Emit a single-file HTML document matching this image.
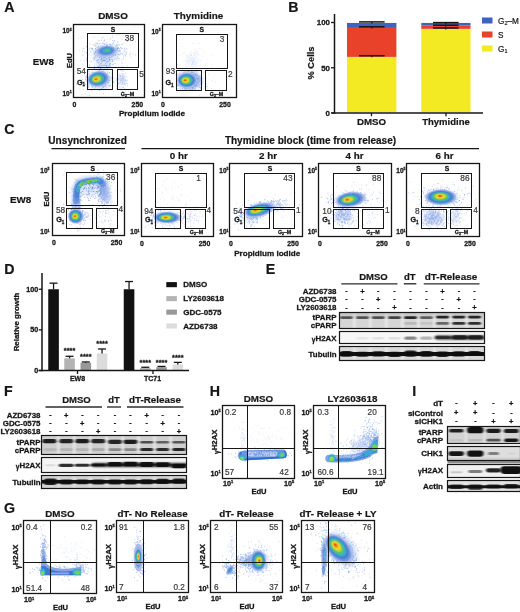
<!DOCTYPE html>
<html><head><meta charset="utf-8"><title>Figure</title>
<style>html,body{margin:0;padding:0;background:#fff}svg{display:block;font-family:"Liberation Sans", sans-serif}</style>
</head><body>
<svg width="520" height="612" viewBox="0 0 520 612">
<defs>
<filter id="b1" x="-30%" y="-30%" width="160%" height="160%"><feGaussianBlur stdDeviation="0.7"/></filter>
<filter id="b0" x="-10%" y="-10%" width="120%" height="120%"><feGaussianBlur stdDeviation="0.35"/></filter>
<filter id="b3" x="-50%" y="-50%" width="200%" height="200%"><feGaussianBlur stdDeviation="2"/></filter>
<filter id="b2" x="-30%" y="-30%" width="160%" height="160%"><feGaussianBlur stdDeviation="1.2"/></filter>
<filter id="bb" x="-30%" y="-60%" width="160%" height="220%"><feGaussianBlur stdDeviation="1.1 0.7"/></filter>
<filter id="bb2" x="-30%" y="-60%" width="160%" height="220%"><feGaussianBlur stdDeviation="1.8 0.9"/></filter>
</defs>
<rect width="520" height="612" fill="#fff"/>

<text x="4.3" y="12.3" font-size="14.2" font-weight="bold" text-anchor="start" fill="#161616" stroke="#161616" stroke-width="0.2">A</text>
<text x="288.3" y="12.2" font-size="14.2" font-weight="bold" text-anchor="start" fill="#161616" stroke="#161616" stroke-width="0.2">B</text>
<text x="4.3" y="134.3" font-size="14.2" font-weight="bold" text-anchor="start" fill="#161616" stroke="#161616" stroke-width="0.2">C</text>
<text x="4.3" y="274.2" font-size="14.2" font-weight="bold" text-anchor="start" fill="#161616" stroke="#161616" stroke-width="0.2">D</text>
<text x="265.7" y="274.3" font-size="14.2" font-weight="bold" text-anchor="start" fill="#161616" stroke="#161616" stroke-width="0.2">E</text>
<text x="4" y="396" font-size="14.2" font-weight="bold" text-anchor="start" fill="#161616" stroke="#161616" stroke-width="0.2">F</text>
<text x="209.8" y="396" font-size="14.2" font-weight="bold" text-anchor="start" fill="#161616" stroke="#161616" stroke-width="0.2">H</text>
<text x="412.2" y="396" font-size="14.2" font-weight="bold" text-anchor="start" fill="#161616" stroke="#161616" stroke-width="0.2">I</text>
<text x="4" y="512.8" font-size="14.2" font-weight="bold" text-anchor="start" fill="#161616" stroke="#161616" stroke-width="0.2">G</text>
<text x="32.8" y="64.8" font-size="9.8" font-weight="bold" text-anchor="start" fill="#161616" stroke="#161616" stroke-width="0.2">EW8</text>
<text x="113" y="18.7" font-size="9.9" font-weight="bold" text-anchor="middle" fill="#161616" stroke="#161616" stroke-width="0.2">DMSO</text>
<text x="198.5" y="18.7" font-size="9.9" font-weight="bold" text-anchor="middle" fill="#161616" stroke="#161616" stroke-width="0.2">Thymidine</text>
<text x="72" y="60.5" font-size="7.5" font-weight="bold" text-anchor="middle" fill="#161616" stroke="#161616" stroke-width="0.28" transform="rotate(-90 72 60.5)">EdU</text>
<text x="152" y="115.6" font-size="8.1" font-weight="bold" text-anchor="middle" fill="#161616" stroke="#161616" stroke-width="0.28">Propidium iodide</text>
<ellipse cx="106" cy="53" rx="13" ry="7" fill="#9fb6ea" opacity="0.55" filter="url(#b3)" transform="rotate(-5 106 53)"/>
<ellipse cx="103" cy="63" rx="8" ry="7" fill="#9fb6ea" opacity="0.35" filter="url(#b3)" transform="rotate(0 103 63)"/>
<clipPath id="k1"><rect x="86" y="68" width="28" height="23"/></clipPath>
<g clip-path="url(#k1)"><ellipse cx="99" cy="80" rx="11" ry="8" fill="#9fb6ea" opacity="0.7" filter="url(#b3)" transform="rotate(0 99 80)"/></g>
<ellipse cx="122" cy="80" rx="3" ry="6" fill="#9fb6ea" opacity="0.3" filter="url(#b3)" transform="rotate(0 122 80)"/>
<path d="M102.8 55.7h0.8M102.6 48.6h0.8M91.4 50.5h0.8M124.7 53.0h0.8M123.4 51.7h0.8M113.0 52.0h0.8M80.3 60.6h0.8M115.0 54.5h0.8M78.0 38.5h0.8M91.8 48.3h0.8M111.4 50.2h0.8M114.4 44.8h0.8M111.8 53.9h0.8M97.1 66.6h0.8M116.3 60.4h0.8M96.0 45.6h0.8M100.9 50.6h0.8M116.9 52.2h0.8M98.6 43.5h0.8M99.0 62.1h0.8M93.7 54.2h0.8M112.3 37.7h0.8M108.3 62.1h0.8M104.2 44.2h0.8M114.5 49.8h0.8M83.6 60.1h0.8M118.0 58.1h0.8M129.9 52.1h0.8M107.5 39.8h0.8M115.9 44.9h0.8M98.3 40.9h0.8M90.5 47.8h0.8M125.7 31.9h0.8M83.2 55.1h0.8M130.2 53.9h0.8M111.7 44.2h0.8M89.2 60.9h0.8M124.3 50.8h0.8M110.8 54.4h0.8M132.6 54.0h0.8M115.3 54.9h0.8M82.2 64.1h0.8M122.3 54.2h0.8M118.7 34.4h0.8M104.3 59.9h0.8M86.6 66.6h0.8M115.3 48.9h0.8M112.2 56.1h0.8M109.3 60.6h0.8M95.5 48.4h0.8M123.3 49.8h0.8M93.0 60.3h0.8M129.7 45.1h0.8M84.2 51.8h0.8M103.9 48.7h0.8M128.3 40.3h0.8M125.8 38.4h0.8M94.3 57.5h0.8M125.3 56.7h0.8M112.2 51.7h0.8M109.4 55.7h0.8M103.9 53.6h0.8M115.7 50.2h0.8M119.2 54.7h0.8M139.1 50.9h0.8M99.3 48.4h0.8M107.0 58.9h0.8M101.4 54.8h0.8M134.1 26.6h0.8M88.6 54.7h0.8M113.1 52.5h0.8M100.1 57.2h0.8M110.7 46.2h0.8M97.5 50.9h0.8M102.8 50.8h0.8M121.9 39.6h0.8M106.1 59.2h0.8M121.4 62.5h0.8M78.9 50.4h0.8M101.5 56.8h0.8" stroke="#a9bdee" stroke-width="0.8" opacity="0.75" fill="none" filter="url(#b0)"/>
<path d="M116.7 35.0h0.8M117.3 41.9h0.8M113.0 42.0h0.8M108.9 57.5h0.8M105.0 52.2h0.8M115.0 51.1h0.8M106.3 59.7h0.8M117.5 48.4h0.8M135.0 42.0h0.8M116.1 48.7h0.8M108.2 54.8h0.8M109.2 54.4h0.8M89.6 44.0h0.8M112.5 45.0h0.8M94.9 43.7h0.8M120.3 54.0h0.8M121.6 44.4h0.8M106.0 44.6h0.8M115.4 59.2h0.8M97.8 60.6h0.8M116.9 49.1h0.8M86.3 60.7h0.8M105.2 47.7h0.8M110.9 52.9h0.8M121.9 43.9h0.8M119.3 58.3h0.8M121.8 48.6h0.8M99.1 57.4h0.8M107.8 51.6h0.8M121.4 48.2h0.8M82.0 51.0h0.8M87.3 57.3h0.8M109.6 47.3h0.8M106.8 55.7h0.8M108.0 58.4h0.8M106.4 56.9h0.8M123.1 58.6h0.8M99.8 56.6h0.8M86.1 46.7h0.8M86.2 58.8h0.8M93.5 52.1h0.8M104.5 51.0h0.8M100.4 52.9h0.8M125.5 49.6h0.8M112.6 56.1h0.8M103.8 44.1h0.8M101.1 57.5h0.8M88.8 49.2h0.8M117.6 54.5h0.8M107.0 55.5h0.8M107.7 44.2h0.8M89.6 48.9h0.8M116.0 47.0h0.8M96.6 47.5h0.8M90.2 51.8h0.8M94.2 54.1h0.8M81.7 55.0h0.8M98.8 40.7h0.8M114.0 48.8h0.8M82.5 48.2h0.8M109.4 48.2h0.8M115.1 54.5h0.8M113.7 52.2h0.8M120.9 53.5h0.8M110.3 38.9h0.8M116.6 57.5h0.8M103.1 48.6h0.8M126.2 39.4h0.8M112.7 64.1h0.8M97.0 55.7h0.8M126.4 48.6h0.8M112.9 55.5h0.8M96.9 51.3h0.8M110.0 55.4h0.8M106.0 49.9h0.8M95.6 49.9h0.8M116.0 50.7h0.8M97.1 47.1h0.8M135.3 54.9h0.8M112.0 35.9h0.8M113.3 53.1h0.8M124.5 51.8h0.8M106.0 54.0h0.8M86.4 58.6h0.8M109.6 46.8h0.8M121.4 59.9h0.8M91.3 48.6h0.8M109.7 51.8h0.8M101.8 45.9h0.8M129.5 54.8h0.8M93.2 44.6h0.8M125.0 55.0h0.8M126.2 53.9h0.8M97.4 53.3h0.8M83.3 48.8h0.8M106.1 54.0h0.8M98.7 51.0h0.8M111.5 52.7h0.8M113.4 51.6h0.8M103.5 55.7h0.8M106.6 46.3h0.8M99.9 51.6h0.8M105.4 52.0h0.8M106.6 52.0h0.8M104.5 44.1h0.8M111.5 56.5h0.8M111.0 49.5h0.8M110.8 45.2h0.8M86.5 53.1h0.8M97.0 56.0h0.8M93.7 37.3h0.8M96.3 60.8h0.8M101.8 43.7h0.8M98.7 54.6h0.8M111.8 51.5h0.8M122.6 53.6h0.8M106.6 54.4h0.8M124.5 54.9h0.8M116.8 44.0h0.8M105.3 55.2h0.8M103.9 57.3h0.8M113.3 55.5h0.8M105.5 65.5h0.8M119.5 48.6h0.8M108.7 65.5h0.8M103.3 56.2h0.8M116.9 50.1h0.8M94.2 53.1h0.8M110.9 57.0h0.8M114.8 50.4h0.8M115.8 53.2h0.8M108.7 51.1h0.8M104.3 55.1h0.8M95.0 48.5h0.8M105.8 42.8h0.8M100.9 40.1h0.8M99.6 54.8h0.8M112.5 50.2h0.8M103.3 43.3h0.8M126.1 52.2h0.8M117.6 45.0h0.8M103.6 41.0h0.8M115.2 55.5h0.8M86.4 52.5h0.8M112.3 40.5h0.8M86.7 46.7h0.8M99.2 43.7h0.8M107.0 52.4h0.8M113.6 54.3h0.8M123.0 56.1h0.8M92.4 49.4h0.8M94.8 45.9h0.8M105.6 51.1h0.8" stroke="#7d9de3" stroke-width="0.8" opacity="0.8" fill="none" filter="url(#b0)"/>
<path d="M109.7 44.3h0.8M97.1 51.7h0.8M104.9 49.9h0.8M105.8 48.0h0.8M112.0 52.0h0.8M105.6 48.3h0.8M104.2 40.1h0.8M99.0 51.8h0.8M95.1 52.8h0.8M107.1 45.3h0.8M104.5 49.9h0.8M110.2 53.2h0.8M105.9 47.6h0.8M105.4 50.8h0.8M112.2 51.7h0.8M100.5 46.0h0.8M103.4 48.3h0.8M98.0 51.3h0.8M102.8 51.8h0.8M110.3 49.0h0.8M124.1 48.2h0.8M114.9 50.8h0.8M114.2 40.7h0.8M100.9 52.5h0.8M111.9 60.0h0.8M109.4 55.9h0.8M112.7 54.3h0.8M110.3 50.0h0.8M110.0 46.3h0.8M115.1 46.1h0.8M109.1 59.4h0.8M104.8 51.2h0.8M115.4 50.3h0.8M100.4 52.6h0.8M111.2 53.5h0.8M101.2 58.6h0.8M119.2 50.0h0.8M108.4 49.1h0.8M117.0 47.2h0.8M111.5 48.6h0.8M101.5 54.4h0.8M116.7 50.1h0.8M101.6 54.7h0.8M106.2 52.3h0.8M118.5 54.6h0.8M103.3 60.6h0.8M106.8 54.2h0.8M101.6 51.3h0.8M93.8 59.4h0.8M116.5 45.2h0.8M94.5 45.5h0.8M115.3 48.4h0.8M105.9 49.8h0.8M105.2 46.7h0.8M106.2 45.2h0.8M106.1 52.3h0.8M110.0 49.8h0.8M99.7 52.2h0.8M103.4 57.6h0.8M112.3 50.0h0.8M102.7 48.5h0.8M99.2 50.2h0.8M108.9 52.9h0.8M111.6 59.1h0.8M101.1 51.5h0.8M127.1 41.6h0.8M102.6 52.0h0.8M107.8 52.5h0.8M104.8 52.6h0.8M107.2 54.1h0.8M91.8 48.7h0.8M106.1 46.8h0.8M98.8 54.2h0.8M101.8 54.0h0.8M112.3 51.7h0.8M110.3 50.2h0.8M95.8 51.8h0.8M109.8 48.6h0.8M106.0 54.1h0.8M100.0 54.2h0.8M120.5 47.5h0.8M107.6 50.3h0.8M118.3 51.2h0.8M113.1 47.6h0.8M106.4 51.0h0.8M93.5 58.0h0.8M112.7 43.3h0.8M112.1 50.0h0.8M110.0 52.2h0.8M95.0 51.1h0.8M117.7 47.7h0.8M98.2 46.2h0.8M97.3 53.2h0.8M119.6 51.6h0.8M109.2 59.8h0.8M102.3 48.6h0.8M110.7 52.9h0.8M98.4 47.0h0.8M108.8 51.8h0.8M96.5 51.1h0.8M102.5 53.2h0.8M105.6 50.7h0.8M104.2 55.5h0.8M117.0 48.6h0.8M112.7 47.4h0.8M107.3 54.0h0.8M117.9 48.4h0.8M106.0 51.8h0.8M95.1 52.1h0.8M101.5 52.9h0.8M97.2 43.8h0.8M106.9 52.0h0.8M102.6 55.0h0.8M104.2 48.7h0.8M109.6 44.4h0.8M101.3 51.4h0.8M112.9 49.8h0.8M108.6 48.1h0.8M109.4 57.5h0.8M102.1 61.0h0.8M101.6 51.5h0.8M108.2 55.0h0.8M96.3 43.3h0.8M111.4 53.8h0.8M112.2 61.2h0.8M108.2 51.9h0.8M113.7 51.9h0.8M118.7 44.9h0.8M102.4 37.4h0.8M112.6 49.0h0.8M114.3 59.1h0.8M106.4 50.0h0.8M102.4 48.0h0.8M101.9 54.0h0.8M106.8 51.2h0.8M105.5 54.8h0.8" stroke="#4f82d6" stroke-width="0.8" opacity="0.8" fill="none" filter="url(#b0)"/>
<path d="M108.6 61.7h0.8M110.6 61.6h0.8M89.9 76.8h0.8M108.3 53.9h0.8M115.3 66.3h0.8M85.2 78.3h0.8M106.8 71.5h0.8M105.3 61.6h0.8M85.4 72.2h0.8M103.3 60.3h0.8M107.0 63.7h0.8M110.7 59.5h0.8M102.6 42.7h0.8M98.2 69.4h0.8M118.2 59.5h0.8M101.6 78.0h0.8M99.3 70.0h0.8M122.1 63.4h0.8M117.0 56.3h0.8M105.4 62.3h0.8M104.3 73.7h0.8M130.2 56.7h0.8M96.4 67.7h0.8M91.0 67.7h0.8" stroke="#a9bdee" stroke-width="0.8" opacity="0.75" fill="none" filter="url(#b0)"/>
<path d="M107.3 61.3h0.8M107.0 53.3h0.8M108.7 53.3h0.8M97.8 59.5h0.8M100.0 68.4h0.8M103.6 60.5h0.8M107.1 72.9h0.8M103.0 65.3h0.8M112.3 64.7h0.8M93.4 78.6h0.8M119.6 50.6h0.8M102.7 65.6h0.8M110.2 67.2h0.8M101.0 56.4h0.8M103.8 69.5h0.8M94.8 56.6h0.8M102.8 50.9h0.8M101.0 60.3h0.8M106.4 58.6h0.8M96.4 60.5h0.8M102.6 58.8h0.8M103.1 67.7h0.8M111.9 73.7h0.8M97.1 60.4h0.8M84.4 74.9h0.8M97.6 62.8h0.8M106.9 54.5h0.8M106.5 62.8h0.8M89.3 64.8h0.8M112.0 51.3h0.8M109.1 64.3h0.8M106.6 65.8h0.8M112.8 61.6h0.8M109.6 60.4h0.8M108.5 57.9h0.8M102.2 73.8h0.8M106.3 62.0h0.8M94.4 58.1h0.8M104.5 68.9h0.8M106.2 66.3h0.8M102.7 71.5h0.8M100.1 59.6h0.8M109.7 63.4h0.8M100.9 59.4h0.8" stroke="#7d9de3" stroke-width="0.8" opacity="0.8" fill="none" filter="url(#b0)"/>
<path d="M101.6 65.8h0.8M104.9 57.6h0.8M105.3 63.8h0.8M97.6 66.5h0.8M101.5 61.5h0.8M107.3 68.9h0.8M99.3 65.0h0.8M98.3 73.4h0.8M100.3 68.4h0.8M99.5 66.7h0.8M115.0 51.6h0.8M100.7 65.3h0.8M102.5 60.0h0.8M114.6 63.4h0.8M94.1 66.8h0.8M93.7 68.2h0.8M99.9 63.7h0.8M109.8 63.5h0.8M95.5 55.4h0.8M109.4 66.3h0.8M98.6 66.9h0.8M105.7 65.9h0.8M90.8 61.6h0.8M107.9 66.3h0.8M107.8 51.9h0.8M103.9 65.2h0.8M116.8 58.7h0.8M101.2 63.2h0.8M107.8 61.0h0.8M109.2 59.5h0.8M104.4 60.6h0.8M103.9 59.9h0.8M94.4 67.9h0.8M104.6 60.5h0.8M104.1 67.5h0.8M97.7 62.5h0.8M105.9 65.4h0.8M101.2 53.5h0.8M109.7 64.5h0.8" stroke="#4f82d6" stroke-width="0.8" opacity="0.8" fill="none" filter="url(#b0)"/>
<path d="M122.0 78.5h0.8M122.7 77.7h0.8M119.3 75.9h0.8M120.4 76.6h0.8M119.0 83.5h0.8M118.6 83.6h0.8M119.4 81.9h0.8M125.6 81.1h0.8M120.1 80.3h0.8M122.4 70.5h0.8M120.4 80.9h0.8M120.8 80.4h0.8M123.9 84.2h0.8M124.4 83.2h0.8M121.3 79.9h0.8M121.3 78.3h0.8M121.5 70.5h0.8M121.1 79.9h0.8M119.5 79.9h0.8M123.3 79.1h0.8M127.4 65.7h0.8M121.5 70.0h0.8M124.5 94.6h0.8M115.5 80.7h0.8M123.3 78.3h0.8M123.4 67.7h0.8M124.2 82.0h0.8M122.1 76.8h0.8M123.7 77.3h0.8M122.6 77.2h0.8M116.2 79.8h0.8M122.5 84.1h0.8M119.7 79.8h0.8M123.6 80.8h0.8M125.2 91.0h0.8M119.6 69.4h0.8M124.2 88.4h0.8M124.4 84.5h0.8M120.4 76.1h0.8M124.3 75.0h0.8M117.3 74.5h0.8M128.5 90.6h0.8M120.2 76.0h0.8M122.6 75.9h0.8M125.4 79.6h0.8M119.2 87.2h0.8M120.5 81.2h0.8M122.0 78.3h0.8M122.8 76.2h0.8M117.2 67.9h0.8M118.7 75.8h0.8M121.9 80.3h0.8M123.4 80.7h0.8M119.9 76.1h0.8M116.5 79.1h0.8M123.3 82.9h0.8M121.7 79.0h0.8M124.4 80.1h0.8M123.9 83.2h0.8M122.6 87.2h0.8M120.5 78.0h0.8M119.9 75.6h0.8M126.0 89.7h0.8M122.1 83.1h0.8M125.1 84.4h0.8M125.1 73.1h0.8M120.3 82.5h0.8M125.7 80.6h0.8M119.8 78.1h0.8M120.3 75.3h0.8M125.9 76.6h0.8M122.1 91.9h0.8M125.1 81.8h0.8M120.4 82.3h0.8M126.2 83.4h0.8M125.3 80.5h0.8M123.3 78.9h0.8M123.1 87.2h0.8M118.3 79.7h0.8M122.6 76.9h0.8M121.2 84.3h0.8M127.2 83.5h0.8M122.8 71.5h0.8M127.0 80.4h0.8M121.9 73.8h0.8M121.9 74.0h0.8M122.2 82.6h0.8M122.1 81.5h0.8M119.8 87.9h0.8M120.3 70.0h0.8M121.5 75.8h0.8M119.4 78.0h0.8M122.8 73.5h0.8M121.6 87.8h0.8M123.8 79.2h0.8M122.3 79.3h0.8M121.9 84.0h0.8M121.8 66.8h0.8M121.9 75.1h0.8M123.7 76.6h0.8M122.4 92.0h0.8M119.3 73.8h0.8M118.3 66.8h0.8M117.1 82.0h0.8M120.3 69.7h0.8M118.1 83.4h0.8M120.0 78.0h0.8M122.9 87.5h0.8M127.0 85.7h0.8M122.4 81.0h0.8" stroke="#8fa9e6" stroke-width="0.8" opacity="0.6" fill="none" filter="url(#b0)"/>
<path d="M121.7 89.0h0.8M94.7 84.4h0.8M101.6 80.0h0.8M90.3 69.6h0.8M89.6 67.8h0.8M113.6 82.4h0.8M84.9 93.9h0.8M106.6 62.3h0.8M121.5 83.7h0.8M121.8 66.0h0.8M105.0 82.7h0.8M100.7 81.1h0.8M109.1 65.5h0.8M81.2 70.3h0.8M90.5 75.8h0.8M102.8 81.6h0.8M97.6 74.2h0.8M93.7 88.8h0.8M107.5 79.5h0.8M95.9 93.7h0.8M91.5 86.5h0.8M111.8 75.8h0.8M106.8 69.1h0.8M110.6 79.9h0.8M79.4 88.4h0.8M88.6 92.4h0.8M89.5 79.8h0.8M101.1 76.7h0.8M100.5 74.9h0.8M106.2 78.9h0.8M97.3 56.3h0.8M112.2 78.3h0.8M76.3 83.9h0.8M105.0 88.3h0.8M86.6 95.0h0.8M97.0 86.0h0.8M92.2 71.2h0.8M112.5 85.8h0.8M117.8 84.6h0.8M89.0 66.9h0.8M89.2 75.4h0.8M88.7 86.3h0.8M101.7 77.2h0.8M99.9 78.5h0.8M101.5 86.0h0.8M108.9 72.5h0.8M81.3 94.7h0.8M100.7 89.2h0.8M77.5 80.0h0.8M96.6 67.7h0.8M92.6 87.0h0.8M113.1 91.6h0.8M85.8 69.6h0.8M105.5 87.1h0.8M98.8 68.6h0.8M108.5 85.4h0.8M104.2 74.9h0.8M102.7 86.2h0.8M89.0 65.4h0.8" stroke="#a9bdee" stroke-width="0.8" opacity="0.75" fill="none" filter="url(#b0)"/>
<path d="M101.0 82.3h0.8M98.8 84.9h0.8M93.2 80.2h0.8M96.0 83.5h0.8M110.6 76.8h0.8M115.7 86.2h0.8M104.8 82.4h0.8M112.1 77.0h0.8M96.3 74.2h0.8M102.9 87.0h0.8M102.6 81.8h0.8M96.5 81.2h0.8M87.4 87.5h0.8M93.8 74.3h0.8M91.3 76.3h0.8M105.7 84.9h0.8M87.8 86.7h0.8M104.7 75.8h0.8M85.5 77.5h0.8M93.2 82.6h0.8M93.5 69.1h0.8M98.7 71.2h0.8M104.3 72.3h0.8M91.8 76.0h0.8M94.7 87.8h0.8M105.3 82.4h0.8M99.4 71.0h0.8M93.4 77.5h0.8M90.5 83.9h0.8M91.5 76.9h0.8M88.0 69.7h0.8M103.8 86.7h0.8M98.6 74.4h0.8M76.4 84.0h0.8M108.0 80.3h0.8M106.6 87.2h0.8M106.7 76.3h0.8M107.1 83.1h0.8M85.3 79.5h0.8M86.5 81.0h0.8M101.8 73.4h0.8M82.5 89.6h0.8M102.2 87.8h0.8M88.2 87.4h0.8M116.3 88.8h0.8M96.5 81.7h0.8M97.5 85.7h0.8M106.4 79.3h0.8M87.6 85.7h0.8M94.7 84.0h0.8M101.4 88.7h0.8M106.8 76.2h0.8M102.2 89.4h0.8M94.0 83.0h0.8M108.6 85.7h0.8M101.1 72.1h0.8M88.0 82.8h0.8M103.1 93.8h0.8M92.0 87.3h0.8M102.9 69.8h0.8M91.5 81.9h0.8M93.9 79.7h0.8M101.1 75.0h0.8M101.3 75.9h0.8M94.0 83.6h0.8M93.6 82.2h0.8M110.9 78.3h0.8M97.4 84.3h0.8M95.9 86.4h0.8M88.2 84.9h0.8M93.3 76.1h0.8M111.6 73.3h0.8M112.6 81.7h0.8M108.9 72.9h0.8M108.8 86.8h0.8M97.0 79.4h0.8M117.9 78.2h0.8M94.1 77.0h0.8M101.8 81.3h0.8M100.8 89.4h0.8M95.7 83.0h0.8M109.0 72.8h0.8M107.8 89.0h0.8M86.2 75.4h0.8M88.2 70.9h0.8M100.2 69.1h0.8M103.2 87.5h0.8M84.8 80.1h0.8M83.2 86.5h0.8M91.9 79.4h0.8M98.9 83.0h0.8M95.2 80.5h0.8M93.7 81.3h0.8M88.6 81.7h0.8M82.1 79.5h0.8M113.5 78.3h0.8M88.1 82.9h0.8M88.9 71.9h0.8M92.7 84.9h0.8M101.0 79.0h0.8M89.7 75.0h0.8M109.1 79.8h0.8M88.7 69.3h0.8M88.9 95.3h0.8M88.7 80.9h0.8M99.6 78.9h0.8M94.7 72.7h0.8M90.9 90.6h0.8" stroke="#7d9de3" stroke-width="0.8" opacity="0.8" fill="none" filter="url(#b0)"/>
<path d="M94.1 84.0h0.8M88.0 80.3h0.8M100.1 83.9h0.8M91.8 83.3h0.8M99.8 76.7h0.8M100.3 76.0h0.8M93.4 80.6h0.8M82.2 81.8h0.8M91.4 74.9h0.8M96.0 83.4h0.8M96.4 85.4h0.8M90.5 75.7h0.8M107.2 80.3h0.8M103.0 75.9h0.8M102.8 80.4h0.8M101.8 79.6h0.8M104.6 76.4h0.8M91.6 74.9h0.8M104.3 76.1h0.8M91.4 77.1h0.8M94.7 75.3h0.8M96.0 77.7h0.8M94.3 76.6h0.8M98.0 78.1h0.8M98.8 80.9h0.8M98.7 70.9h0.8M94.4 77.2h0.8M101.6 73.0h0.8M93.7 79.4h0.8M96.6 84.2h0.8M96.0 84.2h0.8M88.5 73.9h0.8M105.3 80.8h0.8M100.9 80.1h0.8M100.1 74.7h0.8M103.2 77.1h0.8M103.8 79.5h0.8M85.8 76.4h0.8M104.5 78.5h0.8M95.8 81.3h0.8M95.2 78.2h0.8M98.7 80.5h0.8M106.8 78.9h0.8M109.9 85.7h0.8M108.5 82.9h0.8M98.8 80.4h0.8M96.8 77.2h0.8M97.3 77.5h0.8M107.8 80.8h0.8M94.3 72.7h0.8M97.5 78.4h0.8M91.1 76.3h0.8M85.3 84.1h0.8M99.1 90.4h0.8M97.7 79.4h0.8M106.4 79.4h0.8M98.8 78.4h0.8M95.3 86.5h0.8M104.8 86.1h0.8M96.0 80.4h0.8M93.4 84.6h0.8M90.2 83.4h0.8M105.1 84.8h0.8M93.2 85.1h0.8M93.4 77.5h0.8M91.0 85.7h0.8M107.2 76.3h0.8M93.4 79.3h0.8M113.1 82.0h0.8M93.8 73.2h0.8M94.8 85.3h0.8M108.7 77.4h0.8M93.7 78.5h0.8M87.6 85.2h0.8M92.3 85.1h0.8M87.4 76.3h0.8M99.2 76.7h0.8M102.5 79.4h0.8M91.5 83.5h0.8M101.8 71.6h0.8M108.9 80.5h0.8M101.4 71.9h0.8M93.6 79.2h0.8M103.4 73.3h0.8M91.7 72.6h0.8M96.8 81.6h0.8M87.9 79.0h0.8M101.9 85.9h0.8M101.7 78.2h0.8M90.6 77.2h0.8M94.2 81.1h0.8M98.7 86.7h0.8M99.1 75.5h0.8M107.5 82.5h0.8M98.2 77.0h0.8M86.6 77.4h0.8" stroke="#4f82d6" stroke-width="0.8" opacity="0.8" fill="none" filter="url(#b0)"/>
<g filter="url(#b1)" opacity="0.95" transform="rotate(-5 107.5 50)"><ellipse cx="106.0" cy="51.0" rx="10.5" ry="5.6" fill="#aabdec"/><ellipse cx="106.29" cy="50.8" rx="8.45" ry="4.51" fill="#7396dc"/><ellipse cx="106.58" cy="50.61" rx="6.41" ry="3.42" fill="#4682d0"/><ellipse cx="106.88" cy="50.41" rx="4.36" ry="2.32" fill="#3aaecb"/><ellipse cx="107.17" cy="50.22" rx="2.31" ry="1.23" fill="#56c46c"/></g>
<g filter="url(#b1)" opacity="1.0" transform="rotate(-10 95.6 79.3)"><ellipse cx="98.6" cy="79.3" rx="11.0" ry="7.6" fill="#aabdec"/><ellipse cx="98.24" cy="79.3" rx="9.68" ry="6.69" fill="#7396dc"/><ellipse cx="97.88" cy="79.3" rx="8.36" ry="5.78" fill="#4682d0"/><ellipse cx="97.46" cy="79.3" rx="6.82" ry="4.71" fill="#3aaecb"/><ellipse cx="97.1" cy="79.3" rx="5.5" ry="3.8" fill="#56c46c"/><ellipse cx="96.74" cy="79.3" rx="4.18" ry="2.89" fill="#b6d83e"/><ellipse cx="96.44" cy="79.3" rx="3.08" ry="2.13" fill="#f0d426"/><ellipse cx="96.11" cy="79.3" rx="1.87" ry="1.29" fill="#f08e24"/><ellipse cx="95.82" cy="79.3" rx="0.82" ry="0.57" fill="#e4401c"/></g>
<rect x="73.5" y="24.5" width="71.0" height="73.0" fill="none" stroke="#161616" stroke-width="1.3"/>
<rect x="87.5" y="33.5" width="51.0" height="34.0" fill="none" stroke="#161616" stroke-width="1.0"/>
<rect x="87.5" y="69.5" width="25.0" height="20.0" fill="none" stroke="#161616" stroke-width="1.0"/>
<rect x="117.5" y="69.5" width="20.0" height="20.0" fill="none" stroke="#161616" stroke-width="1.0"/>
<text x="113" y="32" font-size="6.8" font-weight="bold" text-anchor="middle" fill="#161616" stroke="#161616" stroke-width="0.28">S</text>
<text x="134.0" y="41.4" font-size="8.3" font-weight="normal" text-anchor="end" fill="#3a3a3a" stroke="#3a3a3a" stroke-width="0.2">38</text>
<text x="85.9" y="74.1" font-size="8.3" font-weight="normal" text-anchor="end" fill="#3a3a3a" stroke="#3a3a3a" stroke-width="0.2">54</text>
<text x="139.20000000000002" y="77.1" font-size="8.3" font-weight="normal" text-anchor="start" fill="#3a3a3a" stroke="#3a3a3a" stroke-width="0.2">5</text>
<text x="81" y="84.5" font-size="7.2" font-weight="bold" text-anchor="middle" fill="#161616" stroke="#161616" stroke-width="0.28">G<tspan dy="1.6" font-size="4.5">1</tspan></text>
<text x="127.5" y="96" font-size="5.3" font-weight="bold" text-anchor="middle" fill="#161616" stroke="#161616" stroke-width="0.28">G<tspan dy="1" font-size="3.4">2</tspan><tspan dy="-1">–M</tspan></text>
<text x="62.5" y="33.3" font-size="6.5" font-weight="bold" text-anchor="start" fill="#161616" stroke="#161616" stroke-width="0.28">10<tspan dy="-2.47" font-size="3.58">5</tspan></text>
<text x="62.5" y="95.5" font-size="6.5" font-weight="bold" text-anchor="start" fill="#161616" stroke="#161616" stroke-width="0.28">10<tspan dy="-2.47" font-size="3.58">1</tspan></text>
<text x="74.3" y="106.5" font-size="6.9" font-weight="bold" text-anchor="middle" fill="#161616" stroke="#161616" stroke-width="0.28">0</text>
<text x="137.3" y="106.5" font-size="6.9" font-weight="bold" text-anchor="middle" fill="#161616" stroke="#161616" stroke-width="0.28">250</text>
<ellipse cx="192" cy="62" rx="7" ry="6" fill="#9fb6ea" opacity="0.12" filter="url(#b3)" transform="rotate(0 192 62)"/>
<clipPath id="k2"><rect x="176" y="70" width="26.5" height="21"/></clipPath>
<g clip-path="url(#k2)"><ellipse cx="189" cy="80.5" rx="12" ry="9" fill="#86a3e6" opacity="0.85" filter="url(#b3)" transform="rotate(0 189 80.5)"/></g>
<path d="M197.9 54.4h0.8M183.4 61.4h0.8M193.6 64.2h0.8M196.3 69.9h0.8M186.5 66.9h0.8M185.6 64.9h0.8M193.2 61.7h0.8M198.3 59.9h0.8M199.2 66.1h0.8M192.9 56.0h0.8M187.1 56.3h0.8M190.7 59.8h0.8M211.4 64.5h0.8M197.0 54.0h0.8M187.4 57.8h0.8M193.2 52.7h0.8M202.5 56.1h0.8M199.0 43.6h0.8M192.0 61.9h0.8M193.2 64.2h0.8M193.8 61.1h0.8M179.7 55.0h0.8M176.8 64.4h0.8M194.0 58.6h0.8M186.7 55.9h0.8M204.0 72.1h0.8M191.6 69.0h0.8M181.7 46.5h0.8M188.9 53.9h0.8M188.4 61.3h0.8M211.7 55.4h0.8M192.3 61.9h0.8M191.8 66.5h0.8M203.5 51.3h0.8M193.1 58.1h0.8M194.3 49.3h0.8M180.6 43.8h0.8M195.4 61.3h0.8M192.5 43.4h0.8M189.6 54.7h0.8M182.8 53.6h0.8M196.5 63.8h0.8M191.9 63.6h0.8M188.1 60.5h0.8M192.3 63.9h0.8M191.5 59.0h0.8M191.1 55.5h0.8M206.5 63.6h0.8M194.8 76.0h0.8M201.1 49.1h0.8M196.5 65.9h0.8M204.3 69.2h0.8M197.0 51.8h0.8M186.3 61.9h0.8M195.3 52.8h0.8M189.5 57.2h0.8M192.4 62.4h0.8M190.1 51.3h0.8M200.1 71.2h0.8M191.3 67.2h0.8M194.9 64.6h0.8M195.1 54.7h0.8M195.7 67.1h0.8M186.2 73.8h0.8M205.6 72.8h0.8M204.9 65.2h0.8M189.8 55.8h0.8M186.7 60.8h0.8M191.8 64.7h0.8M178.9 76.2h0.8M206.8 59.8h0.8M196.4 63.3h0.8M193.8 58.5h0.8M191.2 54.2h0.8M193.2 59.8h0.8M194.1 54.0h0.8M192.3 60.3h0.8M195.9 52.6h0.8M194.7 66.9h0.8M195.9 57.4h0.8M188.8 58.3h0.8M196.7 70.9h0.8M191.0 55.5h0.8M194.4 61.4h0.8M186.1 54.8h0.8M191.3 64.7h0.8M184.2 52.9h0.8M195.2 51.4h0.8M192.7 62.5h0.8M191.3 52.9h0.8M191.6 57.7h0.8M194.2 54.1h0.8M199.1 48.3h0.8M190.9 60.1h0.8M198.3 55.7h0.8M195.5 56.0h0.8M196.8 72.2h0.8M189.4 63.1h0.8M186.0 66.8h0.8M199.9 60.2h0.8" stroke="#a9bdee" stroke-width="0.8" opacity="0.45" fill="none" filter="url(#b0)"/>
<path d="M181.1 82.7h0.8M197.0 86.5h0.8M184.2 88.3h0.8M180.4 86.7h0.8M196.8 78.7h0.8M180.4 79.9h0.8M187.6 80.2h0.8M193.9 79.7h0.8M190.3 82.8h0.8M192.1 81.0h0.8M187.5 77.1h0.8M198.4 81.3h0.8M181.4 77.4h0.8M188.0 78.0h0.8M196.6 74.1h0.8M192.4 81.3h0.8M180.8 80.8h0.8M188.3 83.3h0.8M185.8 82.2h0.8M177.3 74.5h0.8M194.5 86.2h0.8M188.9 77.2h0.8M183.4 84.2h0.8M193.6 74.8h0.8M190.1 75.6h0.8M189.4 85.5h0.8M197.0 82.7h0.8M189.0 86.3h0.8M184.5 76.6h0.8M186.4 80.1h0.8M181.4 83.2h0.8M192.8 80.9h0.8M200.9 78.7h0.8M198.1 77.5h0.8M190.4 79.5h0.8M185.5 77.1h0.8M186.6 76.5h0.8M185.2 77.6h0.8M181.6 79.8h0.8M194.5 79.1h0.8M185.6 88.0h0.8M195.8 85.6h0.8M197.1 78.7h0.8M188.1 86.6h0.8M185.1 79.8h0.8M191.6 82.6h0.8M187.1 85.9h0.8M187.8 84.5h0.8M196.5 84.1h0.8M194.1 74.1h0.8M179.8 77.1h0.8M192.3 88.8h0.8M180.4 82.2h0.8M183.0 76.5h0.8M187.1 84.3h0.8M190.5 87.0h0.8M182.1 85.4h0.8M195.5 80.9h0.8M192.3 77.4h0.8M181.4 78.3h0.8M185.6 89.6h0.8M190.4 82.2h0.8M194.2 76.2h0.8M195.4 82.6h0.8M178.4 83.8h0.8M192.9 83.0h0.8M200.1 78.2h0.8M192.6 84.6h0.8M182.7 87.1h0.8M178.8 73.3h0.8M192.7 74.5h0.8M188.2 71.5h0.8M189.5 74.3h0.8M191.4 72.1h0.8M192.1 79.0h0.8M189.4 80.1h0.8M189.9 73.2h0.8M182.4 78.0h0.8M183.7 77.1h0.8M181.6 82.3h0.8M188.0 76.0h0.8M182.1 84.9h0.8M184.4 83.7h0.8M181.4 80.5h0.8M191.4 84.8h0.8M194.6 86.2h0.8M186.4 79.3h0.8M194.4 78.2h0.8M196.4 71.8h0.8M193.6 79.5h0.8M191.2 80.6h0.8M181.5 77.9h0.8M199.6 76.0h0.8M180.6 79.8h0.8M186.2 75.5h0.8M183.1 86.3h0.8M185.2 74.5h0.8M194.5 83.6h0.8M181.7 84.6h0.8M196.9 79.1h0.8M179.9 83.3h0.8M195.4 80.4h0.8M191.9 84.7h0.8M185.6 80.3h0.8M197.4 75.3h0.8M194.6 76.8h0.8M192.2 84.3h0.8M180.7 80.0h0.8M190.7 83.7h0.8M182.5 75.0h0.8M187.7 79.3h0.8M178.5 85.6h0.8M185.3 88.4h0.8M195.0 80.6h0.8M194.1 74.4h0.8M186.7 77.3h0.8M180.1 80.6h0.8M188.0 88.4h0.8M182.6 77.9h0.8M192.0 82.7h0.8M189.2 77.9h0.8M192.5 82.5h0.8M179.4 74.0h0.8M190.0 80.8h0.8M189.8 75.7h0.8M187.6 75.5h0.8M191.7 84.3h0.8M183.4 78.0h0.8M182.4 82.2h0.8M180.0 83.3h0.8M189.0 82.1h0.8" stroke="#5f8fdc" stroke-width="0.8" opacity="0.7" fill="none" filter="url(#b0)"/>
<path d="M192.2 73.4h0.8M188.5 89.6h0.8M186.3 74.2h0.8M188.3 86.1h0.8M183.0 85.1h0.8M198.1 79.2h0.8M182.3 78.8h0.8M184.3 82.4h0.8M182.5 86.0h0.8M191.6 87.4h0.8M188.3 82.9h0.8M182.2 73.3h0.8M196.2 84.5h0.8M191.3 76.4h0.8M190.5 75.4h0.8M179.1 80.3h0.8M181.7 81.9h0.8M185.4 73.7h0.8M201.3 73.3h0.8M181.7 85.6h0.8M181.4 76.5h0.8M192.4 77.1h0.8M178.3 77.3h0.8M184.0 83.0h0.8M200.3 87.9h0.8M178.6 88.7h0.8M186.7 83.7h0.8M184.7 86.6h0.8M185.5 89.6h0.8M194.7 85.9h0.8M182.1 73.2h0.8M185.1 74.0h0.8M194.6 73.5h0.8M182.6 76.3h0.8M191.4 81.2h0.8M192.3 85.7h0.8M184.0 88.9h0.8M198.3 82.4h0.8M183.0 76.1h0.8M186.0 73.7h0.8M187.7 80.8h0.8M187.2 83.1h0.8M196.8 82.5h0.8M188.0 76.6h0.8M183.8 71.9h0.8" stroke="#a9bdee" stroke-width="0.8" opacity="0.75" fill="none" filter="url(#b0)"/>
<path d="M187.3 83.1h0.8M196.1 78.4h0.8M199.3 76.6h0.8M181.8 75.8h0.8M199.9 83.6h0.8M179.2 83.6h0.8M191.8 79.1h0.8M188.2 78.7h0.8M187.3 88.0h0.8M199.4 78.9h0.8M182.1 79.3h0.8M195.1 82.6h0.8M183.4 82.6h0.8M186.4 83.5h0.8M184.8 71.9h0.8M188.5 85.0h0.8M179.2 79.9h0.8M195.0 78.3h0.8M194.6 86.5h0.8M180.5 90.0h0.8M193.9 88.3h0.8M180.6 76.6h0.8M193.1 83.8h0.8M184.5 83.6h0.8M194.1 82.3h0.8M192.1 89.3h0.8M184.2 81.4h0.8M183.9 86.5h0.8M184.8 83.3h0.8M189.1 80.9h0.8M201.5 80.0h0.8M199.2 85.3h0.8M198.4 79.5h0.8M195.3 84.9h0.8M183.2 82.1h0.8M187.0 80.3h0.8M198.2 76.3h0.8M184.4 76.8h0.8M188.1 83.8h0.8M201.8 82.3h0.8M191.6 76.2h0.8M192.6 88.4h0.8M195.0 89.7h0.8M194.5 71.9h0.8M185.6 83.9h0.8M191.3 75.8h0.8M181.0 86.1h0.8M177.6 88.8h0.8M188.2 82.2h0.8M177.6 77.1h0.8M193.4 72.0h0.8M178.4 80.7h0.8M191.8 84.7h0.8M185.1 79.3h0.8M186.2 77.2h0.8M190.0 81.4h0.8M183.1 81.9h0.8M187.9 80.1h0.8M190.0 74.4h0.8M185.5 89.1h0.8M179.5 79.9h0.8M183.4 86.0h0.8M180.4 70.8h0.8M192.0 78.5h0.8M185.5 86.7h0.8M181.1 78.3h0.8M189.2 82.9h0.8M184.0 86.5h0.8M199.0 78.5h0.8M189.1 78.5h0.8M183.0 73.1h0.8M184.9 88.0h0.8M196.9 78.5h0.8M183.9 76.5h0.8M193.2 81.2h0.8M184.2 74.6h0.8M198.3 85.0h0.8M180.6 86.2h0.8M179.4 84.2h0.8M180.5 78.1h0.8M191.9 83.0h0.8M195.9 75.7h0.8M200.3 88.2h0.8M187.9 83.2h0.8M181.9 79.6h0.8M177.7 81.0h0.8M189.6 88.2h0.8M195.4 85.2h0.8M185.2 79.2h0.8M185.3 81.8h0.8M188.2 77.5h0.8M201.0 79.9h0.8M200.3 87.3h0.8M184.1 82.8h0.8M198.1 78.6h0.8M188.7 77.3h0.8M188.5 78.5h0.8M188.6 86.3h0.8M198.9 81.3h0.8M189.6 85.4h0.8M185.7 74.4h0.8M196.7 75.1h0.8M195.3 74.9h0.8M194.6 89.1h0.8M180.5 89.1h0.8M193.6 84.5h0.8M187.6 78.7h0.8M185.0 78.8h0.8M185.2 76.4h0.8M191.1 86.6h0.8M193.6 73.8h0.8M189.3 81.3h0.8M199.2 87.4h0.8M192.1 87.5h0.8" stroke="#7d9de3" stroke-width="0.8" opacity="0.8" fill="none" filter="url(#b0)"/>
<path d="M185.8 86.9h0.8M185.6 82.1h0.8M193.2 76.7h0.8M184.1 73.2h0.8M188.9 80.3h0.8M186.2 82.6h0.8M188.5 79.4h0.8M192.5 87.8h0.8M185.5 76.6h0.8M184.6 80.9h0.8M191.3 76.9h0.8M193.6 76.3h0.8M192.6 82.3h0.8M190.6 89.4h0.8M186.5 79.8h0.8M190.7 84.1h0.8M180.5 81.6h0.8M183.8 83.1h0.8M195.7 80.7h0.8M187.4 81.3h0.8M191.2 81.2h0.8M185.8 77.5h0.8M187.0 85.5h0.8M187.4 86.1h0.8M189.5 80.4h0.8M178.7 77.7h0.8M195.0 75.1h0.8M182.4 76.0h0.8M184.9 83.2h0.8M191.3 72.1h0.8M196.2 78.0h0.8M184.7 87.4h0.8M187.5 75.4h0.8M184.4 77.5h0.8M182.3 79.1h0.8M192.9 82.0h0.8M182.4 81.0h0.8M188.2 83.7h0.8M186.2 82.4h0.8M199.8 80.9h0.8M181.9 81.9h0.8M183.5 79.0h0.8M189.1 81.9h0.8M186.4 84.0h0.8M186.9 75.1h0.8M192.9 79.0h0.8M194.8 77.8h0.8M191.2 81.8h0.8M181.7 86.3h0.8M177.4 84.3h0.8M194.1 82.6h0.8M191.8 78.4h0.8M187.9 81.4h0.8M190.4 83.4h0.8M186.8 77.6h0.8M184.8 82.2h0.8M178.7 75.3h0.8M185.7 78.2h0.8M186.1 79.5h0.8M192.4 72.3h0.8M186.3 82.5h0.8M190.7 85.5h0.8M193.9 76.1h0.8M191.6 79.1h0.8M183.5 86.9h0.8M184.5 77.0h0.8M185.7 77.0h0.8M193.7 82.1h0.8M195.9 82.2h0.8M184.5 84.9h0.8M184.3 78.6h0.8M187.1 80.7h0.8M194.7 78.0h0.8M190.0 80.4h0.8M180.9 75.9h0.8M186.8 82.2h0.8M189.8 82.5h0.8M188.3 78.6h0.8M190.4 76.3h0.8M180.4 79.1h0.8M179.9 78.4h0.8M183.8 78.2h0.8M187.7 77.2h0.8M185.6 73.4h0.8M188.8 76.8h0.8M183.5 81.5h0.8M188.5 80.9h0.8M179.6 81.5h0.8M188.8 76.4h0.8M192.2 80.3h0.8M188.1 78.6h0.8M191.1 80.9h0.8M194.4 82.4h0.8M184.5 79.6h0.8M193.2 79.0h0.8M190.2 82.7h0.8M187.0 70.8h0.8M188.7 81.4h0.8M188.8 77.3h0.8M194.8 79.9h0.8M184.5 77.5h0.8M190.0 75.9h0.8M182.3 88.9h0.8M195.4 84.9h0.8M195.7 83.0h0.8M178.5 85.5h0.8M195.0 82.5h0.8M176.9 85.7h0.8M195.7 78.4h0.8M188.7 83.7h0.8M187.5 85.1h0.8M188.5 83.4h0.8" stroke="#4f82d6" stroke-width="0.8" opacity="0.8" fill="none" filter="url(#b0)"/>
<path d="M203.3 72.8h0.8M199.1 95.3h0.8M204.1 86.3h0.8M207.4 88.3h0.8M205.1 77.1h0.8M203.1 70.7h0.8M202.3 84.4h0.8M194.6 81.0h0.8M206.2 86.4h0.8M199.4 76.8h0.8M195.7 75.1h0.8M205.1 90.0h0.8M198.6 86.7h0.8M204.7 77.6h0.8M211.5 67.8h0.8M202.7 81.1h0.8M211.3 88.7h0.8M211.8 80.7h0.8M206.8 86.6h0.8M205.0 81.7h0.8M202.3 78.0h0.8M198.2 89.5h0.8M201.3 69.9h0.8M204.0 79.8h0.8M203.7 88.8h0.8M202.6 78.7h0.8M200.1 79.9h0.8M201.3 81.0h0.8M215.1 81.9h0.8M199.7 89.4h0.8M206.4 84.0h0.8M205.8 84.0h0.8M205.6 86.9h0.8M206.9 86.6h0.8M201.0 80.0h0.8M200.2 84.7h0.8M206.2 77.7h0.8M205.3 92.8h0.8M207.8 74.6h0.8M202.6 83.1h0.8" stroke="#8fa9e6" stroke-width="0.8" opacity="0.5" fill="none" filter="url(#b0)"/>
<g filter="url(#b1)" opacity="1.0" transform="rotate(0 184.8 80.3)"><ellipse cx="187.3" cy="80.3" rx="10.0" ry="7.6" fill="#aabdec"/><ellipse cx="187.0" cy="80.3" rx="8.8" ry="6.69" fill="#7396dc"/><ellipse cx="186.7" cy="80.3" rx="7.6" ry="5.78" fill="#4682d0"/><ellipse cx="186.35" cy="80.3" rx="6.2" ry="4.71" fill="#3aaecb"/><ellipse cx="186.05" cy="80.3" rx="5.0" ry="3.8" fill="#56c46c"/><ellipse cx="185.75" cy="80.3" rx="3.8" ry="2.89" fill="#b6d83e"/><ellipse cx="185.5" cy="80.3" rx="2.8" ry="2.13" fill="#f0d426"/><ellipse cx="185.23" cy="80.3" rx="1.7" ry="1.29" fill="#f08e24"/><ellipse cx="184.99" cy="80.3" rx="0.75" ry="0.57" fill="#e4401c"/></g>
<rect x="162.5" y="24.5" width="74.0" height="73.0" fill="none" stroke="#161616" stroke-width="1.3"/>
<rect x="176.5" y="34.5" width="51.0" height="34.0" fill="none" stroke="#161616" stroke-width="1.0"/>
<rect x="176.5" y="70.5" width="25.0" height="20.0" fill="none" stroke="#161616" stroke-width="1.0"/>
<rect x="205.5" y="70.5" width="21.0" height="20.0" fill="none" stroke="#161616" stroke-width="1.0"/>
<text x="201.75" y="32" font-size="6.8" font-weight="bold" text-anchor="middle" fill="#161616" stroke="#161616" stroke-width="0.28">S</text>
<text x="224.4" y="42.1" font-size="8.3" font-weight="normal" text-anchor="end" fill="#3a3a3a" stroke="#3a3a3a" stroke-width="0.2">3</text>
<text x="175.0" y="74.0" font-size="8.3" font-weight="normal" text-anchor="end" fill="#3a3a3a" stroke="#3a3a3a" stroke-width="0.2">93</text>
<text x="227.9" y="77.2" font-size="8.3" font-weight="normal" text-anchor="start" fill="#3a3a3a" stroke="#3a3a3a" stroke-width="0.2">2</text>
<text x="169.5" y="85" font-size="7.2" font-weight="bold" text-anchor="middle" fill="#161616" stroke="#161616" stroke-width="0.28">G<tspan dy="1.6" font-size="4.5">1</tspan></text>
<text x="216.5" y="95.8" font-size="5.3" font-weight="bold" text-anchor="middle" fill="#161616" stroke="#161616" stroke-width="0.28">G<tspan dy="1" font-size="3.4">2</tspan><tspan dy="-1">–M</tspan></text>
<text x="151.5" y="33.5" font-size="6.5" font-weight="bold" text-anchor="start" fill="#161616" stroke="#161616" stroke-width="0.28">10<tspan dy="-2.47" font-size="3.58">5</tspan></text>
<text x="151.5" y="95.8" font-size="6.5" font-weight="bold" text-anchor="start" fill="#161616" stroke="#161616" stroke-width="0.28">10<tspan dy="-2.47" font-size="3.58">1</tspan></text>
<text x="162.8" y="106.8" font-size="6.9" font-weight="bold" text-anchor="middle" fill="#161616" stroke="#161616" stroke-width="0.28">0</text>
<text x="225" y="106.8" font-size="6.9" font-weight="bold" text-anchor="middle" fill="#161616" stroke="#161616" stroke-width="0.28">250</text>
<rect x="347" y="56.89" width="49.4" height="55.11" fill="#f3ea24" stroke="none" stroke-width="0"/>
<rect x="347" y="27.93" width="49.4" height="28.96" fill="#e8432a" stroke="none" stroke-width="0"/>
<rect x="347" y="22.95" width="49.4" height="4.98" fill="#3e62bf" stroke="none" stroke-width="0"/>
<rect x="421.25" y="28.83" width="49.25" height="83.17" fill="#f3ea24" stroke="none" stroke-width="0"/>
<rect x="421.25" y="25.22" width="49.25" height="3.62" fill="#e8432a" stroke="none" stroke-width="0"/>
<rect x="421.25" y="22.95" width="49.25" height="2.26" fill="#3e62bf" stroke="none" stroke-width="0"/>
<line x1="359.0" y1="21.9" x2="384.6" y2="21.9" stroke="#161616" stroke-width="1.5"/>
<line x1="371.8" y1="21.9" x2="371.8" y2="23.5" stroke="#161616" stroke-width="1.2"/>
<line x1="359.0" y1="26.8" x2="384.6" y2="26.8" stroke="#161616" stroke-width="1.5"/>
<line x1="371.8" y1="26.8" x2="371.8" y2="28.4" stroke="#161616" stroke-width="1.2"/>
<line x1="359.0" y1="55.7" x2="384.6" y2="55.7" stroke="#161616" stroke-width="1.5"/>
<line x1="371.8" y1="55.7" x2="371.8" y2="57.3" stroke="#161616" stroke-width="1.2"/>
<line x1="433.0" y1="22.6" x2="458.6" y2="22.6" stroke="#161616" stroke-width="1.5"/>
<line x1="445.8" y1="22.6" x2="445.8" y2="24.2" stroke="#161616" stroke-width="1.2"/>
<line x1="433.0" y1="25.2" x2="458.6" y2="25.2" stroke="#161616" stroke-width="1.5"/>
<line x1="445.8" y1="25.2" x2="445.8" y2="26.8" stroke="#161616" stroke-width="1.2"/>
<line x1="433.0" y1="28.0" x2="458.6" y2="28.0" stroke="#161616" stroke-width="1.5"/>
<line x1="445.8" y1="28.0" x2="445.8" y2="29.6" stroke="#161616" stroke-width="1.2"/>
<line x1="334.5" y1="14" x2="334.5" y2="113.7" stroke="#161616" stroke-width="1.5"/>
<line x1="331.5" y1="113" x2="483" y2="113" stroke="#161616" stroke-width="1.5"/>
<line x1="331" y1="22.5" x2="334.5" y2="22.5" stroke="#161616" stroke-width="1.3"/>
<text x="330" y="25.3" font-size="7.9" font-weight="bold" text-anchor="end" fill="#161616" stroke="#161616" stroke-width="0.28">100</text>
<line x1="331" y1="67.75" x2="334.5" y2="67.75" stroke="#161616" stroke-width="1.3"/>
<text x="330" y="70.55" font-size="7.9" font-weight="bold" text-anchor="end" fill="#161616" stroke="#161616" stroke-width="0.28">50</text>
<line x1="331" y1="113.0" x2="334.5" y2="113.0" stroke="#161616" stroke-width="1.3"/>
<text x="330" y="115.8" font-size="7.9" font-weight="bold" text-anchor="end" fill="#161616" stroke="#161616" stroke-width="0.28">0</text>
<line x1="371.5" y1="113" x2="371.5" y2="116.2" stroke="#161616" stroke-width="1.3"/>
<line x1="446" y1="113" x2="446" y2="116.2" stroke="#161616" stroke-width="1.3"/>
<text x="313.6" y="63" font-size="9.3" font-weight="bold" text-anchor="middle" fill="#161616" stroke="#161616" stroke-width="0.2" transform="rotate(-90 313.6 63)">% Cells</text>
<text x="371.5" y="125.3" font-size="9.7" font-weight="bold" text-anchor="middle" fill="#161616" stroke="#161616" stroke-width="0.2">DMSO</text>
<text x="446" y="125.3" font-size="9.5" font-weight="bold" text-anchor="middle" fill="#161616" stroke="#161616" stroke-width="0.2">Thymidine</text>
<rect x="482" y="17.5" width="10.5" height="6.0" fill="#3e62bf" stroke="none" stroke-width="0"/>
<text x="498" y="23.8" font-size="8.2" font-weight="normal" text-anchor="start" fill="#161616" stroke="#161616" stroke-width="0.2">G<tspan dy="1.6" font-size="5.5">2</tspan><tspan dy="-1.6">–M</tspan></text>
<rect x="482" y="31.5" width="10.5" height="6.0" fill="#e8432a" stroke="none" stroke-width="0"/>
<text x="498" y="37.8" font-size="8.2" font-weight="normal" text-anchor="start" fill="#161616" stroke="#161616" stroke-width="0.2">S</text>
<rect x="482" y="45.5" width="10.5" height="6.0" fill="#f3ea24" stroke="none" stroke-width="0"/>
<text x="498" y="51.8" font-size="8.2" font-weight="normal" text-anchor="start" fill="#161616" stroke="#161616" stroke-width="0.2">G<tspan dy="1.6" font-size="5.5">1</tspan></text>
<text x="10" y="202.5" font-size="9.8" font-weight="bold" text-anchor="start" fill="#161616" stroke="#161616" stroke-width="0.2">EW8</text>
<text x="87.6" y="143.6" font-size="10.1" font-weight="bold" text-anchor="middle" fill="#161616" stroke="#161616" stroke-width="0.2">Unsynchronized</text>
<line x1="51.5" y1="148.6" x2="125" y2="148.6" stroke="#161616" stroke-width="1.3"/>
<text x="310.5" y="143.6" font-size="10" font-weight="bold" text-anchor="middle" fill="#161616" stroke="#161616" stroke-width="0.2">Thymidine block (time from release)</text>
<line x1="141.5" y1="148.6" x2="479" y2="148.6" stroke="#161616" stroke-width="1.3"/>
<text x="178.8" y="158.5" font-size="9.8" font-weight="bold" text-anchor="middle" fill="#161616" stroke="#161616" stroke-width="0.2">0 hr</text>
<text x="268" y="158.5" font-size="9.8" font-weight="bold" text-anchor="middle" fill="#161616" stroke="#161616" stroke-width="0.2">2 hr</text>
<text x="354.5" y="158.5" font-size="9.8" font-weight="bold" text-anchor="middle" fill="#161616" stroke="#161616" stroke-width="0.2">4 hr</text>
<text x="444.5" y="158.5" font-size="9.8" font-weight="bold" text-anchor="middle" fill="#161616" stroke="#161616" stroke-width="0.2">6 hr</text>
<text x="48.7" y="199" font-size="7.5" font-weight="bold" text-anchor="middle" fill="#161616" stroke="#161616" stroke-width="0.28" transform="rotate(-90 48.7 199)">EdU</text>
<text x="267.2" y="255.6" font-size="8.1" font-weight="bold" text-anchor="middle" fill="#161616" stroke="#161616" stroke-width="0.28">Propidium iodide</text>
<ellipse cx="103" cy="193" rx="4.5" ry="9" fill="#9fb6ea" opacity="0.55" filter="url(#b3)" transform="rotate(-8 103 193)"/>
<ellipse cx="88" cy="190" rx="9" ry="6" fill="#9fb6ea" opacity="0.3" filter="url(#b3)" transform="rotate(0 88 190)"/>
<ellipse cx="77" cy="196" rx="2.5" ry="9" fill="#9fb6ea" opacity="0.5" filter="url(#b2)" transform="rotate(0 77 196)"/>
<path d="M89.5 193.9h0.8M107.5 193.3h0.8M73.8 197.3h0.8M88.6 191.2h0.8M81.6 175.9h0.8M71.6 186.4h0.8M107.0 178.2h0.8M79.3 195.4h0.8M54.3 203.7h0.8M78.6 196.7h0.8M82.9 193.1h0.8M91.6 190.0h0.8M63.0 175.0h0.8M89.4 204.4h0.8M81.9 195.4h0.8M92.4 194.9h0.8M104.7 174.7h0.8M94.1 188.2h0.8M85.4 181.3h0.8M78.4 179.5h0.8M73.7 215.6h0.8M115.2 190.1h0.8M101.0 180.1h0.8M92.1 204.7h0.8M89.4 179.8h0.8M86.4 179.8h0.8M69.3 187.6h0.8M84.1 181.7h0.8M76.9 180.5h0.8M93.5 204.2h0.8M86.9 212.8h0.8M66.0 192.8h0.8M72.9 188.4h0.8M91.5 195.7h0.8M106.7 184.3h0.8M71.6 188.1h0.8" stroke="#a9bdee" stroke-width="0.8" opacity="0.75" fill="none" filter="url(#b0)"/>
<path d="M92.9 185.3h0.8M98.7 201.3h0.8M76.1 192.4h0.8M99.9 177.1h0.8M92.0 188.5h0.8M76.1 198.8h0.8M92.1 186.8h0.8M94.3 194.3h0.8M97.5 193.9h0.8M94.0 182.1h0.8M85.9 190.9h0.8M63.0 204.3h0.8M86.3 182.9h0.8M72.3 191.7h0.8M90.3 186.1h0.8M85.9 184.0h0.8M82.7 189.3h0.8M83.7 194.5h0.8M88.6 190.9h0.8M94.0 198.5h0.8M95.9 191.5h0.8M88.4 184.6h0.8M86.7 194.6h0.8M92.2 187.4h0.8M77.0 179.7h0.8M93.1 196.9h0.8M93.6 180.8h0.8M87.9 191.5h0.8M81.1 192.3h0.8M88.0 184.4h0.8M77.9 195.4h0.8M93.5 184.1h0.8M80.1 196.0h0.8M95.8 188.0h0.8M105.5 188.1h0.8M79.7 197.3h0.8M88.2 192.3h0.8M90.4 183.3h0.8M78.4 188.7h0.8M103.7 183.3h0.8M103.2 191.5h0.8M79.2 191.8h0.8M95.5 184.0h0.8M69.3 192.4h0.8M79.2 192.9h0.8M71.4 189.1h0.8M82.1 180.1h0.8M87.7 191.1h0.8M84.6 182.1h0.8M92.1 178.3h0.8M95.2 193.3h0.8M106.3 195.9h0.8M93.5 191.8h0.8M90.3 181.1h0.8M104.2 193.5h0.8M87.2 182.3h0.8M104.4 193.6h0.8M78.5 194.5h0.8M108.4 189.8h0.8M93.9 187.2h0.8M83.9 197.2h0.8M119.9 190.8h0.8M88.8 195.3h0.8M87.0 194.9h0.8M98.0 183.2h0.8M79.6 189.5h0.8M98.1 191.9h0.8M102.1 180.8h0.8M94.8 185.8h0.8" stroke="#7d9de3" stroke-width="0.8" opacity="0.8" fill="none" filter="url(#b0)"/>
<path d="M90.7 191.5h0.8M83.2 188.9h0.8M81.9 191.3h0.8M84.1 187.6h0.8M91.5 186.9h0.8M98.0 186.9h0.8M95.9 191.4h0.8M82.8 189.0h0.8M84.2 188.3h0.8M88.1 198.7h0.8M87.1 197.5h0.8M93.1 183.7h0.8M73.9 193.3h0.8M76.1 193.4h0.8M97.2 191.9h0.8M88.5 188.8h0.8M91.8 188.5h0.8M86.3 188.2h0.8M98.2 187.0h0.8M92.6 184.5h0.8M85.0 183.4h0.8M88.6 193.3h0.8M92.1 187.6h0.8M94.3 188.3h0.8M92.6 191.3h0.8M93.8 178.1h0.8M80.9 193.7h0.8M89.3 200.7h0.8M88.4 187.4h0.8M100.4 192.7h0.8M103.2 192.4h0.8M88.6 193.5h0.8M84.5 187.9h0.8M86.1 188.9h0.8M95.4 187.7h0.8M92.2 187.6h0.8M96.2 176.8h0.8M88.6 190.8h0.8M82.5 194.8h0.8M91.5 196.1h0.8M96.7 193.1h0.8M89.0 184.8h0.8M88.5 187.8h0.8M91.7 187.8h0.8M111.3 182.4h0.8M98.2 187.8h0.8M88.3 194.4h0.8M90.0 184.2h0.8M92.9 189.1h0.8M75.7 190.9h0.8M82.7 186.4h0.8M93.4 191.4h0.8M88.0 200.4h0.8M92.9 187.1h0.8M91.6 189.4h0.8M74.7 182.5h0.8M80.3 199.9h0.8M88.7 188.7h0.8M86.1 194.7h0.8M90.2 198.2h0.8M95.5 197.9h0.8" stroke="#4f82d6" stroke-width="0.8" opacity="0.8" fill="none" filter="url(#b0)"/>
<path d="M75.8 206.2h0.8M75.1 203.0h0.8M72.3 200.6h0.8M74.0 200.2h0.8M78.6 205.5h0.8M78.6 209.0h0.8M78.0 209.8h0.8M74.7 208.6h0.8M75.3 200.9h0.8M78.5 216.5h0.8M73.9 214.0h0.8M77.8 199.1h0.8M76.6 206.1h0.8M76.8 201.9h0.8M73.3 204.2h0.8M77.8 208.5h0.8M77.4 210.4h0.8M73.9 203.8h0.8M76.7 209.8h0.8M76.3 207.0h0.8M76.3 216.1h0.8M71.4 203.9h0.8M81.2 205.4h0.8M72.1 204.8h0.8M73.0 200.1h0.8M76.5 213.9h0.8M77.0 207.9h0.8M78.2 205.2h0.8M74.2 203.4h0.8M76.7 202.4h0.8M74.6 201.9h0.8M72.8 198.1h0.8M75.8 201.9h0.8M76.1 212.1h0.8M76.6 203.8h0.8M73.5 197.8h0.8M76.8 199.0h0.8M76.9 197.8h0.8M76.3 203.6h0.8M78.1 201.7h0.8M75.2 205.4h0.8M76.1 213.8h0.8M75.5 200.9h0.8M75.3 206.7h0.8M76.5 208.0h0.8M73.1 218.3h0.8M79.9 203.8h0.8M73.4 204.9h0.8M76.9 191.1h0.8M76.0 195.5h0.8M77.0 212.0h0.8M78.2 195.3h0.8M78.9 209.2h0.8M75.2 206.9h0.8M79.2 202.1h0.8M76.0 200.8h0.8M78.4 191.6h0.8M79.0 198.4h0.8M78.0 194.6h0.8M74.0 200.5h0.8M77.8 194.6h0.8M77.3 200.3h0.8M78.6 202.2h0.8M77.0 203.0h0.8M79.8 201.9h0.8M75.9 215.5h0.8M76.2 208.0h0.8M74.4 205.2h0.8M71.2 204.6h0.8M74.6 195.3h0.8M73.0 210.6h0.8M76.9 195.2h0.8M79.8 200.0h0.8M75.2 205.4h0.8M73.6 194.7h0.8M74.4 210.8h0.8M78.0 194.9h0.8M78.5 204.2h0.8M77.1 204.3h0.8M76.9 198.2h0.8M74.1 199.9h0.8M75.2 207.6h0.8M73.4 213.2h0.8M74.7 200.6h0.8M77.5 206.5h0.8M75.3 197.8h0.8M73.9 194.8h0.8M78.4 210.3h0.8M80.0 206.9h0.8M76.7 208.4h0.8M78.0 202.5h0.8M76.7 216.4h0.8M72.4 195.9h0.8M74.0 208.4h0.8M78.5 202.0h0.8M77.4 203.7h0.8M76.6 200.9h0.8M75.9 204.0h0.8M78.4 216.9h0.8M72.2 207.1h0.8M76.0 209.6h0.8M78.2 208.5h0.8M77.7 198.5h0.8M72.4 213.6h0.8M78.6 198.5h0.8M78.7 207.9h0.8M70.8 209.2h0.8M73.9 210.7h0.8M74.6 199.7h0.8M72.7 202.7h0.8M78.2 200.1h0.8M72.1 216.4h0.8M79.9 208.0h0.8M74.9 197.0h0.8M72.5 207.2h0.8M78.8 197.9h0.8M76.0 202.4h0.8M75.5 206.9h0.8M80.4 200.3h0.8M77.8 210.3h0.8M75.4 203.1h0.8M73.2 210.2h0.8M74.9 200.2h0.8M76.1 199.0h0.8M73.8 202.3h0.8M79.2 202.8h0.8M77.1 195.5h0.8M71.9 214.5h0.8M75.2 195.1h0.8M75.8 207.5h0.8M72.3 198.9h0.8M76.6 198.7h0.8M77.7 209.6h0.8M76.9 201.5h0.8M75.9 200.3h0.8M75.7 205.8h0.8M75.4 209.6h0.8M81.5 200.8h0.8M76.7 208.8h0.8M77.4 202.6h0.8" stroke="#7d9de3" stroke-width="0.8" opacity="0.7" fill="none" filter="url(#b0)"/>
<path d="M102.7 222.8h0.8M108.0 220.4h0.8M101.1 221.0h0.8M108.8 217.1h0.8M108.1 228.5h0.8M95.9 220.9h0.8M99.3 211.4h0.8M103.9 220.6h0.8M105.3 212.4h0.8M98.1 215.3h0.8M105.1 214.0h0.8M97.7 226.5h0.8M100.9 217.2h0.8M102.3 215.2h0.8M105.2 216.6h0.8M108.0 212.3h0.8M97.8 227.4h0.8M104.6 221.7h0.8M110.7 220.7h0.8M105.2 210.5h0.8M97.3 222.7h0.8M108.3 220.8h0.8M97.0 207.7h0.8M99.9 212.3h0.8M105.8 213.1h0.8M112.7 215.0h0.8M102.3 222.2h0.8M106.6 213.6h0.8M109.0 227.3h0.8M99.1 216.8h0.8M99.8 208.6h0.8M108.0 221.4h0.8M109.7 220.1h0.8M95.2 217.9h0.8M101.8 212.3h0.8M99.6 221.7h0.8M103.6 227.5h0.8M107.3 208.7h0.8M109.3 224.1h0.8M105.2 212.1h0.8M113.6 211.6h0.8M104.6 208.7h0.8M98.9 209.7h0.8M110.3 223.7h0.8M103.0 211.4h0.8M104.7 219.8h0.8M97.6 212.4h0.8M104.5 221.4h0.8M105.4 220.2h0.8M98.9 205.9h0.8" stroke="#8fa9e6" stroke-width="0.8" opacity="0.6" fill="none" filter="url(#b0)"/>
<path d="M78.3 209.2h0.8M75.1 213.2h0.8M79.6 210.3h0.8M86.7 216.2h0.8M79.9 220.7h0.8M83.7 219.0h0.8M63.0 211.3h0.8M89.8 219.5h0.8M80.2 219.5h0.8M71.2 211.0h0.8M71.2 224.6h0.8M78.7 229.2h0.8M79.7 230.1h0.8M79.4 207.2h0.8M88.9 218.5h0.8M84.9 217.6h0.8M73.6 217.3h0.8M67.6 207.1h0.8M69.4 212.1h0.8M65.9 215.2h0.8M78.3 231.1h0.8M89.7 215.6h0.8M82.6 214.4h0.8M78.9 215.7h0.8M72.0 216.6h0.8M65.0 219.3h0.8M73.8 207.9h0.8M73.3 220.1h0.8M70.9 219.5h0.8M80.3 227.6h0.8M67.9 215.2h0.8M79.8 227.2h0.8M78.0 221.6h0.8M65.0 211.6h0.8M88.4 213.9h0.8" stroke="#a9bdee" stroke-width="0.8" opacity="0.75" fill="none" filter="url(#b0)"/>
<path d="M86.6 212.4h0.8M74.6 208.1h0.8M79.1 217.3h0.8M85.9 216.8h0.8M74.8 209.1h0.8M75.6 220.7h0.8M79.7 222.1h0.8M80.3 215.8h0.8M79.0 216.9h0.8M69.4 224.4h0.8M77.8 210.8h0.8M77.9 217.4h0.8M80.9 223.1h0.8M61.0 218.7h0.8M83.6 211.3h0.8M66.8 217.4h0.8M77.7 217.7h0.8M70.5 213.7h0.8M77.0 219.7h0.8M86.8 217.5h0.8M73.0 204.3h0.8M81.3 215.3h0.8M75.5 211.1h0.8M79.6 207.1h0.8M76.5 216.6h0.8M77.5 222.5h0.8M75.5 216.5h0.8M80.2 208.3h0.8M74.6 216.3h0.8M80.7 212.0h0.8M80.0 217.9h0.8M68.6 208.7h0.8M68.9 216.7h0.8M77.0 219.6h0.8M80.1 213.3h0.8M81.3 220.1h0.8M78.3 218.4h0.8M69.6 217.8h0.8M70.9 210.1h0.8M74.3 216.7h0.8M75.7 214.4h0.8M71.0 216.9h0.8M72.3 209.0h0.8M76.5 223.2h0.8M74.0 210.7h0.8M82.9 224.5h0.8M74.5 215.0h0.8M77.1 230.7h0.8M76.7 220.9h0.8M78.2 206.9h0.8M70.5 209.9h0.8M78.2 216.5h0.8M84.9 214.7h0.8M77.5 216.4h0.8M76.7 227.5h0.8M77.4 223.3h0.8M82.5 213.0h0.8M79.4 214.1h0.8M76.5 216.8h0.8M76.1 213.7h0.8M83.8 214.7h0.8M79.5 224.4h0.8M79.1 221.1h0.8" stroke="#7d9de3" stroke-width="0.8" opacity="0.8" fill="none" filter="url(#b0)"/>
<path d="M81.0 219.9h0.8M82.2 210.9h0.8M83.0 216.1h0.8M69.7 213.7h0.8M71.0 215.9h0.8M70.7 212.4h0.8M77.1 216.6h0.8M73.1 215.2h0.8M75.6 216.3h0.8M76.0 215.2h0.8M79.2 210.2h0.8M74.2 216.5h0.8M74.6 214.0h0.8M74.4 216.8h0.8M80.5 215.3h0.8M75.0 217.3h0.8M75.1 209.0h0.8M77.0 214.6h0.8M73.9 218.3h0.8M76.2 214.0h0.8M68.2 209.8h0.8M76.1 215.6h0.8M77.6 216.8h0.8M74.3 211.4h0.8M72.1 215.5h0.8M71.9 218.7h0.8M71.2 209.6h0.8M75.3 209.6h0.8M81.9 212.4h0.8M75.8 215.1h0.8M73.0 209.6h0.8M69.3 219.1h0.8M79.7 223.8h0.8M70.7 218.0h0.8M75.9 219.0h0.8M74.2 218.6h0.8M79.2 218.2h0.8M81.2 215.4h0.8M81.6 213.5h0.8M82.0 206.1h0.8M76.0 213.1h0.8M76.0 219.7h0.8M78.6 216.3h0.8M82.1 210.7h0.8M73.1 221.4h0.8M77.2 208.5h0.8M77.2 211.7h0.8M81.3 220.1h0.8M74.0 220.7h0.8M73.0 219.3h0.8M78.1 215.5h0.8M70.9 215.0h0.8M67.8 214.0h0.8M69.3 220.4h0.8M72.5 207.2h0.8M78.1 217.3h0.8" stroke="#4f82d6" stroke-width="0.8" opacity="0.8" fill="none" filter="url(#b0)"/>
<path d="M103.3 208.0h0.8M105.5 192.1h0.8M97.5 170.4h0.8M105.4 198.9h0.8M99.3 181.8h0.8M100.9 179.6h0.8M103.6 197.7h0.8M108.2 193.3h0.8M104.2 197.5h0.8M107.2 189.0h0.8M97.8 186.7h0.8M97.6 186.0h0.8M102.8 194.6h0.8M103.4 192.4h0.8M102.0 195.3h0.8M106.6 197.2h0.8M107.5 189.1h0.8M103.7 204.7h0.8M103.9 195.0h0.8M102.7 199.4h0.8M100.4 184.7h0.8M102.1 188.7h0.8M105.2 188.8h0.8M103.0 190.3h0.8M103.3 187.2h0.8M105.0 180.9h0.8M100.8 186.9h0.8M105.0 192.0h0.8M104.1 189.3h0.8M99.2 184.0h0.8M101.1 188.2h0.8M104.1 194.5h0.8M106.0 190.7h0.8M99.2 184.5h0.8M103.4 194.7h0.8M109.5 192.4h0.8M110.7 205.1h0.8M100.5 201.5h0.8M108.0 201.5h0.8M103.8 199.1h0.8M101.1 191.7h0.8M104.7 205.2h0.8M103.1 199.2h0.8M102.3 186.7h0.8M104.3 196.8h0.8M101.1 197.0h0.8M99.5 185.8h0.8M103.3 190.1h0.8M97.8 180.4h0.8M103.1 193.8h0.8M101.4 193.6h0.8M98.1 195.6h0.8M104.5 193.9h0.8M100.8 192.9h0.8M104.4 199.9h0.8M104.0 193.8h0.8M101.3 198.7h0.8M106.2 187.8h0.8M105.3 194.0h0.8M101.3 182.5h0.8M106.8 177.3h0.8M103.4 189.1h0.8M106.2 188.3h0.8M103.6 196.5h0.8M103.8 187.9h0.8M105.5 194.6h0.8M105.6 187.7h0.8M102.2 189.1h0.8M100.2 194.3h0.8M105.7 202.3h0.8M102.1 195.0h0.8M106.5 190.6h0.8M103.2 193.0h0.8M99.5 185.0h0.8M106.7 192.8h0.8M101.3 182.8h0.8M104.4 200.6h0.8M98.0 185.9h0.8M108.0 202.1h0.8M107.4 187.2h0.8M104.0 186.2h0.8M104.2 189.1h0.8M104.9 201.8h0.8M103.7 190.1h0.8M103.3 193.9h0.8M101.3 193.8h0.8M106.4 203.2h0.8M94.7 184.2h0.8M99.6 199.1h0.8M111.2 192.3h0.8M104.4 200.4h0.8M94.4 191.8h0.8M92.5 194.6h0.8M100.6 188.7h0.8M103.3 187.5h0.8M106.5 191.5h0.8M106.7 210.5h0.8M102.3 199.0h0.8M101.3 201.6h0.8M106.2 192.6h0.8M107.8 203.4h0.8M107.4 191.4h0.8M103.8 200.2h0.8M97.3 188.3h0.8M105.0 196.0h0.8M110.8 204.1h0.8M104.3 195.1h0.8M98.2 191.3h0.8M103.4 190.2h0.8M103.6 196.4h0.8M99.0 188.3h0.8M98.1 201.3h0.8M97.5 180.0h0.8M105.1 190.1h0.8M105.6 188.8h0.8M110.6 196.3h0.8M103.4 192.8h0.8M103.0 198.0h0.8M109.0 188.0h0.8M99.8 196.9h0.8M104.8 180.5h0.8M99.5 185.0h0.8M105.2 195.5h0.8M99.2 184.1h0.8M103.0 176.6h0.8M104.8 190.6h0.8M110.2 198.4h0.8M100.6 190.3h0.8M101.1 186.8h0.8M104.1 199.0h0.8M97.6 191.0h0.8M108.5 196.7h0.8M99.3 186.5h0.8M98.3 180.6h0.8M106.7 192.0h0.8M99.0 181.8h0.8M101.0 188.4h0.8M108.0 187.8h0.8M104.3 199.8h0.8M104.8 190.4h0.8M97.0 203.3h0.8M104.3 188.5h0.8M101.5 185.1h0.8M98.3 181.6h0.8M105.0 195.6h0.8M104.2 197.6h0.8M104.7 192.6h0.8M100.5 196.7h0.8M107.4 196.1h0.8M106.4 188.0h0.8M100.8 201.6h0.8M101.1 194.0h0.8M102.2 192.2h0.8M101.4 188.2h0.8M98.9 206.7h0.8M101.5 177.9h0.8M98.6 184.2h0.8M97.7 173.8h0.8M106.4 203.7h0.8M102.7 197.5h0.8M103.5 182.7h0.8M105.1 179.2h0.8M100.5 189.7h0.8M107.1 192.3h0.8M101.6 186.2h0.8M103.1 192.3h0.8M106.6 201.8h0.8M105.3 191.8h0.8M103.9 203.7h0.8M103.4 191.8h0.8M110.3 202.6h0.8M104.6 190.9h0.8M101.8 200.1h0.8M102.3 199.2h0.8M100.3 193.1h0.8M104.3 192.9h0.8M104.0 194.7h0.8M98.0 184.5h0.8M104.2 205.2h0.8M101.4 185.3h0.8M100.7 192.6h0.8M106.1 187.3h0.8M104.8 193.1h0.8M100.7 185.3h0.8M101.6 186.8h0.8M102.8 179.0h0.8M107.3 197.0h0.8M106.2 202.6h0.8M103.0 179.3h0.8M103.4 195.2h0.8M99.4 184.1h0.8M104.7 195.5h0.8M101.2 190.4h0.8M100.6 188.1h0.8M103.7 199.8h0.8M97.2 190.3h0.8M108.4 193.6h0.8M104.2 198.0h0.8M98.3 183.7h0.8M95.9 182.2h0.8M104.5 198.0h0.8M100.7 187.3h0.8M104.8 196.3h0.8M101.7 178.1h0.8M98.4 173.9h0.8M102.7 185.7h0.8M102.2 203.2h0.8M107.6 194.9h0.8M103.9 193.1h0.8M100.8 191.9h0.8M108.2 184.8h0.8M100.8 193.5h0.8M106.6 197.6h0.8M99.5 191.5h0.8M100.7 183.2h0.8M102.6 188.5h0.8M106.3 194.7h0.8M100.3 192.9h0.8M101.0 187.6h0.8M102.3 199.9h0.8M99.7 179.8h0.8M101.1 198.2h0.8M108.8 183.4h0.8M101.3 189.8h0.8M98.6 195.6h0.8M102.9 194.0h0.8M109.9 189.0h0.8M106.2 197.7h0.8M100.1 188.0h0.8M108.6 196.5h0.8M102.2 184.0h0.8M106.2 195.4h0.8M111.5 201.6h0.8M105.7 193.6h0.8M102.4 188.0h0.8M104.1 193.6h0.8M106.0 199.5h0.8M103.3 187.9h0.8M107.0 202.8h0.8M100.5 195.4h0.8M105.1 195.6h0.8M104.4 191.1h0.8M104.2 204.2h0.8M107.0 181.1h0.8M94.9 196.3h0.8M100.1 188.6h0.8M97.9 195.3h0.8M102.1 188.1h0.8M108.2 209.1h0.8M108.8 199.8h0.8M102.1 196.9h0.8M103.9 200.4h0.8M104.7 191.5h0.8M103.9 186.6h0.8M106.9 202.5h0.8M102.2 196.2h0.8M98.3 199.5h0.8M104.6 184.2h0.8M108.6 192.0h0.8M95.8 182.9h0.8M105.4 189.6h0.8M104.8 180.3h0.8M103.5 199.1h0.8M101.3 197.2h0.8M102.0 194.7h0.8M106.1 208.0h0.8M99.5 198.2h0.8M106.0 183.3h0.8M105.4 208.6h0.8M103.2 170.1h0.8M100.3 179.8h0.8M103.1 186.6h0.8M100.1 186.2h0.8M103.3 188.5h0.8M99.6 190.8h0.8M103.3 185.6h0.8M104.8 179.5h0.8M103.7 189.0h0.8M107.3 186.6h0.8M99.3 182.6h0.8M109.9 195.5h0.8M98.9 190.1h0.8M101.2 203.4h0.8M102.1 177.1h0.8M104.4 198.5h0.8M103.3 195.4h0.8M102.7 193.6h0.8M102.8 186.8h0.8M104.1 193.0h0.8M102.0 187.1h0.8M99.7 194.2h0.8M103.1 174.2h0.8M102.4 202.0h0.8M105.1 186.4h0.8M106.2 184.3h0.8M102.2 206.4h0.8M101.2 190.6h0.8M96.4 185.5h0.8M98.8 191.5h0.8M97.9 200.5h0.8" stroke="#7d9de3" stroke-width="0.8" opacity="0.75" fill="none" filter="url(#b0)"/>
<path d="M101.7 185.6h0.8M101.0 190.9h0.8M106.1 186.4h0.8M106.3 194.3h0.8M105.6 189.2h0.8M99.0 190.6h0.8M101.5 188.8h0.8M98.1 186.9h0.8M103.0 184.4h0.8M103.2 194.5h0.8M103.0 185.3h0.8M108.1 179.6h0.8M100.4 189.6h0.8M101.1 179.1h0.8M103.1 191.2h0.8M100.6 193.7h0.8M103.7 192.6h0.8M98.9 188.0h0.8M106.2 195.9h0.8M105.6 188.0h0.8M102.9 185.6h0.8M105.1 185.3h0.8M102.8 180.0h0.8M99.0 194.9h0.8M102.6 188.8h0.8M97.4 187.9h0.8M107.3 182.2h0.8M96.9 187.4h0.8M101.3 187.2h0.8M99.6 182.7h0.8M99.6 190.5h0.8M102.4 191.2h0.8M100.0 190.3h0.8M101.5 188.3h0.8M104.7 188.1h0.8M101.7 181.5h0.8M102.6 191.1h0.8M101.0 187.7h0.8M98.4 182.8h0.8M103.4 193.1h0.8M101.8 181.5h0.8M101.6 181.9h0.8M101.9 195.6h0.8M103.2 187.4h0.8M104.9 186.5h0.8M103.3 188.8h0.8M103.5 182.2h0.8M104.2 191.5h0.8M97.1 177.4h0.8M100.4 193.9h0.8M102.5 190.7h0.8M103.8 191.5h0.8M101.0 185.7h0.8M103.4 190.4h0.8M103.9 189.3h0.8M101.4 192.3h0.8M103.6 192.2h0.8M96.5 192.0h0.8M96.7 188.8h0.8M100.9 188.5h0.8M101.4 186.8h0.8M103.0 189.4h0.8M100.6 178.0h0.8M100.7 190.1h0.8M100.5 189.7h0.8M101.6 184.3h0.8M105.3 194.5h0.8M102.3 187.8h0.8M104.8 182.8h0.8M100.4 192.5h0.8M104.6 186.1h0.8M100.7 189.4h0.8M99.2 186.0h0.8M102.0 178.3h0.8M103.9 191.0h0.8M105.0 182.3h0.8M99.5 184.8h0.8M99.4 196.1h0.8M100.2 186.8h0.8M103.0 189.8h0.8M105.9 183.7h0.8M104.6 188.6h0.8M99.7 188.6h0.8M99.2 194.4h0.8M100.8 192.0h0.8M105.6 185.5h0.8M100.4 188.5h0.8M100.0 191.6h0.8M102.9 185.0h0.8M100.9 190.9h0.8M99.0 194.7h0.8M100.6 187.2h0.8M100.3 194.5h0.8M104.5 193.2h0.8M104.1 188.4h0.8M106.5 190.6h0.8M103.5 190.3h0.8M104.3 189.1h0.8M102.1 181.7h0.8M107.4 182.8h0.8M97.4 185.2h0.8M107.1 192.9h0.8M101.1 189.1h0.8M102.4 180.1h0.8M101.7 189.2h0.8M105.3 183.2h0.8M97.1 181.7h0.8M103.3 188.3h0.8M102.9 188.6h0.8M101.6 182.6h0.8M103.6 189.5h0.8M103.9 193.0h0.8M99.5 178.7h0.8M98.2 196.5h0.8M100.3 189.6h0.8M102.5 190.9h0.8M110.2 185.9h0.8M102.1 185.6h0.8M103.1 190.1h0.8M100.2 193.3h0.8" stroke="#4f82d6" stroke-width="0.8" opacity="0.75" fill="none" filter="url(#b0)"/>
<path d="M75.5 206 C75.5 192 76 186 79 183 C84 180 92 179.5 98 179.8 C103 180.5 105 186 107 198" fill="none" stroke="#a9bdee" stroke-width="8.5" stroke-linecap="round" opacity=".6" filter="url(#b2)"/><g filter="url(#b1)"><path d="M76 201 C76 191 76.5 186.5 79.5 183.6 C84 181 92 180.3 98 180.3 C100.5 180.6 102 182 102.8 184.5" fill="none" stroke="#6f93dd" stroke-width="6" stroke-linecap="round" opacity=".85"/><path d="M76.8 196 C77 190 77.5 186.5 80 184 C84 181.6 92 180.6 97.5 180.5 C99 180.6 100 181 100.8 182" fill="none" stroke="#4a86d6" stroke-width="4.6" stroke-linecap="round"/><path d="M78 190 C78.5 186.5 79.5 185 81.5 183.6 C85 181.8 92 180.8 98.5 180.6" fill="none" stroke="#3cb6c8" stroke-width="3.6" stroke-linecap="round"/><path d="M80 185.3 C82 183.6 87 181.8 96 180.4" fill="none" stroke="#7fd048" stroke-width="2.6" stroke-linecap="round"/></g>
<path d="M98.0 184.0h0.8M89.2 182.5h0.8M78.5 184.4h0.8M83.2 181.9h0.8M97.0 181.0h0.8M86.3 184.9h0.8M103.0 181.5h0.8M97.7 181.6h0.8M92.7 184.1h0.8M82.0 185.3h0.8M102.6 183.1h0.8M91.9 180.4h0.8M102.5 183.1h0.8M81.1 184.7h0.8M79.8 181.5h0.8M75.1 186.0h0.8M105.5 181.6h0.8M85.4 181.7h0.8M86.0 184.2h0.8M100.2 180.8h0.8M93.1 179.0h0.8M100.7 182.8h0.8M85.1 186.4h0.8M89.3 186.0h0.8M97.5 186.6h0.8M84.4 183.1h0.8M92.6 182.6h0.8M100.7 181.4h0.8M97.0 186.0h0.8M76.3 180.9h0.8M83.7 181.8h0.8M92.7 182.6h0.8M90.6 182.0h0.8M89.4 184.1h0.8M95.2 181.3h0.8M89.2 181.3h0.8M88.8 179.8h0.8M96.7 184.5h0.8M89.1 181.5h0.8M86.8 181.5h0.8M79.2 186.6h0.8M113.0 180.3h0.8M81.8 184.3h0.8M94.2 179.5h0.8M76.6 184.2h0.8M76.1 186.1h0.8M86.5 183.2h0.8M90.0 181.8h0.8M89.0 182.3h0.8M98.7 182.8h0.8M89.8 181.8h0.8M85.6 181.4h0.8M90.1 187.0h0.8M97.8 183.5h0.8M101.7 185.2h0.8M91.5 182.6h0.8M82.3 183.5h0.8M87.8 179.5h0.8M81.0 187.3h0.8M91.5 184.1h0.8M91.4 182.0h0.8M93.2 185.4h0.8M87.8 184.1h0.8M97.2 181.9h0.8M91.2 181.4h0.8M94.2 182.2h0.8M98.0 181.3h0.8M101.8 182.3h0.8M84.1 181.0h0.8M94.6 181.1h0.8M102.6 185.8h0.8M93.6 179.9h0.8M89.8 181.4h0.8M77.3 183.9h0.8M105.4 181.8h0.8M95.7 185.8h0.8M83.3 182.3h0.8M91.9 184.0h0.8M82.0 183.5h0.8M89.3 185.1h0.8M78.8 181.8h0.8M86.5 182.3h0.8M95.1 181.6h0.8M109.2 181.4h0.8M95.9 185.2h0.8M96.8 182.6h0.8M84.2 182.4h0.8M94.7 183.3h0.8M94.1 184.3h0.8M83.8 180.9h0.8M100.1 181.9h0.8M78.9 187.1h0.8M84.2 180.9h0.8M96.8 180.5h0.8M83.9 185.3h0.8M84.3 188.5h0.8M90.7 188.9h0.8M90.9 183.1h0.8M85.5 182.5h0.8M86.5 182.9h0.8" stroke="#4f82d6" stroke-width="0.8" opacity="0.7" fill="none" filter="url(#b0)"/>
<path d="M78.4 189.4h0.8M75.3 184.4h0.8M79.7 196.6h0.8M77.0 196.7h0.8M78.8 198.9h0.8M78.5 196.0h0.8M76.8 196.7h0.8M73.6 203.5h0.8M74.2 191.0h0.8M78.2 197.3h0.8M78.5 207.2h0.8M80.4 205.3h0.8M76.6 209.3h0.8M75.4 196.5h0.8M78.8 195.7h0.8M76.8 194.9h0.8M79.5 182.2h0.8M79.3 203.4h0.8M76.9 200.4h0.8M75.3 203.7h0.8M82.5 191.5h0.8M79.5 196.7h0.8M76.4 194.1h0.8M76.7 189.5h0.8M74.6 207.0h0.8M77.0 200.3h0.8M77.6 199.9h0.8M74.3 191.3h0.8M78.1 203.0h0.8M74.9 193.5h0.8M75.1 200.9h0.8M77.6 197.2h0.8M75.8 199.1h0.8M77.1 192.5h0.8M77.6 193.0h0.8M78.7 200.8h0.8M75.8 200.5h0.8M77.1 192.8h0.8M75.4 187.0h0.8M75.0 199.1h0.8M79.2 193.2h0.8M77.3 199.1h0.8M78.4 199.7h0.8M79.2 201.6h0.8M75.6 199.4h0.8M72.8 195.9h0.8M77.0 200.5h0.8M76.5 202.0h0.8M79.4 192.0h0.8M76.0 198.6h0.8M77.9 197.9h0.8M78.5 189.9h0.8M78.4 204.0h0.8M79.0 199.6h0.8M76.6 199.4h0.8M76.9 187.5h0.8M75.9 196.8h0.8M76.1 191.4h0.8M76.6 194.8h0.8M77.1 196.7h0.8M77.3 203.0h0.8M77.2 199.4h0.8M74.8 179.3h0.8M76.3 201.1h0.8M76.4 193.3h0.8M74.8 202.4h0.8M76.1 198.5h0.8M79.0 200.2h0.8M81.0 196.2h0.8M78.7 201.2h0.8M75.8 197.3h0.8M76.0 190.9h0.8M77.5 192.4h0.8M80.0 192.6h0.8M76.0 197.5h0.8M76.1 197.3h0.8M75.9 188.5h0.8M72.7 189.3h0.8M79.7 199.7h0.8M77.3 194.2h0.8M76.7 198.8h0.8M74.5 192.2h0.8M75.4 204.6h0.8M75.1 204.0h0.8M76.2 213.4h0.8M76.9 197.2h0.8M79.4 202.2h0.8M78.7 190.6h0.8M79.0 207.1h0.8M76.8 194.1h0.8" stroke="#4f82d6" stroke-width="0.8" opacity="0.7" fill="none" filter="url(#b0)"/>
<g filter="url(#b1)" opacity="1.0" transform="rotate(0 74.8 216.2)"><ellipse cx="75.8" cy="216.2" rx="7.6" ry="7.4" fill="#aabdec"/><ellipse cx="75.68" cy="216.2" rx="6.69" ry="6.51" fill="#7396dc"/><ellipse cx="75.56" cy="216.2" rx="5.78" ry="5.62" fill="#4682d0"/><ellipse cx="75.42" cy="216.2" rx="4.71" ry="4.59" fill="#3aaecb"/><ellipse cx="75.3" cy="216.2" rx="3.8" ry="3.7" fill="#56c46c"/><ellipse cx="75.18" cy="216.2" rx="2.89" ry="2.81" fill="#b6d83e"/><ellipse cx="75.08" cy="216.2" rx="2.13" ry="2.07" fill="#f0d426"/><ellipse cx="74.97" cy="216.2" rx="1.29" ry="1.26" fill="#f08e24"/><ellipse cx="74.88" cy="216.2" rx="0.57" ry="0.56" fill="#e4401c"/></g>
<path d="M80.7 220.1h0.8M84.9 217.0h0.8M80.3 221.9h0.8M86.6 216.9h0.8M88.4 214.1h0.8M86.6 214.0h0.8M88.2 216.2h0.8M87.7 215.8h0.8M85.2 220.4h0.8M81.3 217.3h0.8M81.5 219.6h0.8M82.2 215.9h0.8M83.4 220.5h0.8M80.9 216.9h0.8M83.0 215.4h0.8M81.6 216.5h0.8M84.6 212.4h0.8M84.7 213.4h0.8M84.0 223.8h0.8M81.1 216.8h0.8M83.2 219.9h0.8M82.6 211.6h0.8M79.2 217.5h0.8M84.8 220.2h0.8M82.4 219.0h0.8M80.8 220.9h0.8M83.8 215.0h0.8M84.5 222.2h0.8M81.5 213.3h0.8M81.0 213.5h0.8M83.8 218.1h0.8M83.5 217.6h0.8M87.6 216.1h0.8M80.2 210.1h0.8M84.7 215.0h0.8M83.3 218.2h0.8M85.4 212.3h0.8M81.1 217.2h0.8M83.6 220.4h0.8M82.5 210.8h0.8" stroke="#7d9de3" stroke-width="0.8" opacity="0.7" fill="none" filter="url(#b0)"/>
<rect x="52.5" y="163.5" width="72.0" height="72.0" fill="none" stroke="#161616" stroke-width="1.3"/>
<rect x="66.5" y="172.5" width="51.0" height="33.0" fill="none" stroke="#161616" stroke-width="1.0"/>
<rect x="66.5" y="208.5" width="26.0" height="20.0" fill="none" stroke="#161616" stroke-width="1.0"/>
<rect x="96.5" y="208.5" width="21.0" height="20.0" fill="none" stroke="#161616" stroke-width="1.0"/>
<text x="92.7" y="170.8" font-size="6.8" font-weight="bold" text-anchor="middle" fill="#161616" stroke="#161616" stroke-width="0.28">S</text>
<text x="115.3" y="179.9" font-size="8.3" font-weight="normal" text-anchor="end" fill="#3a3a3a" stroke="#3a3a3a" stroke-width="0.2">36</text>
<text x="65.2" y="212.60000000000002" font-size="8.3" font-weight="normal" text-anchor="end" fill="#3a3a3a" stroke="#3a3a3a" stroke-width="0.2">58</text>
<text x="118.60000000000001" y="212.20000000000002" font-size="8.3" font-weight="normal" text-anchor="start" fill="#3a3a3a" stroke="#3a3a3a" stroke-width="0.2">4</text>
<text x="60.3" y="222.3" font-size="7.2" font-weight="bold" text-anchor="middle" fill="#161616" stroke="#161616" stroke-width="0.28">G<tspan dy="1.6" font-size="4.5">1</tspan></text>
<text x="107.8" y="233.2" font-size="5.3" font-weight="bold" text-anchor="middle" fill="#161616" stroke="#161616" stroke-width="0.28">G<tspan dy="1" font-size="3.4">2</tspan><tspan dy="-1">–M</tspan></text>
<text x="40.3" y="172.8" font-size="6.5" font-weight="bold" text-anchor="start" fill="#161616" stroke="#161616" stroke-width="0.28">10<tspan dy="-2.47" font-size="3.58">5</tspan></text>
<text x="40.3" y="234.2" font-size="6.5" font-weight="bold" text-anchor="start" fill="#161616" stroke="#161616" stroke-width="0.28">10<tspan dy="-2.47" font-size="3.58">1</tspan></text>
<text x="54" y="245" font-size="6.9" font-weight="bold" text-anchor="middle" fill="#161616" stroke="#161616" stroke-width="0.28">0</text>
<text x="116.5" y="245" font-size="6.9" font-weight="bold" text-anchor="middle" fill="#161616" stroke="#161616" stroke-width="0.28">250</text>
<ellipse cx="167" cy="217.5" rx="13" ry="5" fill="#9fb6ea" opacity="0.5" filter="url(#b3)" transform="rotate(0 167 217.5)"/>
<path d="M183.8 207.6h0.8M151.2 219.9h0.8M149.9 232.6h0.8M169.6 220.8h0.8M159.4 231.0h0.8M174.2 213.1h0.8M185.1 207.2h0.8M157.1 219.3h0.8M168.1 211.7h0.8M190.0 226.4h0.8M151.8 219.8h0.8M156.4 214.9h0.8M181.0 218.3h0.8M164.4 218.1h0.8M148.2 224.9h0.8M154.6 225.5h0.8M159.0 214.7h0.8M188.6 218.7h0.8M156.3 214.2h0.8M175.2 228.9h0.8M175.3 215.1h0.8M149.0 213.4h0.8M164.2 219.0h0.8M156.0 225.3h0.8M151.4 213.2h0.8M173.6 220.4h0.8M160.1 223.3h0.8M144.6 227.4h0.8M199.2 229.4h0.8M167.8 229.5h0.8M166.8 225.6h0.8M163.0 218.7h0.8M174.0 206.9h0.8M162.8 227.9h0.8M180.0 219.5h0.8M169.0 225.9h0.8M171.1 206.0h0.8M151.6 215.7h0.8M168.2 214.8h0.8M164.4 227.6h0.8M180.2 221.2h0.8M166.2 217.9h0.8M171.5 219.0h0.8M155.0 222.2h0.8M153.5 217.3h0.8M160.6 210.5h0.8M175.2 217.1h0.8M148.3 217.0h0.8M145.1 226.2h0.8M173.8 229.6h0.8M157.4 221.8h0.8M151.3 212.3h0.8M164.6 220.0h0.8M180.0 215.9h0.8M182.7 223.4h0.8M152.7 216.4h0.8M152.1 227.8h0.8M157.6 222.9h0.8M179.9 216.0h0.8M158.6 219.6h0.8M154.3 209.8h0.8M151.4 219.6h0.8M168.9 228.2h0.8" stroke="#a9bdee" stroke-width="0.8" opacity="0.75" fill="none" filter="url(#b0)"/>
<path d="M147.8 219.5h0.8M154.5 222.1h0.8M172.9 218.0h0.8M180.7 216.0h0.8M160.7 213.3h0.8M159.5 218.0h0.8M172.7 222.6h0.8M163.3 214.6h0.8M162.7 215.8h0.8M161.3 215.9h0.8M157.3 217.3h0.8M160.9 216.8h0.8M152.2 218.1h0.8M171.7 220.1h0.8M160.5 213.0h0.8M153.1 212.8h0.8M159.6 216.3h0.8M148.4 220.2h0.8M150.7 214.8h0.8M158.8 220.8h0.8M184.3 216.1h0.8M163.3 215.9h0.8M164.0 216.8h0.8M190.5 213.2h0.8M164.9 214.4h0.8M169.5 215.4h0.8M171.7 213.2h0.8M186.9 218.3h0.8M148.5 220.3h0.8M161.3 212.9h0.8M170.4 215.5h0.8M173.3 215.3h0.8M174.9 218.1h0.8M169.5 218.1h0.8M162.4 216.1h0.8M170.5 220.3h0.8M162.0 226.3h0.8M182.7 213.0h0.8M176.7 217.2h0.8M168.3 214.4h0.8M182.3 214.2h0.8M165.2 214.6h0.8M185.1 222.5h0.8M153.0 215.7h0.8M169.6 215.8h0.8M162.5 213.3h0.8M168.5 213.2h0.8M174.2 227.0h0.8M162.8 224.0h0.8M169.7 214.9h0.8M162.6 213.7h0.8M167.1 220.3h0.8M175.2 216.4h0.8M154.2 217.2h0.8M182.5 218.6h0.8M165.4 209.3h0.8M161.7 219.6h0.8M156.7 222.8h0.8M160.4 214.1h0.8M160.3 217.1h0.8M175.9 215.3h0.8M148.4 217.2h0.8M171.2 223.6h0.8M154.9 223.3h0.8M172.7 219.3h0.8M158.4 214.0h0.8M156.6 221.2h0.8M168.2 221.7h0.8M183.9 217.6h0.8M165.5 225.0h0.8M153.2 215.8h0.8M162.4 216.0h0.8M167.4 214.2h0.8M177.4 212.2h0.8M158.0 210.9h0.8M152.2 219.8h0.8M172.2 216.7h0.8M174.3 219.9h0.8M160.3 217.4h0.8M169.6 225.4h0.8M161.7 219.0h0.8M171.4 222.3h0.8M170.2 221.7h0.8M155.5 216.5h0.8M147.0 217.3h0.8M188.9 218.5h0.8M166.9 218.6h0.8M167.4 212.3h0.8M159.2 216.8h0.8M167.7 214.1h0.8M165.0 214.7h0.8M153.0 214.9h0.8M158.1 220.8h0.8M179.2 219.8h0.8M163.9 215.3h0.8M150.6 215.5h0.8M181.4 222.0h0.8M168.2 216.6h0.8M166.0 219.2h0.8M165.9 219.2h0.8M158.4 217.7h0.8M162.6 221.7h0.8M153.8 222.6h0.8M165.2 215.6h0.8M166.2 218.0h0.8M163.7 219.2h0.8M160.3 210.9h0.8M172.8 217.4h0.8M182.4 219.0h0.8M146.3 222.4h0.8M159.2 219.7h0.8M187.8 221.8h0.8M155.3 217.2h0.8M150.2 220.1h0.8M171.5 213.5h0.8M170.5 221.2h0.8M173.9 214.9h0.8" stroke="#7d9de3" stroke-width="0.8" opacity="0.8" fill="none" filter="url(#b0)"/>
<path d="M161.1 214.4h0.8M156.9 218.4h0.8M166.3 221.2h0.8M167.9 216.6h0.8M155.9 221.9h0.8M167.2 217.4h0.8M158.9 214.6h0.8M170.5 214.8h0.8M170.1 219.3h0.8M163.3 213.0h0.8M168.9 221.5h0.8M160.2 214.0h0.8M173.7 217.9h0.8M161.6 221.0h0.8M164.0 218.8h0.8M163.2 215.4h0.8M167.6 215.1h0.8M153.5 216.0h0.8M174.7 220.6h0.8M181.4 220.3h0.8M177.4 218.2h0.8M162.9 218.8h0.8M159.3 219.6h0.8M162.8 218.2h0.8M160.0 217.2h0.8M172.9 216.9h0.8M161.2 218.3h0.8M172.2 217.0h0.8M157.7 213.2h0.8M156.5 220.5h0.8M165.4 218.9h0.8M173.6 218.3h0.8M169.4 216.1h0.8M154.6 219.3h0.8M165.3 219.1h0.8M158.5 217.1h0.8M180.2 215.2h0.8M166.7 221.2h0.8M164.4 217.9h0.8M151.0 219.7h0.8M162.9 221.1h0.8M165.4 216.5h0.8M169.1 216.9h0.8M162.4 221.8h0.8M172.9 217.8h0.8M171.7 219.8h0.8M170.1 217.7h0.8M166.5 218.7h0.8M170.0 218.5h0.8M162.1 217.3h0.8M169.2 214.8h0.8M165.9 219.6h0.8M167.2 216.7h0.8M165.8 216.2h0.8M172.9 216.5h0.8M154.3 214.2h0.8M168.1 218.1h0.8M162.7 213.9h0.8M164.9 215.2h0.8M161.4 217.5h0.8M160.6 218.4h0.8M160.8 216.3h0.8M164.4 221.6h0.8M177.1 220.2h0.8M160.8 217.6h0.8M172.4 219.8h0.8M154.5 217.4h0.8M160.8 219.6h0.8M170.5 216.1h0.8M181.1 216.8h0.8M183.2 217.1h0.8M165.4 222.8h0.8M162.3 216.2h0.8M176.4 217.4h0.8M169.4 214.1h0.8M178.6 220.3h0.8M168.5 219.5h0.8M162.5 216.2h0.8M154.9 218.6h0.8M174.7 219.9h0.8M172.5 219.5h0.8M159.5 214.0h0.8M170.5 218.0h0.8M172.9 216.8h0.8M159.8 218.8h0.8M162.1 213.0h0.8M161.7 215.1h0.8M158.1 216.0h0.8M172.7 224.0h0.8M178.2 216.4h0.8M174.1 217.3h0.8M168.8 215.7h0.8M165.5 212.9h0.8M178.6 215.4h0.8M170.1 215.9h0.8M167.9 214.3h0.8M163.4 220.1h0.8M170.2 212.2h0.8M172.0 214.0h0.8M168.0 219.0h0.8M161.5 216.7h0.8M164.3 218.6h0.8M172.4 221.3h0.8M168.3 223.0h0.8" stroke="#4f82d6" stroke-width="0.8" opacity="0.8" fill="none" filter="url(#b0)"/>
<path d="M184.4 224.5h0.8M188.5 219.7h0.8M189.3 216.5h0.8M184.6 217.9h0.8M201.9 216.8h0.8M189.9 216.1h0.8M194.2 215.1h0.8M190.0 217.1h0.8M197.7 220.6h0.8M183.8 213.1h0.8M190.1 220.1h0.8M195.7 215.1h0.8M202.5 215.3h0.8M198.3 222.8h0.8M199.4 217.0h0.8M193.4 208.8h0.8M179.5 213.2h0.8M194.2 221.1h0.8M189.4 221.0h0.8M193.4 223.3h0.8M180.7 212.1h0.8M184.4 211.1h0.8M199.7 211.7h0.8M185.1 214.2h0.8M195.2 213.9h0.8M194.3 218.7h0.8M186.2 204.9h0.8M184.6 210.2h0.8M199.6 212.7h0.8M183.7 217.9h0.8M190.3 211.6h0.8M196.4 220.4h0.8M191.6 212.5h0.8M184.9 206.3h0.8M192.3 217.9h0.8M184.6 216.2h0.8M209.3 210.7h0.8M180.0 219.0h0.8M187.5 213.7h0.8M193.7 215.5h0.8M195.8 218.5h0.8M196.8 216.6h0.8M177.3 222.5h0.8M180.0 221.0h0.8M191.5 209.5h0.8M190.4 220.3h0.8M184.0 216.3h0.8M185.7 211.3h0.8M186.4 222.1h0.8M194.0 215.9h0.8M189.5 216.7h0.8M191.7 216.9h0.8M179.9 220.4h0.8M185.0 203.7h0.8M194.1 210.3h0.8M189.2 215.6h0.8M186.5 218.6h0.8M188.4 214.7h0.8M184.4 214.7h0.8M183.9 216.3h0.8M197.8 220.9h0.8M192.5 209.6h0.8M196.1 220.5h0.8M202.1 205.4h0.8M190.1 214.5h0.8M196.4 210.9h0.8M187.8 227.1h0.8M195.9 206.6h0.8M190.1 222.6h0.8M186.4 218.9h0.8" stroke="#8fa9e6" stroke-width="0.8" opacity="0.6" fill="none" filter="url(#b0)"/>
<path d="M171.0 189.0h0.8M163.8 208.7h0.8M181.6 195.5h0.8M181.1 194.7h0.8M172.4 199.9h0.8M157.7 202.5h0.8M166.2 179.2h0.8M161.9 193.6h0.8M161.8 192.6h0.8M163.2 181.4h0.8M178.8 200.6h0.8M172.5 198.0h0.8M170.6 198.1h0.8M159.3 188.5h0.8M170.7 207.8h0.8M172.3 212.4h0.8M156.6 198.0h0.8M163.9 209.5h0.8M186.7 196.1h0.8M177.2 198.2h0.8M160.2 199.2h0.8M159.8 211.9h0.8M175.8 209.1h0.8M173.5 181.5h0.8M177.9 200.7h0.8M146.6 200.8h0.8M179.9 213.1h0.8M159.9 206.1h0.8M173.3 198.7h0.8M167.2 204.1h0.8M175.7 205.1h0.8M166.0 190.0h0.8M183.0 210.0h0.8M164.4 199.8h0.8M177.9 186.6h0.8M174.9 218.5h0.8M172.7 194.6h0.8M190.1 200.1h0.8M172.1 196.8h0.8M171.8 186.3h0.8M157.4 188.7h0.8M178.9 199.3h0.8M181.3 184.4h0.8M164.1 211.2h0.8M162.2 185.8h0.8M162.7 197.4h0.8M169.9 210.0h0.8M183.1 211.9h0.8M175.7 196.2h0.8M165.1 188.7h0.8" stroke="#a9bdee" stroke-width="0.8" opacity="0.45" fill="none" filter="url(#b0)"/>
<g filter="url(#b1)" opacity="1.0" transform="rotate(0 165.3 217.5)"><ellipse cx="167.3" cy="217.5" rx="13.0" ry="5.6" fill="#aabdec"/><ellipse cx="167.06" cy="217.5" rx="11.44" ry="4.93" fill="#7396dc"/><ellipse cx="166.82" cy="217.5" rx="9.88" ry="4.26" fill="#4682d0"/><ellipse cx="166.54" cy="217.5" rx="8.06" ry="3.47" fill="#3aaecb"/><ellipse cx="166.3" cy="217.5" rx="6.5" ry="2.8" fill="#56c46c"/><ellipse cx="166.06" cy="217.5" rx="4.94" ry="2.13" fill="#b6d83e"/><ellipse cx="165.86" cy="217.5" rx="3.64" ry="1.57" fill="#f0d426"/><ellipse cx="165.64" cy="217.5" rx="2.21" ry="0.95" fill="#f08e24"/><ellipse cx="165.45" cy="217.5" rx="0.97" ry="0.42" fill="#e4401c"/></g>
<rect x="141.5" y="163.5" width="72.0" height="73.0" fill="none" stroke="#161616" stroke-width="1.3"/>
<rect x="155.5" y="173.5" width="51.0" height="34.0" fill="none" stroke="#161616" stroke-width="1.0"/>
<rect x="155.5" y="209.5" width="25.0" height="19.0" fill="none" stroke="#161616" stroke-width="1.0"/>
<rect x="185.5" y="209.5" width="20.0" height="19.0" fill="none" stroke="#161616" stroke-width="1.0"/>
<text x="181" y="171.3" font-size="6.8" font-weight="bold" text-anchor="middle" fill="#161616" stroke="#161616" stroke-width="0.28">S</text>
<text x="200.8" y="180.79999999999998" font-size="8.3" font-weight="normal" text-anchor="end" fill="#3a3a3a" stroke="#3a3a3a" stroke-width="0.2">1</text>
<text x="153.4" y="213.5" font-size="8.3" font-weight="normal" text-anchor="end" fill="#3a3a3a" stroke="#3a3a3a" stroke-width="0.2">94</text>
<text x="206.4" y="213.1" font-size="8.3" font-weight="normal" text-anchor="start" fill="#3a3a3a" stroke="#3a3a3a" stroke-width="0.2">4</text>
<text x="149" y="222" font-size="7.2" font-weight="bold" text-anchor="middle" fill="#161616" stroke="#161616" stroke-width="0.28">G<tspan dy="1.6" font-size="4.5">1</tspan></text>
<text x="196.5" y="233.6" font-size="5.3" font-weight="bold" text-anchor="middle" fill="#161616" stroke="#161616" stroke-width="0.28">G<tspan dy="1" font-size="3.4">2</tspan><tspan dy="-1">–M</tspan></text>
<text x="130.3" y="172.8" font-size="6.5" font-weight="bold" text-anchor="start" fill="#161616" stroke="#161616" stroke-width="0.28">10<tspan dy="-2.47" font-size="3.58">5</tspan></text>
<text x="130.3" y="234.2" font-size="6.5" font-weight="bold" text-anchor="start" fill="#161616" stroke="#161616" stroke-width="0.28">10<tspan dy="-2.47" font-size="3.58">1</tspan></text>
<text x="142" y="245.5" font-size="6.9" font-weight="bold" text-anchor="middle" fill="#161616" stroke="#161616" stroke-width="0.28">0</text>
<text x="204.5" y="245.5" font-size="6.9" font-weight="bold" text-anchor="middle" fill="#161616" stroke="#161616" stroke-width="0.28">250</text>
<ellipse cx="259" cy="210" rx="15" ry="5" fill="#9fb6ea" opacity="0.5" filter="url(#b3)" transform="rotate(-14 259 210)"/>
<ellipse cx="252" cy="217" rx="7" ry="5" fill="#9fb6ea" opacity="0.4" filter="url(#b3)" transform="rotate(0 252 217)"/>
<path d="M283.0 211.3h0.8M258.3 203.8h0.8M271.0 209.4h0.8M259.1 201.8h0.8M261.5 205.0h0.8M272.3 209.8h0.8M265.3 205.0h0.8M286.8 207.3h0.8M282.2 208.8h0.8M270.6 208.9h0.8M235.9 203.4h0.8M242.0 217.4h0.8M274.8 206.5h0.8M262.4 220.1h0.8M248.1 200.6h0.8M271.8 210.8h0.8M255.2 215.4h0.8M256.0 205.4h0.8M252.3 215.8h0.8M273.6 198.5h0.8M240.3 214.7h0.8M294.7 192.9h0.8M236.0 217.7h0.8M266.3 203.5h0.8M258.3 212.5h0.8M270.3 212.3h0.8M279.0 203.8h0.8M234.0 224.1h0.8M271.0 202.2h0.8M278.3 211.1h0.8M251.9 196.0h0.8M248.4 207.1h0.8M242.8 212.8h0.8M239.0 216.7h0.8M290.4 193.8h0.8M276.0 201.6h0.8M267.6 206.3h0.8M280.1 199.5h0.8M270.1 201.5h0.8M262.1 208.4h0.8M275.3 195.1h0.8M235.7 223.9h0.8M267.5 218.0h0.8M239.7 215.4h0.8M271.5 217.4h0.8M256.4 207.1h0.8M270.8 205.7h0.8M245.6 217.4h0.8M281.8 200.4h0.8M252.7 213.2h0.8M279.0 207.6h0.8M239.8 210.4h0.8M276.8 204.1h0.8M247.9 217.6h0.8M281.9 217.4h0.8M237.5 210.1h0.8M246.0 214.8h0.8M251.1 218.3h0.8M246.0 210.7h0.8M268.5 208.2h0.8M242.0 223.1h0.8M267.7 204.0h0.8M260.1 201.9h0.8M235.4 213.2h0.8M264.7 208.5h0.8M242.0 204.7h0.8M263.5 203.0h0.8M280.2 207.4h0.8M249.6 207.7h0.8M279.0 206.4h0.8" stroke="#a9bdee" stroke-width="0.8" opacity="0.75" fill="none" filter="url(#b0)"/>
<path d="M277.7 206.1h0.8M250.5 208.9h0.8M249.9 212.6h0.8M261.6 211.2h0.8M262.3 204.0h0.8M254.7 206.4h0.8M262.4 202.9h0.8M250.3 207.8h0.8M250.4 210.3h0.8M275.6 204.0h0.8M240.8 212.5h0.8M267.4 209.5h0.8M262.8 216.7h0.8M271.2 206.6h0.8M271.0 200.6h0.8M255.1 206.6h0.8M261.7 215.4h0.8M253.7 217.3h0.8M247.4 218.1h0.8M237.2 211.1h0.8M269.7 206.2h0.8M259.7 209.0h0.8M260.0 208.3h0.8M246.2 211.2h0.8M258.4 205.6h0.8M265.2 215.1h0.8M238.1 212.2h0.8M254.7 210.4h0.8M258.4 206.4h0.8M257.6 209.6h0.8M258.5 215.8h0.8M258.1 203.3h0.8M240.1 216.4h0.8M253.4 208.1h0.8M241.7 212.3h0.8M256.3 207.1h0.8M254.7 214.0h0.8M267.8 209.4h0.8M254.6 204.6h0.8M268.6 213.1h0.8M274.2 210.4h0.8M261.6 210.2h0.8M259.1 214.5h0.8M257.0 218.8h0.8M266.9 205.9h0.8M256.4 203.1h0.8M249.1 210.5h0.8M286.1 199.1h0.8M268.9 207.1h0.8M255.1 212.8h0.8M235.5 219.1h0.8M281.1 205.0h0.8M257.4 210.3h0.8M265.3 205.6h0.8M259.9 211.1h0.8M254.3 212.1h0.8M262.6 211.3h0.8M245.9 210.3h0.8M254.2 215.5h0.8M259.3 202.2h0.8M244.9 220.9h0.8M260.7 203.4h0.8M247.4 212.7h0.8M276.4 211.7h0.8M253.4 209.4h0.8M279.6 200.0h0.8M276.8 206.2h0.8M260.4 214.3h0.8M262.9 204.8h0.8M240.1 214.0h0.8M265.4 213.4h0.8M266.8 213.7h0.8M267.6 208.0h0.8M263.5 209.8h0.8M250.5 210.9h0.8M259.1 207.3h0.8M239.3 208.1h0.8M264.5 210.1h0.8M258.1 204.6h0.8M267.6 205.5h0.8M235.1 221.8h0.8M242.7 222.8h0.8M263.8 206.2h0.8M276.8 210.5h0.8M259.4 202.0h0.8M253.2 209.5h0.8M263.3 207.6h0.8M260.5 202.0h0.8M251.9 217.1h0.8M241.8 217.4h0.8M285.8 205.3h0.8M242.9 218.5h0.8M236.5 216.3h0.8M254.4 215.6h0.8M272.1 206.8h0.8M280.1 208.1h0.8M251.4 207.0h0.8M286.6 200.7h0.8M262.7 207.8h0.8M250.8 204.5h0.8M256.2 209.5h0.8M269.1 204.6h0.8M238.5 209.8h0.8M257.8 210.6h0.8M266.2 205.9h0.8M264.5 208.5h0.8M277.8 204.3h0.8M260.3 211.3h0.8M271.4 202.3h0.8M252.2 209.8h0.8M234.2 220.9h0.8M270.7 206.4h0.8M298.9 204.7h0.8M283.4 209.8h0.8M267.3 201.2h0.8M276.5 206.7h0.8M244.0 213.2h0.8M267.9 211.2h0.8M259.6 206.9h0.8M266.3 204.2h0.8M257.8 212.8h0.8M241.4 215.2h0.8M234.0 211.6h0.8M243.4 212.8h0.8M266.4 207.2h0.8M268.9 207.2h0.8M256.1 212.1h0.8M255.3 210.7h0.8M269.7 204.2h0.8M270.5 201.7h0.8M253.7 203.2h0.8M253.3 217.4h0.8M263.5 213.5h0.8" stroke="#7d9de3" stroke-width="0.8" opacity="0.8" fill="none" filter="url(#b0)"/>
<path d="M244.8 209.7h0.8M262.6 210.9h0.8M263.9 202.9h0.8M262.3 208.2h0.8M259.4 210.6h0.8M254.4 205.2h0.8M247.9 207.6h0.8M246.7 211.9h0.8M268.6 204.7h0.8M250.7 207.8h0.8M243.4 213.4h0.8M253.7 209.8h0.8M250.2 212.9h0.8M248.2 213.6h0.8M252.9 213.2h0.8M250.8 212.6h0.8M261.7 208.3h0.8M272.0 206.5h0.8M251.0 213.4h0.8M250.6 209.7h0.8M258.2 210.0h0.8M271.2 200.9h0.8M256.6 213.3h0.8M256.9 210.8h0.8M270.1 202.7h0.8M258.9 211.7h0.8M251.8 205.7h0.8M249.6 212.2h0.8M260.9 214.4h0.8M268.2 202.2h0.8M267.5 209.9h0.8M271.7 205.6h0.8M253.4 211.1h0.8M271.6 208.0h0.8M273.0 208.2h0.8M252.3 207.8h0.8M272.7 201.2h0.8M254.8 209.3h0.8M249.8 209.8h0.8M259.8 216.3h0.8M257.1 208.1h0.8M259.7 211.9h0.8M250.8 210.1h0.8M243.6 215.2h0.8M264.9 212.4h0.8M249.4 218.3h0.8M265.2 206.9h0.8M254.5 209.4h0.8M248.2 214.3h0.8M252.3 208.7h0.8M262.5 208.7h0.8M252.9 210.1h0.8M254.8 214.4h0.8M266.0 205.3h0.8M258.6 213.5h0.8M256.8 215.2h0.8M262.3 210.5h0.8M240.9 216.3h0.8M261.3 210.5h0.8M262.5 210.0h0.8M254.3 213.2h0.8M257.8 206.4h0.8M249.4 212.1h0.8M259.3 202.4h0.8M241.2 216.9h0.8M259.9 217.7h0.8M244.8 212.0h0.8M253.3 212.4h0.8M271.2 211.1h0.8M250.3 215.2h0.8M247.9 213.0h0.8M259.9 210.9h0.8M252.1 215.0h0.8M257.4 209.6h0.8M255.0 207.0h0.8M264.4 208.9h0.8M263.2 213.9h0.8M250.4 210.5h0.8M258.7 211.9h0.8M257.2 212.6h0.8M260.6 203.5h0.8M250.7 205.1h0.8M255.3 208.9h0.8M263.2 208.7h0.8M258.4 213.3h0.8M262.2 204.7h0.8M252.4 211.9h0.8M272.4 205.3h0.8M256.7 210.6h0.8M264.6 207.6h0.8M260.2 207.7h0.8M252.7 208.4h0.8M263.2 206.5h0.8M263.0 209.5h0.8M264.4 199.7h0.8M248.9 208.0h0.8M257.2 212.2h0.8M280.7 208.6h0.8M269.9 207.7h0.8M255.1 211.9h0.8M240.1 216.8h0.8M258.5 211.3h0.8M248.4 208.5h0.8M252.5 210.7h0.8M260.7 207.7h0.8M261.5 210.7h0.8M248.0 211.7h0.8M244.3 211.2h0.8M265.2 205.5h0.8M274.3 207.0h0.8M265.7 207.9h0.8M266.2 210.8h0.8M258.5 207.7h0.8M254.7 216.2h0.8M256.1 208.6h0.8M250.7 206.1h0.8M254.0 211.5h0.8M253.3 208.3h0.8M261.8 210.0h0.8M254.5 211.3h0.8" stroke="#4f82d6" stroke-width="0.8" opacity="0.8" fill="none" filter="url(#b0)"/>
<path d="M270.3 206.6h0.8M270.2 203.7h0.8M276.8 203.5h0.8M269.3 209.6h0.8M284.9 200.3h0.8M276.7 201.4h0.8M277.8 201.3h0.8M279.4 205.8h0.8M286.0 207.4h0.8M273.3 206.8h0.8M273.3 204.2h0.8M273.1 200.2h0.8M279.5 199.6h0.8M274.6 205.8h0.8M276.7 200.7h0.8M272.2 206.2h0.8M282.4 208.4h0.8M265.4 205.6h0.8M273.2 206.4h0.8M266.1 204.2h0.8M280.1 202.9h0.8M273.9 202.1h0.8M282.5 201.3h0.8M270.6 203.7h0.8M274.1 209.6h0.8M277.6 202.5h0.8M279.4 205.3h0.8M277.7 204.3h0.8M278.7 201.6h0.8M269.0 203.5h0.8M269.5 206.2h0.8M287.4 207.5h0.8M278.6 205.3h0.8M272.0 201.3h0.8M279.2 200.9h0.8M277.8 204.2h0.8M280.4 204.6h0.8M276.6 203.1h0.8M265.9 203.7h0.8M280.1 207.0h0.8M284.1 202.1h0.8M270.5 206.2h0.8M273.3 210.8h0.8M277.8 200.8h0.8M272.7 208.3h0.8M265.3 204.9h0.8M267.9 208.4h0.8M273.4 202.0h0.8M266.0 202.8h0.8M261.0 203.3h0.8M288.8 204.7h0.8M274.4 201.7h0.8M278.0 203.4h0.8M271.0 207.9h0.8M278.6 202.3h0.8M284.7 204.4h0.8M279.0 204.9h0.8M282.9 206.0h0.8M274.0 206.2h0.8M273.7 204.8h0.8M285.6 201.9h0.8M269.9 203.5h0.8M273.1 207.7h0.8M266.7 210.1h0.8M285.3 203.4h0.8M277.1 203.6h0.8M279.9 206.1h0.8M280.4 206.4h0.8M287.3 204.1h0.8M280.1 204.0h0.8M276.2 205.0h0.8M275.7 205.3h0.8M271.0 204.1h0.8M272.5 201.7h0.8M271.9 203.3h0.8M275.1 200.7h0.8M274.5 201.7h0.8M271.2 205.0h0.8M282.5 205.2h0.8M273.1 203.4h0.8M283.9 200.5h0.8M282.7 200.8h0.8M272.3 204.6h0.8M274.7 208.6h0.8M278.9 204.4h0.8M281.6 204.6h0.8M271.3 207.2h0.8M284.8 207.6h0.8M269.1 209.2h0.8M273.6 206.4h0.8" stroke="#7d9de3" stroke-width="0.8" opacity="0.7" fill="none" filter="url(#b0)"/>
<path d="M256.8 228.4h0.8M243.1 213.5h0.8M256.8 220.2h0.8M249.5 205.1h0.8M253.2 217.2h0.8M238.2 229.8h0.8M238.8 215.5h0.8M251.0 219.0h0.8M254.7 216.8h0.8M246.6 216.4h0.8M240.7 213.1h0.8M260.7 215.0h0.8M250.6 226.3h0.8M256.2 218.5h0.8M254.6 216.8h0.8M246.6 222.4h0.8M251.7 225.0h0.8M249.7 216.4h0.8M252.7 217.2h0.8M249.5 214.1h0.8M252.2 219.4h0.8M260.0 217.9h0.8M242.4 220.0h0.8M262.2 216.1h0.8M247.1 217.3h0.8M237.0 216.5h0.8M250.1 211.4h0.8M253.8 214.1h0.8M241.9 214.8h0.8M254.1 226.5h0.8M257.1 218.9h0.8M248.5 216.9h0.8M255.7 215.7h0.8M253.0 222.3h0.8M246.6 215.4h0.8M253.2 218.0h0.8M250.4 215.7h0.8M250.7 226.2h0.8M257.7 210.9h0.8M251.2 218.4h0.8M251.2 211.9h0.8M250.4 218.7h0.8M247.7 219.4h0.8M239.0 211.4h0.8M251.5 219.7h0.8M250.2 216.0h0.8M251.9 222.8h0.8M255.4 217.7h0.8M248.7 222.7h0.8M253.7 221.9h0.8M249.6 214.2h0.8M251.9 215.2h0.8M256.6 221.8h0.8M240.3 220.9h0.8M257.5 222.6h0.8M248.7 214.2h0.8M255.8 222.5h0.8M251.3 212.9h0.8M243.5 219.2h0.8M246.9 215.0h0.8M253.2 222.6h0.8M240.9 215.0h0.8M257.4 217.8h0.8M249.3 220.8h0.8M245.4 212.6h0.8M251.1 224.9h0.8M256.0 218.0h0.8M256.0 216.2h0.8M245.2 210.6h0.8M252.3 222.0h0.8M252.8 217.8h0.8M249.0 222.8h0.8M250.8 211.7h0.8M257.7 215.1h0.8M252.9 218.0h0.8M256.2 219.1h0.8M257.0 218.9h0.8M248.7 215.8h0.8M254.2 214.3h0.8M255.6 216.9h0.8M246.4 214.2h0.8M250.3 225.8h0.8M254.8 218.1h0.8M246.6 226.4h0.8M249.6 218.0h0.8M248.9 223.9h0.8M251.9 216.0h0.8M251.9 213.6h0.8M245.8 217.3h0.8M236.9 223.2h0.8M260.8 213.1h0.8M250.3 211.0h0.8M251.8 218.9h0.8M254.6 212.1h0.8M248.0 215.1h0.8M249.8 228.1h0.8M250.0 217.8h0.8M248.5 221.5h0.8M263.6 223.1h0.8M258.5 213.3h0.8M256.2 218.1h0.8M257.1 222.7h0.8M254.2 210.6h0.8M251.7 215.8h0.8M253.2 218.2h0.8M256.2 210.9h0.8M247.4 217.7h0.8M252.6 216.2h0.8M250.9 218.2h0.8M256.1 217.5h0.8" stroke="#7d9de3" stroke-width="0.8" opacity="0.7" fill="none" filter="url(#b0)"/>
<g filter="url(#b1)" opacity="1.0" transform="rotate(-14 254.7 210.6)"><ellipse cx="259.7" cy="211.1" rx="15.0" ry="6.4" fill="#aabdec"/><ellipse cx="259.1" cy="211.04" rx="13.2" ry="5.63" fill="#7396dc"/><ellipse cx="258.5" cy="210.98" rx="11.4" ry="4.86" fill="#4682d0"/><ellipse cx="257.8" cy="210.91" rx="9.3" ry="3.97" fill="#3aaecb"/><ellipse cx="257.2" cy="210.85" rx="7.5" ry="3.2" fill="#56c46c"/><ellipse cx="256.6" cy="210.79" rx="5.7" ry="2.43" fill="#b6d83e"/><ellipse cx="256.1" cy="210.74" rx="4.2" ry="1.79" fill="#f0d426"/><ellipse cx="255.55" cy="210.69" rx="2.55" ry="1.09" fill="#f08e24"/><ellipse cx="255.07" cy="210.64" rx="1.12" ry="0.48" fill="#e4401c"/></g>
<rect x="229.5" y="163.5" width="73.0" height="73.0" fill="none" stroke="#161616" stroke-width="1.3"/>
<rect x="244.5" y="173.5" width="50.0" height="34.0" fill="none" stroke="#161616" stroke-width="1.0"/>
<rect x="244.5" y="209.5" width="25.0" height="19.0" fill="none" stroke="#161616" stroke-width="1.0"/>
<rect x="273.5" y="209.5" width="21.0" height="19.0" fill="none" stroke="#161616" stroke-width="1.0"/>
<text x="270" y="171.3" font-size="6.8" font-weight="bold" text-anchor="middle" fill="#161616" stroke="#161616" stroke-width="0.28">S</text>
<text x="292.5" y="180.79999999999998" font-size="8.3" font-weight="normal" text-anchor="end" fill="#3a3a3a" stroke="#3a3a3a" stroke-width="0.2">43</text>
<text x="242.6" y="213.5" font-size="8.3" font-weight="normal" text-anchor="end" fill="#3a3a3a" stroke="#3a3a3a" stroke-width="0.2">54</text>
<text x="296.09999999999997" y="213.1" font-size="8.3" font-weight="normal" text-anchor="start" fill="#3a3a3a" stroke="#3a3a3a" stroke-width="0.2">1</text>
<text x="238.3" y="222" font-size="7.2" font-weight="bold" text-anchor="middle" fill="#161616" stroke="#161616" stroke-width="0.28">G<tspan dy="1.6" font-size="4.5">1</tspan></text>
<text x="284.6" y="233.6" font-size="5.3" font-weight="bold" text-anchor="middle" fill="#161616" stroke="#161616" stroke-width="0.28">G<tspan dy="1" font-size="3.4">2</tspan><tspan dy="-1">–M</tspan></text>
<text x="219.3" y="172.8" font-size="6.5" font-weight="bold" text-anchor="start" fill="#161616" stroke="#161616" stroke-width="0.28">10<tspan dy="-2.47" font-size="3.58">5</tspan></text>
<text x="219.3" y="234.2" font-size="6.5" font-weight="bold" text-anchor="start" fill="#161616" stroke="#161616" stroke-width="0.28">10<tspan dy="-2.47" font-size="3.58">1</tspan></text>
<text x="231" y="245.5" font-size="6.9" font-weight="bold" text-anchor="middle" fill="#161616" stroke="#161616" stroke-width="0.28">0</text>
<text x="293" y="245.5" font-size="6.9" font-weight="bold" text-anchor="middle" fill="#161616" stroke="#161616" stroke-width="0.28">250</text>
<ellipse cx="350" cy="200" rx="15" ry="6" fill="#9fb6ea" opacity="0.5" filter="url(#b3)" transform="rotate(-8 350 200)"/>
<ellipse cx="343" cy="216" rx="9" ry="6" fill="#9fb6ea" opacity="0.45" filter="url(#b3)" transform="rotate(0 343 216)"/>
<path d="M351.5 186.2h0.8M353.0 182.5h0.8M356.1 197.8h0.8M348.3 194.4h0.8M342.4 206.4h0.8M355.3 198.4h0.8M340.6 202.2h0.8M369.9 196.4h0.8M341.4 192.1h0.8M349.8 192.8h0.8M324.6 209.2h0.8M336.0 186.7h0.8M338.2 214.2h0.8M345.8 190.5h0.8M330.3 207.3h0.8M356.4 200.0h0.8M346.0 203.4h0.8M376.6 199.1h0.8M344.7 190.1h0.8M358.4 209.4h0.8M359.2 189.1h0.8M353.5 208.2h0.8M338.3 204.5h0.8M371.9 208.0h0.8M356.3 203.5h0.8M342.8 200.2h0.8M343.0 208.9h0.8M325.8 197.9h0.8M321.1 196.9h0.8M348.6 199.7h0.8M380.2 193.5h0.8M355.4 201.1h0.8M355.0 209.2h0.8M351.6 200.2h0.8M347.0 199.8h0.8M349.0 206.6h0.8M349.4 199.9h0.8M348.9 205.0h0.8M341.6 207.3h0.8M339.6 205.8h0.8M383.0 196.4h0.8M346.3 191.4h0.8M362.0 197.8h0.8M364.4 192.6h0.8M360.0 210.9h0.8M355.8 196.2h0.8M326.0 202.7h0.8M361.2 202.1h0.8M328.3 195.0h0.8M330.8 194.7h0.8M344.4 202.1h0.8M383.1 196.1h0.8M373.0 184.2h0.8M377.0 201.3h0.8M357.6 204.2h0.8M361.8 211.5h0.8M361.5 185.2h0.8M319.8 215.2h0.8M348.8 209.0h0.8M342.3 195.7h0.8M343.3 202.6h0.8M351.7 194.7h0.8M359.1 202.5h0.8M331.7 193.9h0.8M348.5 194.6h0.8M338.2 200.1h0.8M350.1 203.5h0.8M364.1 200.5h0.8M367.8 189.9h0.8M360.1 200.6h0.8M329.9 197.3h0.8" stroke="#a9bdee" stroke-width="0.8" opacity="0.75" fill="none" filter="url(#b0)"/>
<path d="M354.2 199.1h0.8M334.0 199.0h0.8M367.3 200.9h0.8M350.8 205.6h0.8M338.4 200.2h0.8M359.9 196.4h0.8M336.4 204.0h0.8M366.0 185.1h0.8M350.0 193.4h0.8M344.6 193.4h0.8M378.8 192.1h0.8M349.1 196.1h0.8M337.2 199.0h0.8M352.6 207.3h0.8M353.4 206.3h0.8M336.7 201.6h0.8M342.9 192.9h0.8M351.3 195.6h0.8M341.6 195.6h0.8M360.7 196.0h0.8M347.4 200.6h0.8M334.9 202.6h0.8M347.3 201.9h0.8M344.5 200.3h0.8M355.7 203.1h0.8M341.6 205.1h0.8M337.4 200.2h0.8M350.6 200.0h0.8M347.5 204.1h0.8M341.8 207.7h0.8M328.1 202.8h0.8M355.3 198.7h0.8M352.7 203.4h0.8M340.0 203.6h0.8M361.2 196.7h0.8M321.3 197.7h0.8M338.4 196.0h0.8M353.5 195.1h0.8M378.2 198.1h0.8M333.6 200.3h0.8M367.2 200.2h0.8M337.8 206.0h0.8M344.9 210.6h0.8M343.0 203.2h0.8M355.3 196.5h0.8M348.0 205.1h0.8M354.7 198.4h0.8M355.3 206.9h0.8M360.1 200.2h0.8M351.8 191.7h0.8M350.3 197.0h0.8M357.1 195.5h0.8M353.5 193.9h0.8M358.9 194.7h0.8M349.0 202.2h0.8M345.2 200.1h0.8M362.5 206.0h0.8M327.4 198.3h0.8M357.5 202.8h0.8M343.6 200.7h0.8M348.2 210.4h0.8M345.9 194.3h0.8M330.1 196.1h0.8M363.9 195.6h0.8M372.1 199.3h0.8M353.9 201.9h0.8M358.8 202.5h0.8M337.3 198.5h0.8M342.7 200.9h0.8M345.3 194.2h0.8M342.1 208.9h0.8M373.1 192.1h0.8M353.4 198.7h0.8M339.6 204.2h0.8M349.3 207.4h0.8M354.1 197.3h0.8M358.4 194.8h0.8M359.7 201.2h0.8M328.4 201.5h0.8M353.2 202.5h0.8M350.8 199.2h0.8M344.8 198.7h0.8M348.3 194.6h0.8M356.2 196.9h0.8M354.7 196.3h0.8M353.9 199.4h0.8M359.7 200.2h0.8M359.7 197.2h0.8M348.2 198.4h0.8M334.3 201.0h0.8M362.1 201.3h0.8M339.3 202.3h0.8M356.8 192.0h0.8M353.3 200.5h0.8M357.9 199.5h0.8M327.5 193.0h0.8M371.8 194.4h0.8M364.6 203.3h0.8M349.3 194.1h0.8M364.9 197.1h0.8M355.3 200.9h0.8M360.7 202.6h0.8M331.6 195.3h0.8M350.7 199.3h0.8M357.9 197.6h0.8M348.2 209.2h0.8M365.7 202.6h0.8M360.5 194.2h0.8M348.0 199.3h0.8M335.7 197.3h0.8M350.1 193.6h0.8M355.6 200.8h0.8M346.0 198.3h0.8M356.3 200.7h0.8M352.5 193.2h0.8M331.5 211.6h0.8M341.2 198.9h0.8M327.3 198.8h0.8M341.0 204.4h0.8M343.9 197.9h0.8M339.7 198.7h0.8M330.9 203.3h0.8M363.0 198.3h0.8M343.6 206.2h0.8M354.0 193.9h0.8M341.9 197.6h0.8M349.3 205.2h0.8M340.7 200.0h0.8M349.5 193.8h0.8M343.9 203.1h0.8M360.9 189.0h0.8" stroke="#7d9de3" stroke-width="0.8" opacity="0.8" fill="none" filter="url(#b0)"/>
<path d="M354.8 197.7h0.8M360.1 200.1h0.8M365.6 198.2h0.8M345.3 197.2h0.8M337.3 203.0h0.8M353.7 201.6h0.8M351.2 194.1h0.8M345.5 199.2h0.8M350.7 201.9h0.8M361.0 198.8h0.8M331.3 198.5h0.8M330.8 199.5h0.8M339.1 201.7h0.8M347.7 203.5h0.8M357.8 196.7h0.8M356.9 198.4h0.8M353.4 203.4h0.8M339.4 200.6h0.8M361.5 195.2h0.8M350.9 199.7h0.8M344.9 195.6h0.8M342.8 197.0h0.8M358.2 199.1h0.8M354.3 194.7h0.8M353.3 199.4h0.8M357.4 195.9h0.8M356.4 203.1h0.8M363.7 194.3h0.8M338.9 196.0h0.8M357.3 200.3h0.8M351.5 196.2h0.8M360.2 203.4h0.8M348.7 199.1h0.8M359.2 199.8h0.8M360.1 196.6h0.8M351.7 198.0h0.8M344.1 199.2h0.8M346.9 201.5h0.8M346.5 200.1h0.8M341.7 196.4h0.8M360.5 194.6h0.8M364.6 200.5h0.8M329.6 200.1h0.8M345.5 200.1h0.8M347.2 197.7h0.8M359.4 197.6h0.8M356.7 196.1h0.8M343.9 204.7h0.8M346.1 196.2h0.8M348.1 203.2h0.8M347.3 197.3h0.8M354.8 202.0h0.8M347.1 198.7h0.8M347.2 208.9h0.8M348.2 205.5h0.8M348.0 201.0h0.8M332.1 202.5h0.8M349.3 198.4h0.8M345.0 195.5h0.8M336.6 201.8h0.8M343.6 200.0h0.8M347.3 198.0h0.8M343.8 206.5h0.8M339.5 199.1h0.8M346.0 196.0h0.8M341.4 203.5h0.8M356.9 198.8h0.8M376.5 198.4h0.8M358.9 195.4h0.8M358.9 203.8h0.8M346.7 205.9h0.8M341.8 196.7h0.8M348.3 196.9h0.8M353.8 195.1h0.8M348.8 192.9h0.8M349.2 203.0h0.8M347.0 200.8h0.8M357.6 194.6h0.8M338.4 201.3h0.8M351.2 198.3h0.8M341.5 204.7h0.8M339.2 200.0h0.8M349.0 201.9h0.8M344.9 197.3h0.8M365.5 194.3h0.8M355.6 198.1h0.8M345.0 199.9h0.8M347.0 200.8h0.8M327.8 202.4h0.8M349.2 196.2h0.8M346.9 207.7h0.8M364.8 199.5h0.8M350.8 198.2h0.8M360.4 196.4h0.8M342.5 202.7h0.8M340.6 198.0h0.8M360.4 192.5h0.8M348.5 200.0h0.8M350.5 194.4h0.8M347.0 198.7h0.8M365.6 200.6h0.8M343.1 203.3h0.8M354.4 198.4h0.8M346.9 198.9h0.8M335.8 199.2h0.8M357.5 203.2h0.8M364.4 196.1h0.8M353.1 190.8h0.8M346.2 195.6h0.8M355.1 193.1h0.8M339.8 197.1h0.8M352.7 201.8h0.8M342.2 206.5h0.8M350.0 196.6h0.8M351.9 199.0h0.8M356.1 199.7h0.8M367.9 200.8h0.8M344.1 202.8h0.8M354.9 195.3h0.8M342.4 197.7h0.8" stroke="#4f82d6" stroke-width="0.8" opacity="0.8" fill="none" filter="url(#b0)"/>
<path d="M328.4 219.1h0.8M341.7 222.0h0.8M339.7 216.4h0.8M347.3 220.7h0.8M344.9 210.9h0.8M356.1 220.2h0.8M351.1 223.9h0.8M351.3 218.0h0.8M345.8 219.1h0.8M334.1 220.0h0.8M337.3 218.1h0.8M337.0 219.5h0.8M340.2 228.1h0.8M344.2 218.5h0.8M337.7 214.6h0.8M342.7 214.6h0.8M340.5 211.7h0.8M347.5 214.1h0.8M338.2 217.8h0.8M338.2 215.2h0.8M340.0 211.5h0.8M341.7 212.0h0.8M335.6 217.7h0.8M341.3 208.9h0.8M340.7 216.9h0.8M345.6 217.8h0.8M344.5 218.9h0.8M340.1 212.1h0.8M346.7 214.0h0.8M343.1 219.2h0.8M348.6 222.0h0.8M339.0 214.2h0.8M346.3 209.0h0.8M335.6 219.0h0.8M339.4 211.5h0.8M347.8 218.6h0.8M348.5 214.4h0.8M341.3 214.4h0.8M344.8 206.1h0.8M339.0 219.5h0.8M338.4 215.7h0.8M343.8 218.5h0.8M340.2 210.5h0.8M357.8 212.5h0.8M353.2 207.5h0.8M343.7 215.1h0.8M354.2 225.9h0.8M348.8 211.1h0.8M338.3 212.3h0.8M340.0 217.3h0.8M338.4 214.8h0.8M351.7 223.0h0.8M332.1 211.4h0.8M340.9 222.3h0.8M341.1 225.3h0.8M345.2 223.0h0.8M338.0 214.5h0.8M349.1 218.8h0.8M332.0 214.7h0.8M344.1 219.1h0.8M339.3 224.5h0.8M344.0 223.0h0.8M345.4 216.4h0.8M341.2 210.3h0.8M348.2 219.7h0.8M348.6 214.2h0.8M337.1 214.2h0.8M341.2 215.9h0.8M348.9 211.6h0.8M340.2 219.4h0.8M348.4 226.7h0.8M346.2 211.9h0.8M336.9 212.2h0.8M343.5 217.2h0.8M342.7 213.0h0.8M342.0 215.6h0.8M346.6 216.4h0.8M338.3 210.3h0.8M351.8 215.6h0.8M342.0 215.9h0.8M349.7 214.5h0.8M344.1 214.9h0.8M346.5 211.1h0.8M344.3 221.0h0.8M350.0 219.0h0.8M344.8 223.6h0.8M347.2 222.8h0.8M336.0 210.7h0.8M347.8 214.7h0.8M340.5 211.4h0.8M351.8 210.2h0.8M343.7 209.3h0.8M342.1 226.9h0.8M357.4 213.6h0.8M337.1 223.9h0.8M338.0 207.4h0.8M345.1 210.8h0.8M334.5 221.5h0.8M338.8 210.9h0.8M344.1 215.1h0.8M349.7 216.5h0.8M352.4 221.5h0.8M353.6 221.4h0.8M343.5 218.6h0.8M343.2 208.5h0.8M336.2 219.6h0.8M329.2 212.0h0.8M335.5 215.7h0.8M337.0 217.2h0.8M341.9 213.7h0.8M338.1 205.3h0.8M343.5 209.8h0.8M341.4 217.8h0.8M349.2 219.4h0.8M351.8 209.1h0.8M347.1 223.6h0.8M345.4 210.6h0.8M345.4 213.5h0.8M339.3 221.2h0.8M342.0 210.6h0.8M339.1 225.5h0.8M338.1 219.3h0.8M344.1 221.7h0.8M341.5 211.4h0.8M339.3 211.0h0.8M358.3 217.0h0.8M341.2 222.1h0.8M346.9 215.1h0.8M346.7 217.3h0.8M349.7 224.0h0.8M341.3 215.8h0.8M342.0 221.9h0.8M345.3 219.8h0.8M348.4 212.9h0.8M343.9 222.7h0.8M348.5 219.9h0.8M341.5 214.3h0.8M338.1 214.7h0.8M342.7 209.1h0.8M349.9 212.3h0.8M344.6 218.9h0.8M339.9 207.3h0.8M348.8 218.0h0.8M341.6 221.5h0.8M348.3 211.4h0.8M342.6 207.5h0.8M341.6 222.8h0.8M338.2 220.0h0.8M334.3 214.6h0.8M348.6 224.3h0.8M345.8 219.7h0.8M353.2 204.2h0.8M333.1 225.2h0.8M357.5 218.9h0.8M343.5 217.3h0.8M343.3 213.0h0.8M343.0 215.4h0.8M347.0 219.3h0.8M348.8 218.9h0.8M337.4 222.7h0.8M327.5 216.6h0.8M345.0 213.5h0.8M354.1 210.7h0.8M336.3 213.6h0.8M345.5 219.9h0.8M343.7 219.2h0.8M339.0 213.1h0.8M343.9 209.5h0.8M344.2 214.1h0.8M347.1 211.1h0.8M340.0 213.3h0.8M341.0 211.2h0.8M341.6 209.5h0.8M346.2 219.3h0.8M343.0 215.1h0.8M337.9 211.4h0.8M341.8 211.6h0.8M336.2 216.8h0.8M343.0 214.1h0.8M338.4 215.8h0.8M339.1 213.9h0.8M344.2 219.5h0.8M347.5 213.1h0.8M350.1 210.4h0.8M342.1 222.3h0.8M356.9 216.6h0.8M341.0 214.2h0.8M336.0 215.3h0.8M340.6 212.4h0.8M350.1 212.3h0.8M353.0 220.1h0.8M346.8 213.2h0.8M340.1 206.4h0.8M344.7 214.7h0.8M345.4 212.8h0.8M345.9 208.8h0.8M330.4 218.3h0.8M349.3 200.8h0.8M350.6 214.3h0.8M342.2 208.6h0.8M337.3 219.4h0.8M338.8 215.8h0.8M342.2 225.6h0.8M348.3 209.6h0.8M340.3 210.5h0.8M335.0 212.7h0.8M349.5 216.2h0.8M347.0 215.4h0.8M340.6 216.4h0.8M342.6 225.3h0.8M353.5 217.8h0.8M346.6 206.4h0.8M342.4 227.6h0.8M338.5 219.9h0.8M350.2 214.1h0.8M341.8 213.8h0.8M347.7 216.1h0.8M351.8 221.7h0.8M343.0 228.6h0.8M341.3 213.1h0.8" stroke="#7d9de3" stroke-width="0.8" opacity="0.75" fill="none" filter="url(#b0)"/>
<path d="M368.9 209.9h0.8M368.0 214.6h0.8M374.4 205.8h0.8M363.3 210.5h0.8M368.6 217.6h0.8M366.3 223.8h0.8M367.5 213.8h0.8M370.3 221.8h0.8M371.5 215.2h0.8M367.5 216.0h0.8M372.0 213.0h0.8M370.0 204.3h0.8M367.5 221.9h0.8M376.9 214.6h0.8M359.6 225.7h0.8M369.2 229.9h0.8M368.1 220.8h0.8M367.1 223.0h0.8M375.6 208.8h0.8M376.3 231.6h0.8M369.0 208.0h0.8M371.4 212.7h0.8M362.8 208.9h0.8M371.2 206.2h0.8M375.3 217.6h0.8M369.2 223.2h0.8M365.6 219.0h0.8M363.5 213.1h0.8M373.1 211.9h0.8M369.5 218.8h0.8M377.4 222.6h0.8M372.3 213.5h0.8M363.1 225.0h0.8M379.1 202.5h0.8M374.2 214.8h0.8M373.5 216.8h0.8M369.1 215.0h0.8M369.9 221.8h0.8M368.8 211.8h0.8M373.2 218.8h0.8" stroke="#8fa9e6" stroke-width="0.8" opacity="0.5" fill="none" filter="url(#b0)"/>
<g filter="url(#b1)" opacity="1.0" transform="rotate(-8 346.7 199.8)"><ellipse cx="350.7" cy="199.8" rx="14.5" ry="7.2" fill="#aabdec"/><ellipse cx="350.22" cy="199.8" rx="12.76" ry="6.34" fill="#7396dc"/><ellipse cx="349.74" cy="199.8" rx="11.02" ry="5.47" fill="#4682d0"/><ellipse cx="349.18" cy="199.8" rx="8.99" ry="4.46" fill="#3aaecb"/><ellipse cx="348.7" cy="199.8" rx="7.25" ry="3.6" fill="#56c46c"/><ellipse cx="348.22" cy="199.8" rx="5.51" ry="2.74" fill="#b6d83e"/><ellipse cx="347.82" cy="199.8" rx="4.06" ry="2.02" fill="#f0d426"/><ellipse cx="347.38" cy="199.8" rx="2.47" ry="1.22" fill="#f08e24"/><ellipse cx="347.0" cy="199.8" rx="1.09" ry="0.54" fill="#e4401c"/></g>
<rect x="318.5" y="163.5" width="73.0" height="73.0" fill="none" stroke="#161616" stroke-width="1.3"/>
<rect x="333.5" y="173.5" width="50.0" height="34.0" fill="none" stroke="#161616" stroke-width="1.0"/>
<rect x="333.5" y="209.5" width="25.0" height="19.0" fill="none" stroke="#161616" stroke-width="1.0"/>
<rect x="362.5" y="209.5" width="21.0" height="19.0" fill="none" stroke="#161616" stroke-width="1.0"/>
<text x="358.5" y="171.3" font-size="6.8" font-weight="bold" text-anchor="middle" fill="#161616" stroke="#161616" stroke-width="0.28">S</text>
<text x="381.3" y="180.79999999999998" font-size="8.3" font-weight="normal" text-anchor="end" fill="#3a3a3a" stroke="#3a3a3a" stroke-width="0.2">88</text>
<text x="331.59999999999997" y="213.5" font-size="8.3" font-weight="normal" text-anchor="end" fill="#3a3a3a" stroke="#3a3a3a" stroke-width="0.2">10</text>
<text x="384.9" y="213.1" font-size="8.3" font-weight="normal" text-anchor="start" fill="#3a3a3a" stroke="#3a3a3a" stroke-width="0.2">1</text>
<text x="326.3" y="222" font-size="7.2" font-weight="bold" text-anchor="middle" fill="#161616" stroke="#161616" stroke-width="0.28">G<tspan dy="1.6" font-size="4.5">1</tspan></text>
<text x="373" y="233.6" font-size="5.3" font-weight="bold" text-anchor="middle" fill="#161616" stroke="#161616" stroke-width="0.28">G<tspan dy="1" font-size="3.4">2</tspan><tspan dy="-1">–M</tspan></text>
<text x="307.8" y="172.8" font-size="6.5" font-weight="bold" text-anchor="start" fill="#161616" stroke="#161616" stroke-width="0.28">10<tspan dy="-2.47" font-size="3.58">5</tspan></text>
<text x="307.8" y="234.2" font-size="6.5" font-weight="bold" text-anchor="start" fill="#161616" stroke="#161616" stroke-width="0.28">10<tspan dy="-2.47" font-size="3.58">1</tspan></text>
<text x="320" y="245.5" font-size="6.9" font-weight="bold" text-anchor="middle" fill="#161616" stroke="#161616" stroke-width="0.28">0</text>
<text x="382" y="245.5" font-size="6.9" font-weight="bold" text-anchor="middle" fill="#161616" stroke="#161616" stroke-width="0.28">250</text>
<ellipse cx="441" cy="197" rx="15" ry="7" fill="#9fb6ea" opacity="0.5" filter="url(#b3)" transform="rotate(0 441 197)"/>
<ellipse cx="433" cy="218" rx="10" ry="7" fill="#9fb6ea" opacity="0.5" filter="url(#b3)" transform="rotate(0 433 218)"/>
<ellipse cx="455" cy="216" rx="4" ry="6" fill="#9fb6ea" opacity="0.3" filter="url(#b3)" transform="rotate(0 455 216)"/>
<path d="M448.8 199.2h0.8M466.8 205.6h0.8M444.9 195.4h0.8M452.7 182.5h0.8M432.1 191.5h0.8M444.2 194.0h0.8M448.2 214.4h0.8M441.1 194.5h0.8M462.6 203.4h0.8M457.3 206.4h0.8M434.9 191.9h0.8M428.7 197.8h0.8M458.6 188.9h0.8M431.9 186.6h0.8M475.9 203.2h0.8M445.0 187.6h0.8M423.3 192.0h0.8M441.8 187.2h0.8M437.2 206.5h0.8M441.4 197.8h0.8M438.6 191.6h0.8M417.1 196.5h0.8M423.4 192.8h0.8M413.5 196.3h0.8M457.0 190.5h0.8M446.8 185.2h0.8M451.2 201.2h0.8M434.4 203.9h0.8M425.9 197.4h0.8M470.4 196.8h0.8M421.7 206.0h0.8M450.5 194.9h0.8M409.6 182.4h0.8M414.8 208.5h0.8M446.2 190.4h0.8M461.2 208.4h0.8M426.5 200.8h0.8M412.6 199.9h0.8M472.7 186.0h0.8M442.2 192.1h0.8M439.6 197.7h0.8M446.0 203.9h0.8M450.1 205.1h0.8M458.8 205.6h0.8M429.5 200.2h0.8M434.7 190.5h0.8M475.1 199.3h0.8M442.0 180.6h0.8M437.2 203.0h0.8M437.6 192.8h0.8M466.7 194.6h0.8M435.4 196.2h0.8M437.1 205.2h0.8M451.0 196.5h0.8M434.9 195.2h0.8M470.4 194.6h0.8M452.5 184.7h0.8M446.7 202.4h0.8M463.2 199.5h0.8M451.2 199.5h0.8M459.6 212.9h0.8M444.6 190.7h0.8M451.5 196.1h0.8M452.2 203.0h0.8M443.8 193.6h0.8M446.5 187.3h0.8M445.9 190.1h0.8M449.0 198.0h0.8M437.4 187.6h0.8M442.0 191.7h0.8M438.7 202.4h0.8M457.6 187.0h0.8M457.3 207.6h0.8" stroke="#a9bdee" stroke-width="0.8" opacity="0.75" fill="none" filter="url(#b0)"/>
<path d="M453.9 198.4h0.8M440.1 205.9h0.8M437.5 189.2h0.8M442.1 198.5h0.8M429.3 190.8h0.8M463.6 197.6h0.8M450.0 194.0h0.8M423.9 196.1h0.8M456.4 193.6h0.8M420.8 196.1h0.8M437.9 197.1h0.8M429.3 195.4h0.8M434.9 201.5h0.8M442.8 201.5h0.8M440.5 186.1h0.8M418.9 199.7h0.8M451.1 201.5h0.8M440.3 187.9h0.8M435.5 199.1h0.8M456.8 195.2h0.8M434.7 193.0h0.8M452.7 201.5h0.8M420.4 203.2h0.8M430.7 189.5h0.8M423.0 193.3h0.8M467.5 210.1h0.8M427.0 193.6h0.8M442.9 199.1h0.8M435.7 188.9h0.8M436.4 193.5h0.8M420.8 197.7h0.8M424.5 188.1h0.8M458.4 201.8h0.8M457.6 197.6h0.8M436.4 196.6h0.8M425.6 200.8h0.8M444.2 195.4h0.8M419.9 196.4h0.8M459.6 204.4h0.8M451.1 195.2h0.8M442.7 199.8h0.8M443.4 202.4h0.8M433.6 185.1h0.8M413.6 192.3h0.8M425.4 200.4h0.8M453.4 197.0h0.8M447.3 197.4h0.8M443.1 194.6h0.8M436.5 203.1h0.8M438.1 196.8h0.8M454.7 202.0h0.8M436.7 198.3h0.8M429.6 197.7h0.8M444.7 197.0h0.8M443.0 198.9h0.8M412.4 192.8h0.8M442.0 194.5h0.8M430.2 195.8h0.8M459.4 195.8h0.8M433.7 194.5h0.8M427.6 199.5h0.8M429.9 201.7h0.8M451.5 199.9h0.8M452.9 196.6h0.8M421.1 196.7h0.8M448.4 189.1h0.8M427.2 202.6h0.8M446.1 203.9h0.8M448.7 197.3h0.8M446.0 201.4h0.8M440.8 195.9h0.8M444.7 195.4h0.8M468.6 193.1h0.8M423.9 190.4h0.8M453.1 194.9h0.8M443.0 195.9h0.8M444.3 189.6h0.8M442.1 194.1h0.8M453.5 200.2h0.8M426.8 192.0h0.8M447.6 203.1h0.8M449.9 196.2h0.8M453.8 184.9h0.8M435.0 192.0h0.8M429.4 199.9h0.8M444.3 198.5h0.8M439.6 200.2h0.8M450.1 194.1h0.8M451.8 192.2h0.8M461.3 190.3h0.8M437.9 191.4h0.8M441.6 203.8h0.8M432.6 206.1h0.8M457.3 199.0h0.8M434.4 201.6h0.8M408.4 193.1h0.8M452.2 196.8h0.8M469.6 193.5h0.8M425.9 195.9h0.8M447.8 205.8h0.8M421.0 197.8h0.8M455.6 193.5h0.8M435.9 190.8h0.8M449.9 201.3h0.8M447.9 198.3h0.8M452.5 196.4h0.8M449.4 201.2h0.8M456.1 199.6h0.8M442.1 200.6h0.8M423.4 187.9h0.8M459.7 197.7h0.8M429.1 194.0h0.8M439.4 197.4h0.8M432.4 202.1h0.8M421.6 211.4h0.8M428.7 205.6h0.8M448.8 188.3h0.8M427.0 197.3h0.8M444.3 194.8h0.8M441.3 197.8h0.8M428.0 197.3h0.8M467.4 193.7h0.8M429.5 200.4h0.8M456.7 202.4h0.8M433.9 196.6h0.8M443.5 195.9h0.8M445.8 202.6h0.8M447.5 196.9h0.8M438.8 206.2h0.8M426.9 207.3h0.8M449.7 197.5h0.8M432.5 206.5h0.8M455.2 201.7h0.8M465.3 187.7h0.8M442.3 195.4h0.8" stroke="#7d9de3" stroke-width="0.8" opacity="0.8" fill="none" filter="url(#b0)"/>
<path d="M435.0 197.3h0.8M445.6 199.0h0.8M440.0 192.1h0.8M445.8 199.3h0.8M458.9 200.5h0.8M441.3 192.7h0.8M463.9 194.5h0.8M442.8 199.8h0.8M445.3 202.0h0.8M432.5 194.4h0.8M442.6 192.4h0.8M436.0 202.2h0.8M443.6 196.6h0.8M436.3 197.2h0.8M440.8 193.0h0.8M447.7 192.2h0.8M451.9 195.7h0.8M421.9 191.2h0.8M443.5 193.8h0.8M456.4 202.2h0.8M458.8 200.3h0.8M452.5 194.7h0.8M452.1 195.4h0.8M440.7 191.9h0.8M441.6 198.5h0.8M440.6 192.9h0.8M448.8 200.4h0.8M440.4 199.9h0.8M449.5 193.3h0.8M440.8 190.0h0.8M432.4 198.6h0.8M433.7 198.5h0.8M444.2 189.3h0.8M437.0 202.7h0.8M441.2 197.5h0.8M435.1 191.0h0.8M427.6 207.8h0.8M439.5 193.7h0.8M442.1 189.7h0.8M453.0 203.4h0.8M434.7 198.2h0.8M433.5 200.2h0.8M434.0 196.5h0.8M452.2 199.0h0.8M438.3 191.3h0.8M427.6 201.5h0.8M445.5 197.2h0.8M451.8 197.6h0.8M434.9 196.6h0.8M440.3 196.9h0.8M462.3 199.2h0.8M443.4 196.1h0.8M435.3 193.3h0.8M425.1 195.3h0.8M428.2 190.0h0.8M433.1 189.4h0.8M452.8 201.7h0.8M432.8 204.7h0.8M446.7 187.5h0.8M441.3 193.2h0.8M426.2 196.0h0.8M450.9 198.7h0.8M428.6 194.5h0.8M434.6 201.3h0.8M440.3 193.3h0.8M433.3 189.6h0.8M433.9 200.4h0.8M424.8 197.7h0.8M440.1 200.1h0.8M431.3 200.4h0.8M454.4 205.6h0.8M427.2 196.9h0.8M439.3 197.5h0.8M432.6 200.2h0.8M461.2 202.7h0.8M432.9 194.8h0.8M447.3 197.5h0.8M434.5 201.7h0.8M445.5 200.9h0.8M439.6 201.8h0.8M437.1 192.8h0.8M441.0 191.7h0.8M451.8 199.8h0.8M426.6 197.6h0.8M448.3 195.6h0.8M444.6 194.8h0.8M440.5 196.7h0.8M445.2 193.3h0.8M431.4 198.2h0.8M436.7 199.0h0.8M436.7 192.0h0.8M447.4 198.0h0.8M447.3 195.7h0.8M438.0 201.8h0.8M426.5 203.6h0.8M445.5 196.8h0.8M441.8 199.3h0.8M434.4 198.1h0.8M432.9 190.0h0.8M442.8 197.4h0.8M446.6 199.1h0.8M447.1 200.0h0.8M432.0 201.6h0.8M464.1 194.9h0.8M430.2 199.6h0.8M448.9 200.8h0.8M454.2 191.7h0.8M444.3 198.8h0.8M451.8 193.6h0.8M441.2 195.6h0.8M439.6 196.4h0.8M439.7 190.3h0.8M440.7 197.3h0.8M437.7 183.5h0.8M435.1 194.5h0.8M433.6 203.1h0.8M449.0 196.3h0.8M446.2 209.5h0.8M432.7 198.8h0.8M435.9 202.6h0.8" stroke="#4f82d6" stroke-width="0.8" opacity="0.8" fill="none" filter="url(#b0)"/>
<path d="M440.3 217.4h0.8M437.0 214.0h0.8M422.7 222.2h0.8M443.7 216.5h0.8M429.6 209.0h0.8M447.1 212.0h0.8M426.7 217.0h0.8M440.9 218.3h0.8M432.9 218.1h0.8M438.6 217.8h0.8M434.1 217.6h0.8M425.8 224.7h0.8M428.5 211.4h0.8M430.2 218.2h0.8M438.4 210.6h0.8M424.7 218.9h0.8M435.5 212.5h0.8M425.6 218.9h0.8M432.1 209.9h0.8M427.3 225.5h0.8M426.1 223.3h0.8M423.0 225.5h0.8M443.5 214.8h0.8M428.6 221.2h0.8M424.9 220.8h0.8M441.0 219.3h0.8M435.1 217.2h0.8M439.6 213.9h0.8M443.4 217.9h0.8M430.9 209.8h0.8M430.1 219.2h0.8M441.1 209.9h0.8M432.2 214.6h0.8M425.2 218.0h0.8M428.0 222.4h0.8M415.4 221.7h0.8M420.6 208.2h0.8M436.4 216.3h0.8M433.8 213.1h0.8M426.2 214.3h0.8M432.6 213.8h0.8M430.3 213.7h0.8M434.5 212.3h0.8M419.4 204.8h0.8M432.9 218.5h0.8M439.3 214.3h0.8M425.6 210.5h0.8M438.0 214.9h0.8M439.4 217.6h0.8M431.2 208.7h0.8M428.6 222.0h0.8M429.0 221.4h0.8M422.3 223.1h0.8M451.2 223.6h0.8M435.1 211.8h0.8M429.6 214.7h0.8M434.2 207.9h0.8M427.4 222.0h0.8M434.0 221.7h0.8M438.6 212.3h0.8M424.2 220.3h0.8M433.2 218.4h0.8M427.7 223.1h0.8M436.2 223.7h0.8M430.7 221.5h0.8M432.6 213.3h0.8M432.5 209.7h0.8M431.8 218.9h0.8M437.5 212.7h0.8M424.3 214.3h0.8M419.5 214.7h0.8M450.1 218.7h0.8M428.0 214.6h0.8M444.5 212.2h0.8M432.3 217.6h0.8M428.2 214.4h0.8M422.1 213.8h0.8M441.5 225.1h0.8M431.2 221.5h0.8M436.0 218.6h0.8M432.1 224.1h0.8M436.7 216.9h0.8M431.5 222.7h0.8M429.1 214.4h0.8M431.2 215.5h0.8M441.2 219.8h0.8M432.4 215.4h0.8M442.2 220.2h0.8M446.6 222.6h0.8M431.6 215.2h0.8M431.1 218.9h0.8M438.2 220.4h0.8M443.2 210.4h0.8M433.2 210.9h0.8M426.3 215.0h0.8M428.8 213.1h0.8M423.1 223.7h0.8M430.9 222.8h0.8M425.8 206.4h0.8M429.1 222.4h0.8M429.4 220.0h0.8M426.0 225.0h0.8M435.8 223.3h0.8M431.2 224.4h0.8M433.5 215.5h0.8M428.8 218.3h0.8M427.1 212.0h0.8M433.8 221.6h0.8M431.1 222.2h0.8M443.3 211.6h0.8M434.7 213.2h0.8M428.8 218.9h0.8M417.5 221.0h0.8M438.5 220.7h0.8M437.2 227.1h0.8M430.6 223.5h0.8M442.4 220.5h0.8M421.4 217.2h0.8M431.1 209.9h0.8M432.6 221.8h0.8M431.3 217.1h0.8M442.6 214.9h0.8M426.8 218.2h0.8M440.3 221.0h0.8M433.5 215.5h0.8M441.0 222.4h0.8M421.7 219.7h0.8M417.3 225.5h0.8M437.0 214.8h0.8M424.6 216.5h0.8M421.6 220.8h0.8M429.7 209.1h0.8M432.9 223.9h0.8M424.7 216.2h0.8M444.8 218.9h0.8M429.4 218.9h0.8M438.1 213.0h0.8M432.4 209.8h0.8M422.7 210.3h0.8M438.5 219.5h0.8M437.8 224.1h0.8M433.3 219.2h0.8M435.6 220.3h0.8M426.1 216.6h0.8M432.0 218.2h0.8M428.1 217.3h0.8M434.9 218.9h0.8M436.8 222.1h0.8M436.6 222.8h0.8M438.5 225.0h0.8M437.1 214.9h0.8M448.2 223.6h0.8M441.1 221.7h0.8M433.3 212.3h0.8M435.8 216.2h0.8M430.4 207.3h0.8M443.1 212.1h0.8M425.8 220.3h0.8M436.7 214.0h0.8M432.9 219.3h0.8M434.0 220.6h0.8M438.0 216.2h0.8M422.4 228.8h0.8M430.5 213.0h0.8M437.9 220.9h0.8M429.0 229.8h0.8M417.7 224.4h0.8M432.7 219.5h0.8M435.1 216.8h0.8M435.1 211.5h0.8M430.4 227.3h0.8M416.2 224.2h0.8M418.4 213.7h0.8M438.7 215.9h0.8M429.2 210.5h0.8M432.2 217.1h0.8M428.8 210.2h0.8M434.0 220.1h0.8M440.4 220.6h0.8M442.9 224.0h0.8M414.6 226.3h0.8M432.3 212.7h0.8M435.8 222.8h0.8M422.9 211.8h0.8M437.5 215.2h0.8M442.5 219.1h0.8M429.4 211.3h0.8M436.9 209.4h0.8M424.5 211.4h0.8M444.1 226.5h0.8M431.5 216.1h0.8M437.6 224.2h0.8M427.7 229.0h0.8M431.6 223.7h0.8M417.6 217.7h0.8M428.4 228.0h0.8M431.6 211.6h0.8M445.7 214.6h0.8M433.0 211.7h0.8M437.4 219.0h0.8M431.1 216.0h0.8M429.3 214.4h0.8M423.8 224.0h0.8M438.8 211.0h0.8M425.4 220.0h0.8M447.8 217.0h0.8M430.9 216.7h0.8M434.6 217.1h0.8M440.1 222.9h0.8M436.6 225.9h0.8M431.5 215.2h0.8M452.4 208.3h0.8M422.8 206.2h0.8M435.3 212.6h0.8M439.9 207.5h0.8M432.1 216.0h0.8M425.9 223.6h0.8M430.4 220.3h0.8M429.6 218.7h0.8M430.1 218.4h0.8M432.3 214.6h0.8M435.8 217.1h0.8M426.7 212.7h0.8M435.9 224.7h0.8M424.4 215.9h0.8M435.9 223.2h0.8M437.6 212.1h0.8M433.2 222.5h0.8M434.6 216.9h0.8M425.3 218.8h0.8M432.6 218.2h0.8M442.8 224.0h0.8M427.8 219.2h0.8M431.0 218.5h0.8M443.7 222.6h0.8M433.3 214.7h0.8M431.9 219.8h0.8M429.7 223.5h0.8M433.1 212.1h0.8M446.3 203.4h0.8M431.2 217.4h0.8M439.5 223.6h0.8M442.5 225.8h0.8M435.1 218.6h0.8M439.6 217.9h0.8M424.8 215.7h0.8M437.3 221.1h0.8M425.8 224.0h0.8M435.0 210.5h0.8M436.0 223.0h0.8M436.5 216.4h0.8M427.8 223.6h0.8M434.5 218.0h0.8M430.4 212.8h0.8M420.8 216.3h0.8M440.2 221.8h0.8M428.5 225.7h0.8M431.5 212.9h0.8M439.4 224.9h0.8M430.5 211.9h0.8" stroke="#7d9de3" stroke-width="0.8" opacity="0.75" fill="none" filter="url(#b0)"/>
<path d="M455.7 201.4h0.8M456.2 225.2h0.8M457.1 211.6h0.8M458.8 213.0h0.8M461.1 213.8h0.8M464.2 213.9h0.8M456.8 210.3h0.8M450.9 218.1h0.8M457.4 210.1h0.8M458.3 213.5h0.8M453.8 215.6h0.8M457.6 220.4h0.8M461.0 218.3h0.8M453.1 211.9h0.8M457.5 208.8h0.8M455.3 213.7h0.8M455.6 217.1h0.8M460.2 225.9h0.8M459.5 222.1h0.8M451.7 222.2h0.8M461.2 207.8h0.8M466.1 212.6h0.8M446.4 226.6h0.8M456.3 211.2h0.8M453.7 222.4h0.8M457.0 213.7h0.8M460.6 210.4h0.8M452.6 212.6h0.8M453.0 220.1h0.8M455.1 209.7h0.8M454.2 204.1h0.8M456.7 216.6h0.8M458.4 214.6h0.8M457.6 210.4h0.8M456.1 216.9h0.8M451.1 219.5h0.8M456.6 216.3h0.8M454.1 228.0h0.8M456.0 211.4h0.8M452.6 219.6h0.8M455.2 211.3h0.8M453.1 221.6h0.8M456.3 222.3h0.8M455.9 208.9h0.8M459.5 217.9h0.8M453.4 214.1h0.8M452.1 221.0h0.8M454.3 218.9h0.8M457.0 214.4h0.8M457.5 214.5h0.8M451.3 213.5h0.8M451.3 220.5h0.8M458.6 212.5h0.8M458.5 217.5h0.8M459.9 210.4h0.8M456.1 210.0h0.8M453.3 224.2h0.8M447.9 210.5h0.8M458.0 220.7h0.8M452.9 203.8h0.8M449.1 218.2h0.8M460.4 221.4h0.8M453.1 224.1h0.8M455.2 219.7h0.8M455.2 225.6h0.8M453.9 203.1h0.8M454.7 217.1h0.8M457.1 211.7h0.8M455.1 209.2h0.8M455.1 216.5h0.8M457.0 225.9h0.8M448.0 219.1h0.8M457.7 209.1h0.8M456.3 216.0h0.8M452.0 220.3h0.8M463.6 220.0h0.8M459.1 222.4h0.8M455.5 221.8h0.8M452.8 217.1h0.8M458.8 223.8h0.8M454.8 214.2h0.8M457.9 215.5h0.8M456.5 220.8h0.8M452.9 221.2h0.8M457.5 214.4h0.8M451.0 212.2h0.8M455.8 221.6h0.8M448.1 220.3h0.8M456.8 209.2h0.8M459.4 218.4h0.8" stroke="#8fa9e6" stroke-width="0.8" opacity="0.6" fill="none" filter="url(#b0)"/>
<g filter="url(#b1)" opacity="1.0" transform="rotate(0 440 195.8)"><ellipse cx="441.0" cy="197.3" rx="15.5" ry="7.8" fill="#aabdec"/><ellipse cx="440.88" cy="197.12" rx="13.64" ry="6.86" fill="#7396dc"/><ellipse cx="440.76" cy="196.94" rx="11.78" ry="5.93" fill="#4682d0"/><ellipse cx="440.62" cy="196.73" rx="9.61" ry="4.84" fill="#3aaecb"/><ellipse cx="440.5" cy="196.55" rx="7.75" ry="3.9" fill="#56c46c"/><ellipse cx="440.38" cy="196.37" rx="5.89" ry="2.96" fill="#b6d83e"/><ellipse cx="440.28" cy="196.22" rx="4.34" ry="2.18" fill="#f0d426"/><ellipse cx="440.17" cy="196.06" rx="2.64" ry="1.33" fill="#f08e24"/><ellipse cx="440.07" cy="195.91" rx="1.16" ry="0.58" fill="#e4401c"/></g>
<rect x="406.5" y="163.5" width="73.0" height="73.0" fill="none" stroke="#161616" stroke-width="1.3"/>
<rect x="421.5" y="173.5" width="50.0" height="34.0" fill="none" stroke="#161616" stroke-width="1.0"/>
<rect x="421.5" y="209.5" width="25.0" height="19.0" fill="none" stroke="#161616" stroke-width="1.0"/>
<rect x="450.5" y="209.5" width="21.0" height="19.0" fill="none" stroke="#161616" stroke-width="1.0"/>
<text x="447" y="171.3" font-size="6.8" font-weight="bold" text-anchor="middle" fill="#161616" stroke="#161616" stroke-width="0.28">S</text>
<text x="469.6" y="180.79999999999998" font-size="8.3" font-weight="normal" text-anchor="end" fill="#3a3a3a" stroke="#3a3a3a" stroke-width="0.2">86</text>
<text x="419.59999999999997" y="213.5" font-size="8.3" font-weight="normal" text-anchor="end" fill="#3a3a3a" stroke="#3a3a3a" stroke-width="0.2">8</text>
<text x="473.2" y="213.1" font-size="8.3" font-weight="normal" text-anchor="start" fill="#3a3a3a" stroke="#3a3a3a" stroke-width="0.2">4</text>
<text x="414.5" y="222" font-size="7.2" font-weight="bold" text-anchor="middle" fill="#161616" stroke="#161616" stroke-width="0.28">G<tspan dy="1.6" font-size="4.5">1</tspan></text>
<text x="461.5" y="233.6" font-size="5.3" font-weight="bold" text-anchor="middle" fill="#161616" stroke="#161616" stroke-width="0.28">G<tspan dy="1" font-size="3.4">2</tspan><tspan dy="-1">–M</tspan></text>
<text x="396.3" y="172.8" font-size="6.5" font-weight="bold" text-anchor="start" fill="#161616" stroke="#161616" stroke-width="0.28">10<tspan dy="-2.47" font-size="3.58">5</tspan></text>
<text x="396.3" y="234.2" font-size="6.5" font-weight="bold" text-anchor="start" fill="#161616" stroke="#161616" stroke-width="0.28">10<tspan dy="-2.47" font-size="3.58">1</tspan></text>
<text x="408" y="245.5" font-size="6.9" font-weight="bold" text-anchor="middle" fill="#161616" stroke="#161616" stroke-width="0.28">0</text>
<text x="470" y="245.5" font-size="6.9" font-weight="bold" text-anchor="middle" fill="#161616" stroke="#161616" stroke-width="0.28">250</text>
<rect x="48.25" y="289.25" width="10.6" height="80.75" fill="#111" stroke="none" stroke-width="0"/>
<line x1="49.55" y1="283.16" x2="57.55" y2="283.16" stroke="#161616" stroke-width="1.3"/>
<line x1="53.55" y1="283.16" x2="53.55" y2="289.25" stroke="#161616" stroke-width="1.3"/>
<rect x="123.75" y="289.25" width="10.6" height="80.75" fill="#111" stroke="none" stroke-width="0"/>
<line x1="125.05" y1="281.53" x2="133.05" y2="281.53" stroke="#161616" stroke-width="1.3"/>
<line x1="129.05" y1="281.53" x2="129.05" y2="289.25" stroke="#161616" stroke-width="1.3"/>
<rect x="64.25" y="358.31" width="10.6" height="11.69" fill="#b4b4b4" stroke="none" stroke-width="0"/>
<line x1="65.55" y1="356.28" x2="73.55" y2="356.28" stroke="#161616" stroke-width="1.3"/>
<line x1="69.55" y1="356.28" x2="69.55" y2="358.31" stroke="#161616" stroke-width="1.3"/>
<text x="69.55" y="353.08125" font-size="7.3" font-weight="bold" text-anchor="middle" fill="#161616" stroke="#161616" stroke-width="0.28">****</text>
<rect x="140" y="368.06" width="10.6" height="1.94" fill="#b4b4b4" stroke="none" stroke-width="0"/>
<line x1="141.3" y1="367.25" x2="149.3" y2="367.25" stroke="#161616" stroke-width="1.3"/>
<line x1="145.3" y1="367.25" x2="145.3" y2="368.06" stroke="#161616" stroke-width="1.3"/>
<text x="145.3" y="365.35" font-size="7.3" font-weight="bold" text-anchor="middle" fill="#161616" stroke="#161616" stroke-width="0.28">****</text>
<rect x="80.5" y="362.78" width="10.6" height="7.22" fill="#989898" stroke="none" stroke-width="0"/>
<line x1="81.8" y1="361.97" x2="89.8" y2="361.97" stroke="#161616" stroke-width="1.3"/>
<line x1="85.8" y1="361.97" x2="85.8" y2="362.78" stroke="#161616" stroke-width="1.3"/>
<text x="85.8" y="358.76875" font-size="7.3" font-weight="bold" text-anchor="middle" fill="#161616" stroke="#161616" stroke-width="0.28">****</text>
<rect x="156.25" y="367.25" width="10.6" height="2.75" fill="#989898" stroke="none" stroke-width="0"/>
<line x1="157.55" y1="366.44" x2="165.55" y2="366.44" stroke="#161616" stroke-width="1.3"/>
<line x1="161.55" y1="366.44" x2="161.55" y2="367.25" stroke="#161616" stroke-width="1.3"/>
<text x="161.55" y="364.5375" font-size="7.3" font-weight="bold" text-anchor="middle" fill="#161616" stroke="#161616" stroke-width="0.28">****</text>
<rect x="96.75" y="353.44" width="10.6" height="16.56" fill="#dcdcdc" stroke="none" stroke-width="0"/>
<line x1="98.05" y1="348.97" x2="106.05" y2="348.97" stroke="#161616" stroke-width="1.3"/>
<line x1="102.05" y1="348.97" x2="102.05" y2="353.44" stroke="#161616" stroke-width="1.3"/>
<text x="102.05" y="345.76875" font-size="7.3" font-weight="bold" text-anchor="middle" fill="#161616" stroke="#161616" stroke-width="0.28">****</text>
<rect x="172.5" y="364.41" width="10.6" height="5.59" fill="#dcdcdc" stroke="none" stroke-width="0"/>
<line x1="173.8" y1="362.38" x2="181.8" y2="362.38" stroke="#161616" stroke-width="1.3"/>
<line x1="177.8" y1="362.38" x2="177.8" y2="364.41" stroke="#161616" stroke-width="1.3"/>
<text x="177.8" y="359.775" font-size="7.3" font-weight="bold" text-anchor="middle" fill="#161616" stroke="#161616" stroke-width="0.28">****</text>
<line x1="42" y1="273" x2="42" y2="371.2" stroke="#161616" stroke-width="1.5"/>
<line x1="38.5" y1="370.5" x2="189" y2="370.5" stroke="#161616" stroke-width="1.5"/>
<line x1="38.8" y1="289.25" x2="42" y2="289.25" stroke="#161616" stroke-width="1.3"/>
<text x="38.2" y="291.85" font-size="7.2" font-weight="bold" text-anchor="end" fill="#161616" stroke="#161616" stroke-width="0.28">100</text>
<line x1="38.8" y1="329.88" x2="42" y2="329.88" stroke="#161616" stroke-width="1.3"/>
<text x="38.2" y="332.475" font-size="7.2" font-weight="bold" text-anchor="end" fill="#161616" stroke="#161616" stroke-width="0.28">50</text>
<line x1="38.8" y1="370.5" x2="42" y2="370.5" stroke="#161616" stroke-width="1.3"/>
<text x="38.2" y="373.1" font-size="7.2" font-weight="bold" text-anchor="end" fill="#161616" stroke="#161616" stroke-width="0.28">0</text>
<line x1="77.5" y1="370.5" x2="77.5" y2="374" stroke="#161616" stroke-width="1.3"/>
<line x1="153" y1="370.5" x2="153" y2="374" stroke="#161616" stroke-width="1.3"/>
<text x="19.4" y="322" font-size="7.9" font-weight="bold" text-anchor="middle" fill="#161616" stroke="#161616" stroke-width="0.28" transform="rotate(-90 19.4 322)">Relative growth</text>
<text x="77.5" y="380.5" font-size="7" font-weight="bold" text-anchor="middle" fill="#161616" stroke="#161616" stroke-width="0.28">EW8</text>
<text x="152.5" y="380.5" font-size="7" font-weight="bold" text-anchor="middle" fill="#161616" stroke="#161616" stroke-width="0.28">TC71</text>
<rect x="166.3" y="282.1" width="10.6" height="5.1" fill="#111" stroke="none" stroke-width="0"/>
<text x="183.3" y="287.2" font-size="8.0" font-weight="bold" text-anchor="start" fill="#161616" stroke="#161616" stroke-width="0.28">DMSO</text>
<rect x="166.3" y="296.1" width="10.6" height="5.1" fill="#b4b4b4" stroke="none" stroke-width="0"/>
<text x="183.3" y="301.2" font-size="8.0" font-weight="bold" text-anchor="start" fill="#161616" stroke="#161616" stroke-width="0.28">LY2603618</text>
<rect x="166.3" y="309.6" width="10.6" height="5.1" fill="#989898" stroke="none" stroke-width="0"/>
<text x="183.3" y="314.7" font-size="8.0" font-weight="bold" text-anchor="start" fill="#161616" stroke="#161616" stroke-width="0.28">GDC-0575</text>
<rect x="166.3" y="323.4" width="10.6" height="5.1" fill="#dcdcdc" stroke="none" stroke-width="0"/>
<text x="183.3" y="328.5" font-size="8.0" font-weight="bold" text-anchor="start" fill="#161616" stroke="#161616" stroke-width="0.28">AZD6738</text>
<text x="373.5" y="280.2" font-size="9.5" font-weight="bold" text-anchor="middle" fill="#161616" stroke="#161616" stroke-width="0.2">DMSO</text>
<line x1="341.3" y1="283.8" x2="397.5" y2="283.8" stroke="#2c2c2c" stroke-width="1.35"/>
<text x="409.8" y="280.2" font-size="9.5" font-weight="bold" text-anchor="middle" fill="#161616" stroke="#161616" stroke-width="0.2">dT</text>
<line x1="403.8" y1="283.8" x2="416.3" y2="283.8" stroke="#2c2c2c" stroke-width="1.35"/>
<text x="451" y="280.2" font-size="9.95" font-weight="bold" text-anchor="middle" fill="#161616" stroke="#161616" stroke-width="0.2">dT-Release</text>
<line x1="423.8" y1="283.8" x2="479.5" y2="283.8" stroke="#2c2c2c" stroke-width="1.35"/>
<text x="336.5" y="294.1" font-size="7.9" font-weight="bold" text-anchor="end" fill="#161616" stroke="#161616" stroke-width="0.28">AZD6738</text>
<text x="346.3" y="293.3" font-size="7" font-weight="bold" text-anchor="middle" fill="#161616" stroke="#161616" stroke-width="0.28">-</text>
<text x="362.5" y="293.90000000000003" font-size="7.5" font-weight="bold" text-anchor="middle" fill="#161616" stroke="#161616" stroke-width="0.28">+</text>
<text x="378.2" y="293.3" font-size="7" font-weight="bold" text-anchor="middle" fill="#161616" stroke="#161616" stroke-width="0.28">-</text>
<text x="394.5" y="293.3" font-size="7" font-weight="bold" text-anchor="middle" fill="#161616" stroke="#161616" stroke-width="0.28">-</text>
<text x="410.5" y="293.3" font-size="7" font-weight="bold" text-anchor="middle" fill="#161616" stroke="#161616" stroke-width="0.28">-</text>
<text x="426.3" y="293.3" font-size="7" font-weight="bold" text-anchor="middle" fill="#161616" stroke="#161616" stroke-width="0.28">-</text>
<text x="442.5" y="293.90000000000003" font-size="7.5" font-weight="bold" text-anchor="middle" fill="#161616" stroke="#161616" stroke-width="0.28">+</text>
<text x="458.8" y="293.3" font-size="7" font-weight="bold" text-anchor="middle" fill="#161616" stroke="#161616" stroke-width="0.28">-</text>
<text x="474.5" y="293.3" font-size="7" font-weight="bold" text-anchor="middle" fill="#161616" stroke="#161616" stroke-width="0.28">-</text>
<text x="336.5" y="302.1" font-size="7.9" font-weight="bold" text-anchor="end" fill="#161616" stroke="#161616" stroke-width="0.28">GDC-0575</text>
<text x="346.3" y="301.3" font-size="7" font-weight="bold" text-anchor="middle" fill="#161616" stroke="#161616" stroke-width="0.28">-</text>
<text x="362.5" y="301.3" font-size="7" font-weight="bold" text-anchor="middle" fill="#161616" stroke="#161616" stroke-width="0.28">-</text>
<text x="378.2" y="301.90000000000003" font-size="7.5" font-weight="bold" text-anchor="middle" fill="#161616" stroke="#161616" stroke-width="0.28">+</text>
<text x="394.5" y="301.3" font-size="7" font-weight="bold" text-anchor="middle" fill="#161616" stroke="#161616" stroke-width="0.28">-</text>
<text x="410.5" y="301.3" font-size="7" font-weight="bold" text-anchor="middle" fill="#161616" stroke="#161616" stroke-width="0.28">-</text>
<text x="426.3" y="301.3" font-size="7" font-weight="bold" text-anchor="middle" fill="#161616" stroke="#161616" stroke-width="0.28">-</text>
<text x="442.5" y="301.3" font-size="7" font-weight="bold" text-anchor="middle" fill="#161616" stroke="#161616" stroke-width="0.28">-</text>
<text x="458.8" y="301.90000000000003" font-size="7.5" font-weight="bold" text-anchor="middle" fill="#161616" stroke="#161616" stroke-width="0.28">+</text>
<text x="474.5" y="301.3" font-size="7" font-weight="bold" text-anchor="middle" fill="#161616" stroke="#161616" stroke-width="0.28">-</text>
<text x="336.5" y="310.3" font-size="7.9" font-weight="bold" text-anchor="end" fill="#161616" stroke="#161616" stroke-width="0.28">LY2603618</text>
<text x="346.3" y="309.5" font-size="7" font-weight="bold" text-anchor="middle" fill="#161616" stroke="#161616" stroke-width="0.28">-</text>
<text x="362.5" y="309.5" font-size="7" font-weight="bold" text-anchor="middle" fill="#161616" stroke="#161616" stroke-width="0.28">-</text>
<text x="378.2" y="309.5" font-size="7" font-weight="bold" text-anchor="middle" fill="#161616" stroke="#161616" stroke-width="0.28">-</text>
<text x="394.5" y="310.1" font-size="7.5" font-weight="bold" text-anchor="middle" fill="#161616" stroke="#161616" stroke-width="0.28">+</text>
<text x="410.5" y="309.5" font-size="7" font-weight="bold" text-anchor="middle" fill="#161616" stroke="#161616" stroke-width="0.28">-</text>
<text x="426.3" y="309.5" font-size="7" font-weight="bold" text-anchor="middle" fill="#161616" stroke="#161616" stroke-width="0.28">-</text>
<text x="442.5" y="309.5" font-size="7" font-weight="bold" text-anchor="middle" fill="#161616" stroke="#161616" stroke-width="0.28">-</text>
<text x="458.8" y="309.5" font-size="7" font-weight="bold" text-anchor="middle" fill="#161616" stroke="#161616" stroke-width="0.28">-</text>
<text x="474.5" y="310.1" font-size="7.5" font-weight="bold" text-anchor="middle" fill="#161616" stroke="#161616" stroke-width="0.28">+</text>
<text x="336.5" y="320.2" font-size="7.9" font-weight="bold" text-anchor="end" fill="#161616" stroke="#161616" stroke-width="0.28">tPARP</text>
<text x="336.5" y="327.9" font-size="7.9" font-weight="bold" text-anchor="end" fill="#161616" stroke="#161616" stroke-width="0.28">cPARP</text>
<text x="336.5" y="340.6" font-size="7.9" font-weight="bold" text-anchor="end" fill="#161616" stroke="#161616" stroke-width="0.28"><tspan font-size="6.6" dy="1.3">γ</tspan><tspan dy="-1.3">H2AX</tspan></text>
<text x="336.5" y="356.6" font-size="7.9" font-weight="bold" text-anchor="end" fill="#161616" stroke="#161616" stroke-width="0.28">Tubulin</text>
<clipPath id="c1"><rect x="339.5" y="312.5" width="145.0" height="16.0"/></clipPath>
<g clip-path="url(#c1)"><rect x="339.5" y="312.5" width="145.0" height="16.0" fill="#d6d6d6"/>
<rect x="353.1" y="312.5" width="2.6" height="16.0" fill="#f2f2f2" opacity="0.7" filter="url(#bb)"/>
<rect x="369.05" y="312.5" width="2.6" height="16.0" fill="#f2f2f2" opacity="0.7" filter="url(#bb)"/>
<rect x="385.05" y="312.5" width="2.6" height="16.0" fill="#f2f2f2" opacity="0.7" filter="url(#bb)"/>
<rect x="401.2" y="312.5" width="2.6" height="16.0" fill="#f2f2f2" opacity="0.7" filter="url(#bb)"/>
<rect x="417.1" y="312.5" width="2.6" height="16.0" fill="#f2f2f2" opacity="0.7" filter="url(#bb)"/>
<rect x="433.1" y="312.5" width="2.6" height="16.0" fill="#f2f2f2" opacity="0.7" filter="url(#bb)"/>
<rect x="449.35" y="312.5" width="2.6" height="16.0" fill="#f2f2f2" opacity="0.7" filter="url(#bb)"/>
<rect x="465.35" y="312.5" width="2.6" height="16.0" fill="#f2f2f2" opacity="0.7" filter="url(#bb)"/>
<rect x="337.0" y="312.5" width="150" height="3" rx="1.5" fill="#999" opacity="0.35" filter="url(#bb2)"/>
<rect x="339.8" y="316.15" width="13" height="2.9" rx="1.45" fill="#1c1c1c" opacity="0.7" filter="url(#bb)"/>
<rect x="356.0" y="316.15" width="13" height="2.9" rx="1.45" fill="#1c1c1c" opacity="0.7" filter="url(#bb)"/>
<rect x="371.7" y="316.15" width="13" height="2.9" rx="1.45" fill="#1c1c1c" opacity="0.72" filter="url(#bb)"/>
<rect x="388.0" y="316.15" width="13" height="2.9" rx="1.45" fill="#1c1c1c" opacity="0.8" filter="url(#bb)"/>
<rect x="404.0" y="316.15" width="13" height="2.9" rx="1.45" fill="#1c1c1c" opacity="0.95" filter="url(#bb)"/>
<rect x="404.0" y="322.1" width="13" height="2.6" rx="1.3" fill="#1c1c1c" opacity="0.15" filter="url(#bb)"/>
<rect x="419.8" y="316.15" width="13" height="2.9" rx="1.45" fill="#1c1c1c" opacity="0.65" filter="url(#bb)"/>
<rect x="419.8" y="322.1" width="13" height="2.6" rx="1.3" fill="#1c1c1c" opacity="0.1" filter="url(#bb)"/>
<rect x="436.0" y="315.65" width="13" height="2.9" rx="1.45" fill="#1c1c1c" opacity="0.95" filter="url(#bb)"/>
<rect x="436.0" y="322.1" width="13" height="2.6" rx="1.3" fill="#1c1c1c" opacity="0.6" filter="url(#bb)"/>
<rect x="452.3" y="315.65" width="13" height="2.9" rx="1.45" fill="#1c1c1c" opacity="0.95" filter="url(#bb)"/>
<rect x="452.3" y="322.1" width="13" height="2.6" rx="1.3" fill="#1c1c1c" opacity="0.88" filter="url(#bb)"/>
<rect x="468.0" y="315.65" width="13" height="2.9" rx="1.45" fill="#1c1c1c" opacity="0.95" filter="url(#bb)"/>
<rect x="468.0" y="322.1" width="13" height="2.6" rx="1.3" fill="#1c1c1c" opacity="0.9" filter="url(#bb)"/>
</g>
<rect x="339.5" y="312.5" width="145.0" height="16.0" fill="none" stroke="#161616" stroke-width="1.2"/>
<clipPath id="c2"><rect x="339.5" y="331.5" width="145.0" height="12.0"/></clipPath>
<g clip-path="url(#c2)"><rect x="339.5" y="331.5" width="145.0" height="12.0" fill="#f7f7f7"/>
<rect x="435.0" y="335.8" width="50" height="3.6" rx="1.8" fill="#111" opacity="0.9" filter="url(#bb2)"/>
<rect x="356.5" y="337.0" width="12" height="2.4" rx="1.2" fill="#1a1a1a" opacity="0.07" filter="url(#bb)"/>
<rect x="372.2" y="337.0" width="12" height="2.4" rx="1.2" fill="#1a1a1a" opacity="0.09" filter="url(#bb)"/>
<rect x="388.5" y="337.0" width="12" height="2.4" rx="1.2" fill="#1a1a1a" opacity="0.1" filter="url(#bb)"/>
<rect x="404.5" y="336.6" width="12" height="3.2" rx="1.6" fill="#1a1a1a" opacity="0.5" filter="url(#bb)"/>
<rect x="420.3" y="336.6" width="12" height="3.2" rx="1.6" fill="#1a1a1a" opacity="0.3" filter="url(#bb)"/>
<rect x="435.0" y="335.8" width="15" height="3.2" rx="1.6" fill="#1a1a1a" opacity="0.6" filter="url(#bb)"/>
<rect x="452.3" y="335.3" width="15" height="4.2" rx="2.1" fill="#1a1a1a" opacity="0.97" filter="url(#bb)"/>
<rect x="468.0" y="335.3" width="15" height="4.2" rx="2.1" fill="#1a1a1a" opacity="0.95" filter="url(#bb)"/>
</g>
<rect x="339.5" y="331.5" width="145.0" height="12.0" fill="none" stroke="#161616" stroke-width="1.2"/>
<clipPath id="c3"><rect x="339.5" y="346.5" width="145.0" height="14.0"/></clipPath>
<g clip-path="url(#c3)"><rect x="339.5" y="346.5" width="145.0" height="14.0" fill="#d9d9d9"/>
<rect x="353.1" y="346.5" width="2.6" height="14.0" fill="#f4f4f4" opacity="0.55" filter="url(#bb)"/>
<rect x="369.05" y="346.5" width="2.6" height="14.0" fill="#f4f4f4" opacity="0.55" filter="url(#bb)"/>
<rect x="385.05" y="346.5" width="2.6" height="14.0" fill="#f4f4f4" opacity="0.55" filter="url(#bb)"/>
<rect x="401.2" y="346.5" width="2.6" height="14.0" fill="#f4f4f4" opacity="0.55" filter="url(#bb)"/>
<rect x="417.1" y="346.5" width="2.6" height="14.0" fill="#f4f4f4" opacity="0.55" filter="url(#bb)"/>
<rect x="433.1" y="346.5" width="2.6" height="14.0" fill="#f4f4f4" opacity="0.55" filter="url(#bb)"/>
<rect x="449.35" y="346.5" width="2.6" height="14.0" fill="#f4f4f4" opacity="0.55" filter="url(#bb)"/>
<rect x="465.35" y="346.5" width="2.6" height="14.0" fill="#f4f4f4" opacity="0.55" filter="url(#bb)"/>
<rect x="337.0" y="351.9" width="150" height="4.0" rx="2.0" fill="#0c0c0c" opacity="0.97" filter="url(#bb)"/>
<rect x="339.8" y="351.1" width="13" height="5.6" rx="2.8" fill="#0c0c0c" opacity="0.9" filter="url(#bb)"/>
<rect x="356.0" y="351.7" width="13" height="5" rx="2.5" fill="#0c0c0c" opacity="0.9" filter="url(#bb)"/>
<rect x="371.7" y="351.3" width="13" height="5.2" rx="2.6" fill="#0c0c0c" opacity="0.9" filter="url(#bb)"/>
<rect x="388.0" y="351.7" width="13" height="5.4" rx="2.7" fill="#0c0c0c" opacity="0.9" filter="url(#bb)"/>
<rect x="404.0" y="350.4" width="13" height="6.4" rx="3.2" fill="#0c0c0c" opacity="0.9" filter="url(#bb)"/>
<rect x="419.8" y="351.1" width="13" height="5.6" rx="2.8" fill="#0c0c0c" opacity="0.9" filter="url(#bb)"/>
<rect x="436.0" y="351.5" width="13" height="5.4" rx="2.7" fill="#0c0c0c" opacity="0.9" filter="url(#bb)"/>
<rect x="452.3" y="351.3" width="13" height="5.2" rx="2.6" fill="#0c0c0c" opacity="0.9" filter="url(#bb)"/>
<rect x="468.0" y="351.0" width="13" height="5" rx="2.5" fill="#0c0c0c" opacity="0.9" filter="url(#bb)"/>
</g>
<rect x="339.5" y="346.5" width="145.0" height="14.0" fill="none" stroke="#161616" stroke-width="1.2"/>
<text x="76.5" y="403.2" font-size="9.5" font-weight="bold" text-anchor="middle" fill="#161616" stroke="#161616" stroke-width="0.2">DMSO</text>
<line x1="45.5" y1="407" x2="102" y2="407" stroke="#2c2c2c" stroke-width="1.35"/>
<text x="114" y="403.2" font-size="9.5" font-weight="bold" text-anchor="middle" fill="#161616" stroke="#161616" stroke-width="0.2">dT</text>
<line x1="107" y1="407" x2="121" y2="407" stroke="#2c2c2c" stroke-width="1.35"/>
<text x="155" y="403.2" font-size="9.9" font-weight="bold" text-anchor="middle" fill="#161616" stroke="#161616" stroke-width="0.2">dT-Release</text>
<line x1="127" y1="407" x2="183.5" y2="407" stroke="#2c2c2c" stroke-width="1.35"/>
<text x="40.5" y="417.8" font-size="7.9" font-weight="bold" text-anchor="end" fill="#161616" stroke="#161616" stroke-width="0.28">AZD6738</text>
<text x="50.4" y="417.0" font-size="7" font-weight="bold" text-anchor="middle" fill="#161616" stroke="#161616" stroke-width="0.28">-</text>
<text x="66.3" y="417.6" font-size="7.5" font-weight="bold" text-anchor="middle" fill="#161616" stroke="#161616" stroke-width="0.28">+</text>
<text x="82.3" y="417.0" font-size="7" font-weight="bold" text-anchor="middle" fill="#161616" stroke="#161616" stroke-width="0.28">-</text>
<text x="98.2" y="417.0" font-size="7" font-weight="bold" text-anchor="middle" fill="#161616" stroke="#161616" stroke-width="0.28">-</text>
<text x="115" y="417.0" font-size="7" font-weight="bold" text-anchor="middle" fill="#161616" stroke="#161616" stroke-width="0.28">-</text>
<text x="130.5" y="417.0" font-size="7" font-weight="bold" text-anchor="middle" fill="#161616" stroke="#161616" stroke-width="0.28">-</text>
<text x="146.7" y="417.6" font-size="7.5" font-weight="bold" text-anchor="middle" fill="#161616" stroke="#161616" stroke-width="0.28">+</text>
<text x="162.6" y="417.0" font-size="7" font-weight="bold" text-anchor="middle" fill="#161616" stroke="#161616" stroke-width="0.28">-</text>
<text x="178.9" y="417.0" font-size="7" font-weight="bold" text-anchor="middle" fill="#161616" stroke="#161616" stroke-width="0.28">-</text>
<text x="40.5" y="425.8" font-size="7.9" font-weight="bold" text-anchor="end" fill="#161616" stroke="#161616" stroke-width="0.28">GDC-0575</text>
<text x="50.4" y="425.0" font-size="7" font-weight="bold" text-anchor="middle" fill="#161616" stroke="#161616" stroke-width="0.28">-</text>
<text x="66.3" y="425.0" font-size="7" font-weight="bold" text-anchor="middle" fill="#161616" stroke="#161616" stroke-width="0.28">-</text>
<text x="82.3" y="425.6" font-size="7.5" font-weight="bold" text-anchor="middle" fill="#161616" stroke="#161616" stroke-width="0.28">+</text>
<text x="98.2" y="425.0" font-size="7" font-weight="bold" text-anchor="middle" fill="#161616" stroke="#161616" stroke-width="0.28">-</text>
<text x="115" y="425.0" font-size="7" font-weight="bold" text-anchor="middle" fill="#161616" stroke="#161616" stroke-width="0.28">-</text>
<text x="130.5" y="425.0" font-size="7" font-weight="bold" text-anchor="middle" fill="#161616" stroke="#161616" stroke-width="0.28">-</text>
<text x="146.7" y="425.0" font-size="7" font-weight="bold" text-anchor="middle" fill="#161616" stroke="#161616" stroke-width="0.28">-</text>
<text x="162.6" y="425.6" font-size="7.5" font-weight="bold" text-anchor="middle" fill="#161616" stroke="#161616" stroke-width="0.28">+</text>
<text x="178.9" y="425.0" font-size="7" font-weight="bold" text-anchor="middle" fill="#161616" stroke="#161616" stroke-width="0.28">-</text>
<text x="40.5" y="433.8" font-size="7.9" font-weight="bold" text-anchor="end" fill="#161616" stroke="#161616" stroke-width="0.28">LY2603618</text>
<text x="50.4" y="433.0" font-size="7" font-weight="bold" text-anchor="middle" fill="#161616" stroke="#161616" stroke-width="0.28">-</text>
<text x="66.3" y="433.0" font-size="7" font-weight="bold" text-anchor="middle" fill="#161616" stroke="#161616" stroke-width="0.28">-</text>
<text x="82.3" y="433.0" font-size="7" font-weight="bold" text-anchor="middle" fill="#161616" stroke="#161616" stroke-width="0.28">-</text>
<text x="98.2" y="433.6" font-size="7.5" font-weight="bold" text-anchor="middle" fill="#161616" stroke="#161616" stroke-width="0.28">+</text>
<text x="115" y="433.0" font-size="7" font-weight="bold" text-anchor="middle" fill="#161616" stroke="#161616" stroke-width="0.28">-</text>
<text x="130.5" y="433.0" font-size="7" font-weight="bold" text-anchor="middle" fill="#161616" stroke="#161616" stroke-width="0.28">-</text>
<text x="146.7" y="433.0" font-size="7" font-weight="bold" text-anchor="middle" fill="#161616" stroke="#161616" stroke-width="0.28">-</text>
<text x="162.6" y="433.0" font-size="7" font-weight="bold" text-anchor="middle" fill="#161616" stroke="#161616" stroke-width="0.28">-</text>
<text x="178.9" y="433.6" font-size="7.5" font-weight="bold" text-anchor="middle" fill="#161616" stroke="#161616" stroke-width="0.28">+</text>
<text x="40.5" y="444.6" font-size="7.9" font-weight="bold" text-anchor="end" fill="#161616" stroke="#161616" stroke-width="0.28">tPARP</text>
<text x="40.5" y="452.6" font-size="7.9" font-weight="bold" text-anchor="end" fill="#161616" stroke="#161616" stroke-width="0.28">cPARP</text>
<text x="40.5" y="468" font-size="7.9" font-weight="bold" text-anchor="end" fill="#161616" stroke="#161616" stroke-width="0.28"><tspan font-size="6.6" dy="1.3">γ</tspan><tspan dy="-1.3">H2AX</tspan></text>
<text x="40.5" y="484.6" font-size="7.9" font-weight="bold" text-anchor="end" fill="#161616" stroke="#161616" stroke-width="0.28">Tubulin</text>
<clipPath id="c4"><rect x="41.5" y="435.5" width="145.0" height="19.0"/></clipPath>
<g clip-path="url(#c4)"><rect x="41.5" y="435.5" width="145.0" height="19.0" fill="#cfcfcf"/>
<rect x="57.05" y="435.5" width="2.6" height="19.0" fill="#f0f0f0" opacity="0.75" filter="url(#bb)"/>
<rect x="73.0" y="435.5" width="2.6" height="19.0" fill="#f0f0f0" opacity="0.75" filter="url(#bb)"/>
<rect x="88.95" y="435.5" width="2.6" height="19.0" fill="#f0f0f0" opacity="0.75" filter="url(#bb)"/>
<rect x="105.3" y="435.5" width="2.6" height="19.0" fill="#f0f0f0" opacity="0.75" filter="url(#bb)"/>
<rect x="121.45" y="435.5" width="2.6" height="19.0" fill="#f0f0f0" opacity="0.75" filter="url(#bb)"/>
<rect x="137.3" y="435.5" width="2.6" height="19.0" fill="#f0f0f0" opacity="0.75" filter="url(#bb)"/>
<rect x="153.35" y="435.5" width="2.6" height="19.0" fill="#f0f0f0" opacity="0.75" filter="url(#bb)"/>
<rect x="169.45" y="435.5" width="2.6" height="19.0" fill="#f0f0f0" opacity="0.75" filter="url(#bb)"/>
<rect x="42.4" y="439.1" width="14" height="4.2" rx="2.1" fill="#141414" opacity="0.97" filter="url(#bb)"/>
<rect x="43.9" y="448.2" width="13" height="2.8" rx="1.4" fill="#141414" opacity="0.12" filter="url(#bb)"/>
<rect x="59.3" y="439.1" width="14" height="4.2" rx="2.1" fill="#141414" opacity="0.92" filter="url(#bb)"/>
<rect x="59.8" y="448.2" width="13" height="2.8" rx="1.4" fill="#141414" opacity="0.14" filter="url(#bb)"/>
<rect x="75.3" y="439.1" width="14" height="4.2" rx="2.1" fill="#141414" opacity="0.97" filter="url(#bb)"/>
<rect x="75.8" y="448.2" width="13" height="2.8" rx="1.4" fill="#141414" opacity="0.14" filter="url(#bb)"/>
<rect x="91.2" y="439.1" width="14" height="4.2" rx="2.1" fill="#141414" opacity="0.92" filter="url(#bb)"/>
<rect x="91.7" y="448.2" width="13" height="2.8" rx="1.4" fill="#141414" opacity="0.2" filter="url(#bb)"/>
<rect x="108.0" y="439.7" width="14" height="4.2" rx="2.1" fill="#141414" opacity="0.92" filter="url(#bb)"/>
<rect x="108.5" y="448.2" width="13" height="2.8" rx="1.4" fill="#141414" opacity="0.38" filter="url(#bb)"/>
<rect x="123.5" y="439.7" width="14" height="4.2" rx="2.1" fill="#141414" opacity="0.97" filter="url(#bb)"/>
<rect x="124.0" y="448.2" width="13" height="2.8" rx="1.4" fill="#141414" opacity="0.38" filter="url(#bb)"/>
<rect x="140.2" y="441.0" width="13" height="2.4" rx="1.2" fill="#141414" opacity="0.7" filter="url(#bb)"/>
<rect x="140.2" y="448.1" width="13" height="3.0" rx="1.5" fill="#141414" opacity="0.9" filter="url(#bb)"/>
<rect x="156.1" y="441.0" width="13" height="2.4" rx="1.2" fill="#141414" opacity="0.6" filter="url(#bb)"/>
<rect x="156.1" y="448.1" width="13" height="3.0" rx="1.5" fill="#141414" opacity="0.88" filter="url(#bb)"/>
<rect x="172.4" y="441.0" width="13" height="2.4" rx="1.2" fill="#141414" opacity="0.65" filter="url(#bb)"/>
<rect x="172.4" y="448.1" width="13" height="3.0" rx="1.5" fill="#141414" opacity="0.92" filter="url(#bb)"/>
</g>
<rect x="41.5" y="435.5" width="145.0" height="19.0" fill="none" stroke="#161616" stroke-width="1.2"/>
<clipPath id="c5"><rect x="41.5" y="457.5" width="145.0" height="15.0"/></clipPath>
<g clip-path="url(#c5)"><rect x="41.5" y="457.5" width="145.0" height="15.0" fill="#f4f4f4"/>
<rect x="92.0" y="463.2" width="96" height="3.6" rx="1.8" fill="#0e0e0e" opacity="0.95" filter="url(#bb2)"/>
<rect x="45.4" y="464.3" width="10" height="2" rx="1.0" fill="#0e0e0e" opacity="0.1" filter="url(#bb)"/>
<rect x="58.8" y="463.7" width="15" height="3.2" rx="1.6" fill="#0e0e0e" opacity="0.85" filter="url(#bb)"/>
<rect x="74.8" y="463.7" width="15" height="3.0" rx="1.5" fill="#0e0e0e" opacity="0.85" filter="url(#bb)"/>
<rect x="90.7" y="463.4" width="15" height="3.2" rx="1.6" fill="#0e0e0e" opacity="0.9" filter="url(#bb)"/>
<rect x="107.5" y="461.9" width="15" height="4.6" rx="2.3" fill="#0e0e0e" opacity="0.97" filter="url(#bb)"/>
<rect x="123.0" y="461.8" width="15" height="4.8" rx="2.4" fill="#0e0e0e" opacity="0.97" filter="url(#bb)"/>
<rect x="139.2" y="462.1" width="15" height="4.8" rx="2.4" fill="#0e0e0e" opacity="0.97" filter="url(#bb)"/>
<rect x="155.1" y="462.3" width="15" height="4.6" rx="2.3" fill="#0e0e0e" opacity="0.97" filter="url(#bb)"/>
<rect x="171.4" y="463.7" width="15" height="4.6" rx="2.3" fill="#0e0e0e" opacity="0.97" filter="url(#bb)"/>
</g>
<rect x="41.5" y="457.5" width="145.0" height="15.0" fill="none" stroke="#161616" stroke-width="1.2"/>
<clipPath id="c6"><rect x="41.5" y="475.5" width="145.0" height="13.0"/></clipPath>
<g clip-path="url(#c6)"><rect x="41.5" y="475.5" width="145.0" height="13.0" fill="#d2d2d2"/>
<rect x="57.05" y="475.5" width="2.6" height="13.0" fill="#f0f0f0" opacity="0.5" filter="url(#bb)"/>
<rect x="73.0" y="475.5" width="2.6" height="13.0" fill="#f0f0f0" opacity="0.5" filter="url(#bb)"/>
<rect x="88.95" y="475.5" width="2.6" height="13.0" fill="#f0f0f0" opacity="0.5" filter="url(#bb)"/>
<rect x="105.3" y="475.5" width="2.6" height="13.0" fill="#f0f0f0" opacity="0.5" filter="url(#bb)"/>
<rect x="121.45" y="475.5" width="2.6" height="13.0" fill="#f0f0f0" opacity="0.5" filter="url(#bb)"/>
<rect x="137.3" y="475.5" width="2.6" height="13.0" fill="#f0f0f0" opacity="0.5" filter="url(#bb)"/>
<rect x="153.35" y="475.5" width="2.6" height="13.0" fill="#f0f0f0" opacity="0.5" filter="url(#bb)"/>
<rect x="169.45" y="475.5" width="2.6" height="13.0" fill="#f0f0f0" opacity="0.5" filter="url(#bb)"/>
<rect x="39.0" y="479.9" width="150" height="3.6" rx="1.8" fill="#0e0e0e" opacity="0.95" filter="url(#bb)"/>
<rect x="43.65" y="478.4" width="13.5" height="6.6" rx="3.3" fill="#0e0e0e" opacity="0.9" filter="url(#bb)"/>
<rect x="59.55" y="479.6" width="13.5" height="4.8" rx="2.4" fill="#0e0e0e" opacity="0.9" filter="url(#bb)"/>
<rect x="75.55" y="479.5" width="13.5" height="4.8" rx="2.4" fill="#0e0e0e" opacity="0.9" filter="url(#bb)"/>
<rect x="91.45" y="479.4" width="13.5" height="5" rx="2.5" fill="#0e0e0e" opacity="0.9" filter="url(#bb)"/>
<rect x="108.25" y="479.6" width="13.5" height="5" rx="2.5" fill="#0e0e0e" opacity="0.9" filter="url(#bb)"/>
<rect x="123.75" y="479.4" width="13.5" height="5" rx="2.5" fill="#0e0e0e" opacity="0.9" filter="url(#bb)"/>
<rect x="139.95" y="479.2" width="13.5" height="5" rx="2.5" fill="#0e0e0e" opacity="0.9" filter="url(#bb)"/>
<rect x="155.85" y="478.8" width="13.5" height="5.2" rx="2.6" fill="#0e0e0e" opacity="0.9" filter="url(#bb)"/>
<rect x="172.15" y="478.4" width="13.5" height="5.4" rx="2.7" fill="#0e0e0e" opacity="0.9" filter="url(#bb)"/>
</g>
<rect x="41.5" y="475.5" width="145.0" height="13.0" fill="none" stroke="#161616" stroke-width="1.2"/>
<text x="443" y="405.8" font-size="8.0" font-weight="bold" text-anchor="end" fill="#161616" stroke="#161616" stroke-width="0.28">dT</text>
<text x="456.3" y="405.0" font-size="7" font-weight="bold" text-anchor="middle" fill="#161616" stroke="#161616" stroke-width="0.28">-</text>
<text x="475.3" y="405.6" font-size="7.5" font-weight="bold" text-anchor="middle" fill="#161616" stroke="#161616" stroke-width="0.28">+</text>
<text x="493.5" y="405.0" font-size="7" font-weight="bold" text-anchor="middle" fill="#161616" stroke="#161616" stroke-width="0.28">-</text>
<text x="511.3" y="405.6" font-size="7.5" font-weight="bold" text-anchor="middle" fill="#161616" stroke="#161616" stroke-width="0.28">+</text>
<text x="443" y="415.6" font-size="8.0" font-weight="bold" text-anchor="end" fill="#161616" stroke="#161616" stroke-width="0.28">siControl</text>
<text x="456.3" y="415.40000000000003" font-size="7.5" font-weight="bold" text-anchor="middle" fill="#161616" stroke="#161616" stroke-width="0.28">+</text>
<text x="475.3" y="415.40000000000003" font-size="7.5" font-weight="bold" text-anchor="middle" fill="#161616" stroke="#161616" stroke-width="0.28">+</text>
<text x="493.5" y="414.8" font-size="7" font-weight="bold" text-anchor="middle" fill="#161616" stroke="#161616" stroke-width="0.28">-</text>
<text x="511.3" y="414.8" font-size="7" font-weight="bold" text-anchor="middle" fill="#161616" stroke="#161616" stroke-width="0.28">-</text>
<text x="443" y="424.2" font-size="8.0" font-weight="bold" text-anchor="end" fill="#161616" stroke="#161616" stroke-width="0.28">siCHK1</text>
<text x="456.3" y="423.4" font-size="7" font-weight="bold" text-anchor="middle" fill="#161616" stroke="#161616" stroke-width="0.28">-</text>
<text x="475.3" y="423.4" font-size="7" font-weight="bold" text-anchor="middle" fill="#161616" stroke="#161616" stroke-width="0.28">-</text>
<text x="493.5" y="424.0" font-size="7.5" font-weight="bold" text-anchor="middle" fill="#161616" stroke="#161616" stroke-width="0.28">+</text>
<text x="511.3" y="424.0" font-size="7.5" font-weight="bold" text-anchor="middle" fill="#161616" stroke="#161616" stroke-width="0.28">+</text>
<text x="443" y="434.7" font-size="8.0" font-weight="bold" text-anchor="end" fill="#161616" stroke="#161616" stroke-width="0.28">tPARP</text>
<text x="443" y="443.2" font-size="8.0" font-weight="bold" text-anchor="end" fill="#161616" stroke="#161616" stroke-width="0.28">cPARP</text>
<text x="443" y="456" font-size="8.0" font-weight="bold" text-anchor="end" fill="#161616" stroke="#161616" stroke-width="0.28">CHK1</text>
<text x="443" y="473.0" font-size="8.0" font-weight="bold" text-anchor="end" fill="#161616" stroke="#161616" stroke-width="0.28"><tspan font-size="6.6" dy="1.3">γ</tspan><tspan dy="-1.3">H2AX</tspan></text>
<text x="443" y="488.8" font-size="8.0" font-weight="bold" text-anchor="end" fill="#161616" stroke="#161616" stroke-width="0.28">Actin</text>
<clipPath id="c7"><rect x="447.5" y="426.5" width="73.0" height="17.0"/></clipPath>
<g clip-path="url(#c7)"><rect x="447.5" y="426.5" width="73.0" height="17.0" fill="#d2d2d2"/>
<rect x="464.5" y="426.5" width="2.6" height="17.0" fill="#eeeeee" opacity="0.6" filter="url(#bb)"/>
<rect x="483.1" y="426.5" width="2.6" height="17.0" fill="#eeeeee" opacity="0.6" filter="url(#bb)"/>
<rect x="501.1" y="426.5" width="2.6" height="17.0" fill="#eeeeee" opacity="0.6" filter="url(#bb)"/>
<rect x="449.05" y="429.0" width="14.5" height="3.4" rx="1.7" fill="#111" opacity="0.9" filter="url(#bb)"/>
<rect x="449.3" y="439.2" width="14" height="2" rx="1.0" fill="#111" opacity="0.07" filter="url(#bb)"/>
<rect x="467.05" y="427.1" width="16.5" height="6.2" rx="3.1" fill="#111" opacity="0.98" filter="url(#bb)"/>
<rect x="468.3" y="439.1" width="14" height="2.2" rx="1.1" fill="#111" opacity="0.12" filter="url(#bb)"/>
<rect x="486.25" y="428.7" width="14.5" height="4.2" rx="2.1" fill="#111" opacity="0.93" filter="url(#bb)"/>
<rect x="486.5" y="438.8" width="14" height="2.8" rx="1.4" fill="#111" opacity="0.65" filter="url(#bb)"/>
<rect x="503.8" y="428.9" width="15" height="4.2" rx="2.1" fill="#111" opacity="0.93" filter="url(#bb)"/>
<rect x="504.3" y="438.5" width="14" height="3.4" rx="1.7" fill="#111" opacity="0.96" filter="url(#bb)"/>
</g>
<rect x="447.5" y="426.5" width="73.0" height="17.0" fill="none" stroke="#161616" stroke-width="1.2"/>
<rect x="447.5" y="460.8" width="73" height="2.6" fill="#8e8e8e" filter="url(#b0)"/>
<clipPath id="c8"><rect x="447.5" y="446.5" width="73.0" height="14.0"/></clipPath>
<g clip-path="url(#c8)"><rect x="447.5" y="446.5" width="73.0" height="14.0" fill="#dedede"/>
<rect x="444.0" y="458.5" width="80" height="2" rx="1.0" fill="#888" opacity="0.35" filter="url(#bb2)"/>
<rect x="448.55" y="451.2" width="15.5" height="4.8" rx="2.4" fill="#111" opacity="0.96" filter="url(#bb)"/>
<rect x="467.05" y="450.5" width="16.5" height="6.2" rx="3.1" fill="#111" opacity="0.98" filter="url(#bb)"/>
<rect x="488.0" y="452.1" width="11" height="3" rx="1.5" fill="#111" opacity="0.45" filter="url(#bb)"/>
<rect x="507.3" y="452.6" width="8" height="2" rx="1.0" fill="#111" opacity="0.05" filter="url(#bb)"/>
</g>
<rect x="447.5" y="446.5" width="73.0" height="14.0" fill="none" stroke="#161616" stroke-width="1.2"/>
<clipPath id="c9"><rect x="447.5" y="464.5" width="73.0" height="13.0"/></clipPath>
<g clip-path="url(#c9)"><rect x="447.5" y="464.5" width="73.0" height="13.0" fill="#f1f1f1"/>
<rect x="450.3" y="471.3" width="12" height="2" rx="1.0" fill="#0e0e0e" opacity="0.18" filter="url(#bb)"/>
<rect x="468.3" y="470.1" width="14" height="2.8" rx="1.4" fill="#0e0e0e" opacity="0.5" filter="url(#bb)"/>
<rect x="486.0" y="468.2" width="15" height="4.2" rx="2.1" fill="#0e0e0e" opacity="0.9" filter="url(#bb)"/>
<rect x="500.3" y="466.3" width="22" height="7.6" rx="3.8" fill="#0e0e0e" opacity="0.99" filter="url(#bb)"/>
</g>
<rect x="447.5" y="464.5" width="73.0" height="13.0" fill="none" stroke="#161616" stroke-width="1.2"/>
<clipPath id="c10"><rect x="447.5" y="480.5" width="73.0" height="11.0"/></clipPath>
<g clip-path="url(#c10)"><rect x="447.5" y="480.5" width="73.0" height="11.0" fill="#e0e0e0"/>
<rect x="464.5" y="480.5" width="2.6" height="11.0" fill="#f4f4f4" opacity="0.5" filter="url(#bb)"/>
<rect x="483.1" y="480.5" width="2.6" height="11.0" fill="#f4f4f4" opacity="0.5" filter="url(#bb)"/>
<rect x="501.1" y="480.5" width="2.6" height="11.0" fill="#f4f4f4" opacity="0.5" filter="url(#bb)"/>
<rect x="443.0" y="485.2" width="80" height="3.0" rx="1.5" fill="#111" opacity="0.95" filter="url(#bb)"/>
<rect x="449.05" y="484.4" width="14.5" height="4.6" rx="2.3" fill="#111" opacity="0.85" filter="url(#bb)"/>
<rect x="468.05" y="484.6" width="14.5" height="5.2" rx="2.6" fill="#111" opacity="0.85" filter="url(#bb)"/>
<rect x="486.25" y="484.4" width="14.5" height="4.2" rx="2.1" fill="#111" opacity="0.85" filter="url(#bb)"/>
<rect x="504.05" y="484.1" width="14.5" height="4.4" rx="2.2" fill="#111" opacity="0.85" filter="url(#bb)"/>
</g>
<rect x="447.5" y="480.5" width="73.0" height="11.0" fill="none" stroke="#161616" stroke-width="1.2"/>
<path d="M267.6 452.2h0.8M247.6 456.7h0.8M280.2 455.4h0.8M259.5 453.4h0.8M239.8 456.8h0.8M260.8 457.4h0.8M252.7 457.0h0.8M252.8 455.9h0.8M279.8 452.8h0.8M273.7 454.5h0.8M249.9 455.0h0.8M270.3 452.8h0.8M258.5 453.1h0.8M252.1 454.0h0.8M272.6 453.3h0.8M278.1 453.6h0.8M253.1 457.1h0.8M280.1 452.9h0.8M269.6 451.7h0.8M256.7 453.6h0.8M271.1 451.5h0.8M255.4 452.9h0.8M263.3 451.6h0.8M244.7 461.2h0.8M264.7 450.9h0.8M272.7 451.4h0.8M237.7 458.5h0.8M278.1 452.5h0.8M247.9 455.6h0.8M288.1 455.9h0.8M270.5 451.7h0.8M239.1 455.4h0.8M275.0 454.8h0.8M261.9 457.8h0.8M251.2 457.1h0.8M272.7 453.0h0.8M263.6 454.8h0.8M269.5 452.2h0.8M259.0 454.7h0.8M262.4 454.6h0.8M265.2 454.0h0.8M255.6 456.9h0.8M253.7 453.7h0.8M250.7 451.8h0.8M267.7 454.4h0.8M260.3 455.6h0.8M259.8 456.1h0.8M285.2 455.3h0.8M258.6 458.4h0.8M271.1 450.6h0.8M279.1 455.0h0.8M272.9 451.8h0.8M251.1 453.0h0.8M269.1 451.8h0.8M252.9 456.8h0.8M253.8 454.8h0.8M250.5 450.5h0.8M260.9 454.2h0.8M243.7 456.8h0.8M272.5 456.6h0.8M255.5 451.8h0.8M260.8 454.9h0.8M259.8 453.1h0.8M249.3 452.8h0.8M260.9 453.3h0.8M283.3 453.8h0.8M267.8 453.4h0.8M259.6 452.2h0.8M255.8 451.0h0.8M235.5 457.7h0.8M248.5 455.5h0.8M260.4 453.2h0.8M271.3 453.2h0.8M267.5 453.6h0.8M274.4 456.8h0.8M262.8 457.1h0.8M268.4 458.2h0.8M260.4 450.9h0.8M264.7 455.1h0.8M257.4 454.0h0.8M258.5 451.5h0.8M283.9 452.7h0.8M248.3 450.8h0.8M251.2 454.4h0.8M280.8 455.9h0.8M252.7 451.6h0.8M247.7 454.3h0.8M273.0 453.4h0.8M282.4 459.0h0.8M264.0 449.4h0.8M275.9 454.3h0.8M270.5 456.8h0.8M249.2 454.6h0.8M264.2 452.7h0.8M270.8 454.2h0.8M256.8 458.9h0.8M264.1 458.3h0.8M260.0 456.9h0.8M252.4 454.8h0.8M275.7 449.4h0.8M268.8 453.9h0.8M275.8 454.9h0.8M261.0 451.5h0.8M257.9 452.8h0.8M258.1 455.0h0.8M245.0 457.0h0.8M258.6 455.9h0.8M235.2 453.3h0.8M258.2 453.6h0.8M253.5 455.2h0.8M267.1 452.2h0.8M237.0 456.2h0.8M257.9 457.0h0.8M273.0 454.2h0.8M243.8 453.6h0.8M252.7 457.4h0.8M240.4 456.6h0.8M242.4 453.2h0.8M244.0 452.9h0.8M256.3 455.4h0.8M254.4 456.1h0.8M284.2 454.9h0.8M247.3 454.1h0.8M260.6 453.6h0.8M276.5 457.2h0.8M287.4 455.7h0.8M228.1 454.2h0.8M270.4 452.6h0.8M254.3 456.6h0.8M263.8 451.8h0.8M254.5 447.2h0.8M261.9 451.6h0.8M261.3 451.7h0.8M250.1 453.3h0.8M246.9 453.2h0.8M275.4 456.4h0.8M270.7 453.7h0.8M263.5 452.7h0.8M259.6 452.6h0.8M243.5 452.2h0.8M286.4 455.4h0.8M252.4 454.2h0.8M256.2 457.4h0.8M261.5 453.0h0.8M270.5 455.2h0.8M253.2 452.7h0.8M263.7 450.6h0.8M250.3 456.9h0.8M272.9 457.1h0.8M256.3 453.1h0.8M258.4 453.4h0.8M278.1 454.0h0.8M279.1 452.8h0.8M266.7 458.3h0.8M252.5 453.0h0.8M254.3 450.7h0.8M258.1 453.0h0.8M289.8 453.4h0.8M234.8 456.7h0.8M273.9 454.4h0.8M265.5 456.2h0.8M254.8 454.6h0.8M263.7 458.4h0.8M279.8 454.9h0.8M244.9 456.6h0.8M261.2 457.2h0.8M262.5 454.9h0.8M270.2 452.8h0.8M253.5 459.9h0.8M250.9 456.7h0.8M270.5 456.4h0.8M279.2 451.3h0.8M274.0 449.7h0.8M262.5 455.3h0.8M274.9 457.0h0.8M250.0 453.8h0.8M259.8 452.9h0.8M251.5 452.9h0.8M276.4 457.7h0.8M271.4 458.4h0.8M263.0 451.9h0.8M253.6 455.0h0.8M274.9 457.3h0.8M250.5 456.7h0.8M255.1 455.9h0.8M273.5 458.0h0.8M255.2 455.1h0.8M267.3 453.5h0.8M263.0 455.9h0.8M241.0 453.0h0.8M291.0 455.6h0.8M254.8 450.2h0.8M249.7 455.7h0.8M270.4 455.5h0.8M269.3 453.1h0.8M282.0 451.8h0.8M268.3 453.9h0.8M240.2 456.6h0.8M258.3 456.2h0.8M277.9 454.9h0.8M253.5 454.0h0.8M261.0 457.9h0.8M272.6 458.2h0.8M271.4 452.7h0.8M273.6 456.8h0.8M260.3 455.6h0.8M257.8 451.5h0.8M260.7 456.3h0.8M257.3 449.2h0.8M251.7 457.1h0.8M264.7 457.1h0.8M252.3 453.5h0.8M249.2 452.7h0.8M268.3 454.8h0.8M255.7 455.2h0.8M245.3 453.6h0.8M242.9 451.0h0.8M244.6 451.9h0.8M281.8 457.7h0.8M277.7 453.1h0.8M269.7 451.8h0.8M255.0 455.1h0.8M241.6 455.0h0.8M269.6 449.6h0.8M230.9 453.8h0.8M260.2 454.8h0.8M247.5 455.8h0.8M263.4 452.8h0.8M282.6 455.1h0.8M271.2 458.9h0.8M255.6 454.0h0.8M239.8 454.0h0.8M267.3 460.4h0.8M268.9 455.0h0.8M245.8 452.5h0.8M238.4 451.2h0.8M263.2 455.2h0.8M250.2 454.0h0.8" stroke="#7d9de3" stroke-width="0.8" opacity="0.8" fill="none" filter="url(#b0)"/>
<path d="M241.2 444.9h0.8M243.5 435.6h0.8M241.8 430.3h0.8M241.7 457.2h0.8M242.5 446.8h0.8M243.4 451.6h0.8M242.0 432.9h0.8M244.1 447.3h0.8M241.4 448.6h0.8M242.5 439.7h0.8M245.3 444.2h0.8M243.0 437.5h0.8M242.8 448.3h0.8M243.2 434.0h0.8M243.2 439.1h0.8M243.0 438.5h0.8M239.1 427.2h0.8M241.9 422.6h0.8M240.1 456.0h0.8M243.6 436.4h0.8M243.0 422.3h0.8M242.9 447.8h0.8M242.8 429.6h0.8M244.0 435.8h0.8M241.6 441.6h0.8M242.0 456.1h0.8M242.3 457.0h0.8M243.2 430.2h0.8M242.5 440.4h0.8M244.7 450.1h0.8M246.5 434.7h0.8M241.8 458.5h0.8M241.1 442.8h0.8M245.0 432.0h0.8M241.9 434.1h0.8M243.3 443.2h0.8M242.4 445.2h0.8M241.2 437.0h0.8M243.2 456.0h0.8M242.4 440.5h0.8M244.5 440.6h0.8M244.5 441.9h0.8M244.3 441.4h0.8M241.0 433.2h0.8M243.1 454.9h0.8M245.4 437.5h0.8M246.4 431.2h0.8M241.1 447.4h0.8M240.1 447.2h0.8M243.1 445.0h0.8M240.6 443.0h0.8M243.9 439.6h0.8M244.1 440.2h0.8M243.0 437.5h0.8M240.4 438.7h0.8M243.3 434.0h0.8M239.4 427.7h0.8M244.5 438.2h0.8M241.3 449.9h0.8M242.2 428.0h0.8M241.8 433.0h0.8M242.2 432.7h0.8M242.6 443.6h0.8M241.6 438.4h0.8M242.2 446.6h0.8M241.3 446.0h0.8M244.4 438.5h0.8M241.0 437.5h0.8M239.7 435.7h0.8M240.6 438.6h0.8" stroke="#a9bdee" stroke-width="0.8" opacity="0.45" fill="none" filter="url(#b0)"/>
<path d="M263.4 440.1h0.8M269.2 439.4h0.8M267.3 438.2h0.8M254.5 441.3h0.8M283.1 444.9h0.8M252.0 439.3h0.8M248.7 442.0h0.8M265.4 432.3h0.8M259.0 434.1h0.8M267.8 428.3h0.8M268.5 438.1h0.8M274.0 435.6h0.8M267.8 454.5h0.8M279.7 438.6h0.8M251.5 440.9h0.8M274.6 414.8h0.8M265.9 439.1h0.8M268.3 436.8h0.8M266.0 447.1h0.8M272.3 433.7h0.8M265.1 452.7h0.8M257.7 431.8h0.8M271.7 437.2h0.8M271.4 446.8h0.8M281.3 439.4h0.8M268.3 435.5h0.8M265.1 444.0h0.8M252.9 427.7h0.8M262.4 428.3h0.8M259.2 445.6h0.8M241.3 440.6h0.8M252.3 434.1h0.8M261.1 428.1h0.8M250.3 436.6h0.8M232.8 419.1h0.8M263.2 444.8h0.8M289.7 433.7h0.8M258.4 433.7h0.8M273.4 443.5h0.8M256.6 439.8h0.8M267.5 445.1h0.8M263.0 434.3h0.8M257.8 425.4h0.8M271.1 441.7h0.8M281.2 438.1h0.8M262.4 428.7h0.8M254.1 430.2h0.8M271.8 436.7h0.8M240.7 435.2h0.8M264.4 427.6h0.8M267.6 440.2h0.8M255.6 425.2h0.8M264.0 438.1h0.8M264.8 448.4h0.8M269.6 428.0h0.8M277.1 430.8h0.8M276.0 436.8h0.8M282.5 428.0h0.8M276.4 439.4h0.8M257.1 441.6h0.8" stroke="#a9bdee" stroke-width="0.8" opacity="0.4" fill="none" filter="url(#b0)"/>
<g filter="url(#b1)"><path d="M238.3 453.5 C239 451 244 450.2 250 450.2 L283.5 449.6 C287 449.9 287.5 456 285 458 L262 459.4 L246 460.2 C240 461 237.5 458.5 238.3 453.5Z" fill="#6f93dd"/><path d="M244 459.4 L284 457.2" stroke="#2f6fd0" stroke-width="2" fill="none"/><path d="M241 452 C240 455 240.5 458 243 459.5" stroke="#3f74d2" stroke-width="2" fill="none"/><path d="M284 451 C286.5 453 286.5 456 284.5 457.5" stroke="#3f74d2" stroke-width="2" fill="none"/><rect x="247.5" y="451.4" width="30" height="5" rx="2.4" fill="#c9d6f6" opacity=".9"/><ellipse cx="242.5" cy="457.6" rx="3.2" ry="2.8" fill="#35b0cf"/><ellipse cx="242" cy="458.4" rx="2" ry="1.7" fill="#7fd85a"/><ellipse cx="281.3" cy="454.6" rx="3.6" ry="3" fill="#35b0cf"/><ellipse cx="281.8" cy="454.8" rx="2.4" ry="2" fill="#6fd05a"/></g>
<path d="M279.8 454.3h0.8M255.9 453.6h0.8M272.2 454.1h0.8M273.6 453.0h0.8M272.3 451.7h0.8M260.6 453.4h0.8M258.0 455.4h0.8M257.2 454.3h0.8M276.6 454.9h0.8M258.6 452.8h0.8M246.1 454.3h0.8M269.0 455.2h0.8M263.8 456.6h0.8M268.1 450.8h0.8M254.9 454.8h0.8M258.8 454.9h0.8M282.3 452.8h0.8M279.5 453.7h0.8M250.3 453.9h0.8M269.1 453.0h0.8M274.5 452.7h0.8M260.4 455.0h0.8M260.3 453.1h0.8M261.8 454.7h0.8M275.7 455.6h0.8M276.8 453.8h0.8M248.8 453.7h0.8M258.7 452.5h0.8M257.9 453.7h0.8M262.4 455.0h0.8M254.7 455.3h0.8M262.3 454.8h0.8M271.8 452.2h0.8M274.7 452.9h0.8M265.1 455.2h0.8M269.3 451.8h0.8M263.3 455.3h0.8M261.0 453.7h0.8M262.5 455.9h0.8M257.6 452.6h0.8M253.2 453.1h0.8M260.1 454.3h0.8M261.3 451.6h0.8M249.4 454.7h0.8M267.7 452.0h0.8M269.4 450.6h0.8M280.5 454.6h0.8M248.7 454.5h0.8M261.7 453.2h0.8M259.0 453.5h0.8M261.2 452.6h0.8M257.4 454.5h0.8M266.2 452.1h0.8M258.1 455.8h0.8M267.7 455.9h0.8M251.2 452.4h0.8M244.6 451.3h0.8M259.0 452.4h0.8M253.3 452.9h0.8M260.5 454.9h0.8M266.5 451.5h0.8M273.9 453.4h0.8M254.0 453.8h0.8M258.8 452.0h0.8M274.4 453.0h0.8M257.2 454.5h0.8M275.4 454.4h0.8M254.8 454.4h0.8M270.8 454.3h0.8M267.2 453.2h0.8M261.4 451.6h0.8M256.2 452.3h0.8M262.0 455.7h0.8M244.0 452.1h0.8M254.5 453.7h0.8M271.3 452.8h0.8M255.7 455.4h0.8M265.0 454.5h0.8M268.7 452.8h0.8M263.8 452.9h0.8M256.2 454.0h0.8M265.5 452.1h0.8M255.8 454.6h0.8M263.3 454.7h0.8M259.5 452.8h0.8M268.3 454.6h0.8M239.2 454.9h0.8M255.9 454.7h0.8M274.6 453.4h0.8M254.2 454.1h0.8M262.7 454.5h0.8M250.7 454.1h0.8M269.2 454.7h0.8M267.0 455.4h0.8M255.4 455.4h0.8M263.7 452.5h0.8M259.6 454.2h0.8M264.7 455.6h0.8M263.5 453.1h0.8M279.5 453.4h0.8M255.4 455.0h0.8M258.7 452.8h0.8M253.5 455.3h0.8M253.5 453.9h0.8M258.3 453.6h0.8M255.4 454.0h0.8M266.8 455.2h0.8M259.1 452.3h0.8M250.1 453.8h0.8M242.1 455.5h0.8" stroke="#5f8fdc" stroke-width="0.8" opacity="0.85" fill="none" filter="url(#b0)"/>
<rect x="222.5" y="405.5" width="72.0" height="73.0" fill="none" stroke="#161616" stroke-width="1.3"/>
<line x1="247.5" y1="405.5" x2="247.5" y2="478.5" stroke="#161616" stroke-width="1.0"/>
<line x1="222.5" y1="448.5" x2="294.5" y2="448.5" stroke="#161616" stroke-width="1.0"/>
<text x="258.5" y="401.9" font-size="9.8" font-weight="bold" text-anchor="middle" fill="#161616" stroke="#161616" stroke-width="0.2">DMSO</text>
<text x="224.9" y="414.7" font-size="8.2" font-weight="normal" text-anchor="start" fill="#3a3a3a" stroke="#3a3a3a" stroke-width="0.2">0.2</text>
<text x="279.6" y="414.7" font-size="8.2" font-weight="normal" text-anchor="start" fill="#3a3a3a" stroke="#3a3a3a" stroke-width="0.2">0.8</text>
<text x="224.9" y="475.1" font-size="8.2" font-weight="normal" text-anchor="start" fill="#3a3a3a" stroke="#3a3a3a" stroke-width="0.2">57</text>
<text x="279.6" y="475.1" font-size="8.2" font-weight="normal" text-anchor="start" fill="#3a3a3a" stroke="#3a3a3a" stroke-width="0.2">42</text>
<text x="210.6" y="414.9" font-size="7.2" font-weight="bold" text-anchor="start" fill="#161616" stroke="#161616" stroke-width="0.28">10<tspan dy="-2.74" font-size="3.96">5</tspan></text>
<text x="210.6" y="475.6" font-size="7.2" font-weight="bold" text-anchor="start" fill="#161616" stroke="#161616" stroke-width="0.28">10<tspan dy="-2.74" font-size="3.96">1</tspan></text>
<text x="223.1" y="486.2" font-size="7.2" font-weight="bold" text-anchor="start" fill="#161616" stroke="#161616" stroke-width="0.28">10<tspan dy="-2.74" font-size="3.96">1</tspan></text>
<text x="284.0" y="486.2" font-size="7.2" font-weight="bold" text-anchor="start" fill="#161616" stroke="#161616" stroke-width="0.28">10<tspan dy="-2.74" font-size="3.96">5</tspan></text>
<text x="259.0" y="493.7" font-size="7.6" font-weight="bold" text-anchor="middle" fill="#161616" stroke="#161616" stroke-width="0.28">EdU</text>
<text x="217.3" y="441.7" font-size="7.8" font-weight="bold" text-anchor="middle" fill="#161616" stroke="#161616" stroke-width="0.28" transform="rotate(-90 217.3 441.7)"><tspan font-size="6.6" dy="1.3">γ</tspan><tspan dy="-1.3">H2AX</tspan></text>
<ellipse cx="362" cy="446" rx="10" ry="7" fill="#9fb6ea" opacity="0.35" filter="url(#b3)" transform="rotate(-35 362 446)"/>
<path d="M356.6 447.5h0.8M343.1 450.0h0.8M352.2 453.9h0.8M354.7 452.1h0.8M354.2 434.7h0.8M358.0 454.6h0.8M352.4 450.0h0.8M351.3 441.2h0.8M372.7 436.5h0.8M359.7 441.8h0.8M370.4 446.7h0.8M368.1 446.6h0.8M365.7 451.1h0.8M359.6 445.9h0.8M359.7 438.7h0.8M338.6 462.7h0.8M355.1 442.7h0.8M351.1 443.3h0.8M350.0 451.8h0.8M359.5 450.8h0.8M357.2 450.7h0.8M359.3 440.3h0.8M340.8 451.1h0.8M352.4 445.4h0.8M371.3 433.5h0.8M357.4 440.9h0.8M357.6 437.4h0.8M364.0 443.7h0.8M349.3 442.6h0.8M367.3 436.5h0.8M360.1 428.0h0.8M352.1 461.9h0.8M370.0 439.1h0.8M365.7 445.7h0.8M353.6 449.3h0.8M343.0 445.3h0.8M359.2 450.3h0.8M353.6 440.0h0.8M362.9 443.7h0.8M361.0 442.2h0.8M357.1 453.7h0.8M363.2 434.6h0.8M350.3 457.1h0.8M359.0 445.7h0.8M351.4 456.7h0.8M358.2 447.3h0.8M357.5 442.6h0.8M359.5 445.9h0.8M362.8 445.8h0.8M343.9 449.2h0.8M357.4 454.3h0.8M354.3 455.9h0.8M367.1 446.7h0.8M373.6 436.8h0.8M362.2 451.9h0.8M362.2 450.4h0.8M359.3 455.0h0.8M353.1 435.6h0.8M363.9 441.2h0.8M348.2 449.5h0.8M357.3 454.3h0.8M358.4 445.2h0.8M353.2 442.5h0.8M349.6 447.5h0.8M350.8 442.1h0.8M355.9 454.1h0.8M359.6 445.0h0.8M358.0 444.3h0.8M349.4 457.0h0.8M375.1 439.6h0.8M368.8 456.7h0.8M348.1 455.3h0.8M352.5 447.2h0.8M342.8 454.1h0.8M354.4 437.0h0.8M352.8 445.5h0.8M350.1 454.9h0.8M370.1 441.8h0.8M366.4 446.4h0.8M357.3 450.4h0.8M365.1 438.9h0.8M350.8 440.6h0.8M339.1 451.3h0.8M364.1 444.9h0.8M362.0 452.7h0.8M346.3 462.2h0.8M359.0 450.7h0.8M364.4 436.6h0.8M350.4 453.1h0.8M353.9 444.3h0.8M352.9 443.9h0.8M356.0 444.5h0.8M366.2 434.0h0.8M360.8 444.8h0.8M365.5 434.9h0.8M357.6 458.1h0.8M349.8 448.1h0.8M350.1 443.8h0.8M370.1 449.4h0.8M352.6 443.9h0.8M347.4 456.6h0.8M353.5 452.3h0.8M335.9 455.8h0.8M362.2 446.4h0.8M334.5 461.5h0.8M357.0 446.4h0.8M352.1 446.3h0.8M358.7 449.1h0.8M331.3 461.3h0.8M362.7 441.7h0.8M362.8 436.7h0.8M373.9 443.4h0.8M361.1 463.1h0.8M372.0 448.7h0.8M346.4 451.9h0.8M362.9 450.4h0.8M352.8 440.0h0.8M365.1 440.7h0.8M358.5 443.4h0.8M351.1 440.5h0.8M359.4 440.8h0.8M343.4 457.2h0.8M358.6 452.2h0.8M358.9 437.1h0.8M354.7 447.9h0.8M353.6 441.2h0.8M359.5 451.8h0.8M370.1 449.0h0.8M354.5 430.7h0.8M352.3 445.5h0.8M337.9 468.1h0.8M363.2 442.9h0.8M360.3 447.9h0.8M358.4 455.1h0.8M372.8 443.0h0.8M352.4 450.9h0.8M365.8 446.3h0.8M353.5 455.1h0.8M363.4 446.8h0.8M352.7 448.8h0.8M341.0 455.5h0.8M351.7 447.5h0.8M352.9 446.7h0.8M357.0 447.2h0.8M350.9 449.1h0.8M356.8 450.0h0.8M358.4 443.2h0.8M344.7 442.4h0.8M347.5 454.8h0.8M353.6 459.5h0.8M353.7 445.8h0.8M353.2 445.0h0.8M351.3 450.2h0.8M345.1 454.3h0.8M352.6 442.8h0.8M365.1 444.3h0.8M362.5 438.7h0.8M342.8 446.6h0.8M338.1 444.4h0.8M366.9 437.5h0.8M356.0 443.4h0.8M359.6 455.8h0.8M339.5 449.8h0.8M354.4 441.8h0.8M365.3 450.6h0.8M365.2 446.9h0.8M357.7 452.9h0.8M346.2 444.6h0.8M353.2 446.9h0.8M362.7 436.5h0.8M362.7 437.9h0.8M341.1 444.0h0.8M351.5 439.8h0.8M357.8 446.3h0.8M347.2 439.0h0.8M353.3 451.7h0.8M344.1 458.6h0.8M354.6 444.2h0.8M359.5 449.5h0.8M353.6 443.2h0.8M360.2 440.0h0.8M361.7 450.4h0.8M371.0 449.3h0.8M364.5 443.2h0.8M355.0 448.9h0.8M369.0 460.0h0.8M358.7 439.8h0.8M363.2 432.0h0.8M360.1 435.9h0.8M346.0 449.4h0.8M349.8 441.4h0.8M360.5 443.7h0.8M363.5 435.7h0.8M343.9 458.7h0.8M357.2 453.1h0.8M334.0 451.2h0.8M362.5 456.7h0.8M340.7 442.8h0.8M356.7 456.3h0.8M364.4 432.9h0.8M345.8 440.3h0.8M346.6 445.9h0.8M362.7 450.9h0.8M373.6 434.4h0.8M363.1 444.5h0.8M362.7 456.4h0.8M366.2 451.9h0.8M360.9 450.1h0.8M359.7 444.2h0.8M349.4 448.1h0.8M355.0 445.0h0.8M351.3 444.9h0.8M362.0 441.9h0.8M354.5 446.4h0.8M364.7 438.3h0.8M364.5 436.2h0.8M369.8 443.3h0.8M353.5 451.6h0.8M362.1 437.0h0.8M355.2 449.6h0.8" stroke="#8fa9e6" stroke-width="0.8" opacity="0.65" fill="none" filter="url(#b0)"/>
<path d="M331.6 435.5h0.8M332.0 440.8h0.8M333.4 451.2h0.8M331.4 464.2h0.8M331.4 453.9h0.8M331.8 425.1h0.8M331.2 435.0h0.8M333.9 420.1h0.8M330.9 436.9h0.8M333.2 441.6h0.8M333.5 436.6h0.8M331.6 448.8h0.8M335.1 441.4h0.8M332.3 430.4h0.8M335.8 441.6h0.8M333.1 423.8h0.8M333.1 459.7h0.8M331.7 436.2h0.8M334.8 436.4h0.8M333.5 455.3h0.8M329.9 430.7h0.8M333.2 439.1h0.8M332.1 436.6h0.8M332.2 441.2h0.8M331.1 435.6h0.8M332.4 428.4h0.8M332.8 418.5h0.8M333.2 437.0h0.8M329.9 450.0h0.8M329.9 456.4h0.8M330.7 448.8h0.8M331.9 452.4h0.8M331.6 447.2h0.8M331.4 421.3h0.8M332.7 442.3h0.8M332.7 452.9h0.8M330.7 425.3h0.8M332.5 431.9h0.8M331.8 438.0h0.8M330.5 447.8h0.8M331.8 454.0h0.8M332.5 447.5h0.8M331.5 432.2h0.8M331.1 430.2h0.8M332.8 439.3h0.8M330.1 424.3h0.8M330.5 421.8h0.8M330.4 424.5h0.8M333.3 427.7h0.8M331.0 437.0h0.8M332.1 441.8h0.8M333.4 443.8h0.8M331.4 449.2h0.8M332.7 431.7h0.8M334.7 427.5h0.8M332.9 449.2h0.8M332.2 441.1h0.8M332.2 444.0h0.8M332.4 438.1h0.8M333.3 421.1h0.8M332.5 435.3h0.8M335.5 440.6h0.8M330.8 443.9h0.8M331.3 427.5h0.8M331.5 442.5h0.8M334.1 447.4h0.8M332.4 436.6h0.8M332.4 448.8h0.8M331.8 448.4h0.8M330.6 437.9h0.8M333.4 444.3h0.8M332.4 433.4h0.8M328.8 434.1h0.8M330.5 434.4h0.8M334.8 431.2h0.8M333.5 437.9h0.8M330.0 439.0h0.8M333.3 427.5h0.8M329.9 434.6h0.8M333.3 432.7h0.8" stroke="#a9bdee" stroke-width="0.8" opacity="0.5" fill="none" filter="url(#b0)"/>
<path d="M372.9 440.7h0.8M371.1 440.6h0.8M376.7 435.5h0.8M372.5 428.6h0.8M367.8 436.2h0.8M374.6 431.7h0.8M364.8 444.3h0.8M381.6 416.6h0.8M366.3 438.0h0.8M373.2 429.5h0.8M372.5 445.7h0.8M369.8 442.8h0.8M371.6 429.7h0.8M368.3 432.2h0.8M376.9 446.2h0.8M372.1 424.7h0.8M368.9 433.8h0.8M362.5 436.9h0.8M372.3 426.6h0.8M369.1 433.4h0.8M379.2 442.3h0.8M374.4 437.7h0.8M365.4 444.3h0.8M368.0 421.8h0.8M374.2 434.3h0.8M371.0 441.1h0.8M370.0 440.3h0.8M376.7 434.5h0.8M369.5 437.2h0.8M373.9 433.9h0.8M371.4 431.6h0.8M370.7 441.3h0.8M367.4 435.6h0.8M364.6 431.5h0.8M371.4 441.2h0.8M366.5 436.2h0.8M366.9 439.5h0.8M372.2 440.5h0.8M370.1 425.8h0.8M368.6 426.4h0.8M368.0 436.6h0.8M375.8 431.9h0.8M367.6 438.6h0.8M361.9 452.7h0.8M364.2 445.0h0.8M375.3 444.6h0.8M370.6 442.8h0.8M369.5 444.6h0.8M368.1 430.6h0.8M372.7 433.4h0.8M374.0 430.2h0.8M372.2 429.3h0.8M370.6 453.9h0.8M366.3 427.3h0.8M364.0 435.2h0.8M378.1 433.5h0.8M375.1 435.6h0.8M368.2 452.8h0.8M375.7 422.5h0.8M366.7 440.3h0.8M373.9 435.3h0.8M372.4 441.3h0.8M369.5 444.9h0.8M367.3 443.0h0.8M375.0 438.6h0.8M369.5 436.9h0.8M361.3 439.0h0.8M364.8 421.1h0.8M374.3 429.8h0.8M372.6 437.4h0.8M363.3 429.9h0.8M369.8 440.7h0.8M371.3 427.1h0.8M368.7 437.8h0.8M365.5 433.5h0.8M368.6 420.3h0.8M378.5 443.9h0.8M369.0 444.5h0.8M366.5 449.1h0.8M369.4 438.1h0.8M368.5 437.7h0.8M372.4 437.3h0.8M367.4 443.0h0.8M373.4 437.0h0.8M375.6 431.2h0.8M376.6 435.8h0.8M377.6 433.5h0.8M369.9 438.7h0.8M375.8 448.4h0.8M369.0 431.3h0.8M374.3 446.8h0.8M374.1 434.4h0.8M376.6 436.8h0.8M371.7 441.9h0.8M368.5 419.2h0.8M372.0 442.6h0.8M372.9 441.3h0.8M371.7 445.2h0.8M371.5 448.8h0.8M371.2 443.3h0.8M368.6 439.4h0.8M372.9 438.1h0.8M377.7 437.4h0.8M375.9 439.8h0.8M375.8 429.9h0.8M369.4 444.6h0.8M367.4 440.1h0.8M373.5 438.5h0.8M372.9 441.3h0.8M370.0 440.3h0.8M368.8 433.5h0.8M364.1 436.2h0.8M363.6 437.2h0.8M371.9 428.4h0.8M371.3 439.3h0.8M369.5 429.8h0.8M370.5 440.2h0.8M375.0 452.3h0.8M362.4 439.7h0.8M372.9 432.0h0.8M372.4 453.5h0.8M371.5 447.8h0.8M375.6 433.5h0.8M360.9 446.2h0.8M377.7 423.1h0.8M370.1 431.5h0.8M371.9 437.5h0.8M376.0 432.4h0.8M379.4 423.5h0.8M372.0 458.1h0.8M370.6 442.0h0.8M369.0 463.1h0.8M374.9 434.2h0.8M362.7 438.7h0.8M374.2 420.9h0.8M368.9 441.4h0.8M360.5 435.5h0.8M364.1 426.4h0.8M372.8 446.0h0.8M376.1 431.8h0.8M373.2 423.0h0.8M364.6 441.3h0.8M369.3 429.0h0.8M362.9 435.2h0.8M380.7 421.1h0.8M366.5 445.9h0.8M362.7 432.1h0.8M371.3 446.0h0.8M370.7 451.4h0.8M370.9 436.1h0.8M372.9 439.8h0.8M364.5 429.5h0.8M370.0 439.7h0.8M365.7 431.3h0.8M367.8 439.7h0.8M369.1 441.8h0.8M372.7 429.8h0.8M369.7 427.2h0.8M371.5 443.4h0.8M366.7 423.0h0.8M373.3 434.7h0.8M370.9 440.6h0.8M372.7 444.3h0.8M369.0 419.5h0.8M368.9 434.6h0.8M369.2 440.1h0.8M369.9 447.3h0.8M368.2 436.9h0.8M369.4 453.8h0.8M366.8 429.1h0.8M369.3 443.1h0.8M371.1 435.6h0.8M364.6 420.5h0.8M370.1 435.1h0.8M378.7 440.0h0.8M372.9 444.7h0.8M367.1 427.2h0.8M369.4 448.8h0.8M375.3 432.4h0.8M365.6 444.4h0.8M375.8 428.3h0.8M378.0 430.8h0.8M374.3 435.4h0.8M369.6 432.1h0.8M374.0 441.9h0.8M374.5 434.8h0.8M367.3 454.1h0.8M378.5 435.5h0.8M366.0 448.9h0.8M371.6 437.5h0.8M374.7 439.8h0.8M371.5 452.8h0.8M362.7 442.1h0.8M366.7 437.6h0.8M370.3 439.1h0.8M360.4 442.5h0.8M381.3 433.7h0.8M375.0 442.0h0.8M372.3 433.0h0.8M373.8 439.2h0.8M377.4 443.6h0.8M367.9 413.8h0.8M377.7 440.9h0.8M371.8 432.2h0.8M382.1 447.7h0.8M371.4 434.1h0.8M373.5 447.8h0.8M373.3 444.5h0.8M372.2 439.8h0.8M365.4 438.0h0.8M371.2 436.4h0.8M369.9 439.4h0.8M368.4 435.4h0.8M365.2 455.4h0.8M367.1 427.4h0.8M368.6 433.7h0.8M366.2 417.5h0.8M378.3 445.1h0.8M369.3 441.5h0.8M366.1 424.1h0.8M372.5 441.6h0.8M368.0 437.0h0.8M357.3 436.0h0.8M375.7 438.4h0.8M371.8 441.6h0.8M361.7 426.7h0.8M365.3 438.9h0.8M368.2 422.0h0.8M375.0 435.5h0.8M375.4 453.0h0.8M363.6 426.8h0.8M375.8 448.2h0.8M372.8 439.9h0.8M374.1 442.2h0.8M365.3 442.9h0.8M375.4 433.8h0.8M366.9 433.1h0.8M368.4 441.2h0.8M374.5 437.2h0.8M369.6 422.9h0.8M369.1 429.1h0.8M368.5 439.7h0.8M371.7 464.9h0.8M367.1 432.7h0.8M365.9 435.0h0.8M369.7 445.0h0.8M362.3 444.3h0.8M373.9 432.8h0.8M367.9 438.6h0.8M373.3 435.7h0.8M370.3 437.1h0.8M366.2 439.2h0.8M373.6 437.4h0.8M365.9 437.0h0.8M370.5 439.5h0.8M369.1 443.6h0.8M375.8 443.6h0.8M372.0 446.7h0.8M370.8 435.7h0.8M364.6 437.2h0.8" stroke="#6f9fe0" stroke-width="0.8" opacity="0.75" fill="none" filter="url(#b0)"/>
<g filter="url(#b1)"><path d="M329 458.5 C345 459.5 358 458.5 368 454" fill="none" stroke="#86a3e6" stroke-width="7.5" stroke-linecap="round"/><path d="M360 458.5 L377.5 453 L378.5 436 L374 437.5 C371 446 367 449 360 453Z" fill="#7d9fe4"/><path d="M331 459.3 C345 460.3 358 459 368 455" fill="none" stroke="#3f86d6" stroke-width="3.2" stroke-linecap="round"/><path d="M362 457 L376.5 452 L377.5 440 L374.5 441 C372 448 368 451 362 454Z" fill="#3f86d6"/><path d="M366 454.5 C371 452 374 449 375.5 443" fill="none" stroke="#35a8d4" stroke-width="4" stroke-linecap="round"/><ellipse cx="374.6" cy="447.6" rx="2.6" ry="3.4" fill="#6fd05a"/><ellipse cx="332" cy="458" rx="3.8" ry="3.8" fill="#35b0cf"/><ellipse cx="331.6" cy="458.8" rx="2.5" ry="2.4" fill="#8fd84a"/></g>
<path d="M358.4 455.4h0.8M355.4 455.0h0.8M352.1 458.7h0.8M350.3 455.1h0.8M352.0 456.3h0.8M355.5 455.9h0.8M337.9 455.9h0.8M354.1 457.7h0.8M351.9 456.5h0.8M354.7 456.3h0.8M346.8 456.8h0.8M357.6 455.9h0.8M353.4 455.7h0.8M344.9 456.7h0.8M340.7 455.5h0.8M341.7 455.8h0.8M343.6 459.3h0.8M354.2 456.6h0.8M340.7 453.7h0.8M353.0 455.8h0.8M357.2 456.0h0.8M340.9 455.8h0.8M339.3 454.8h0.8M354.9 455.9h0.8M354.8 455.8h0.8M348.3 455.9h0.8M346.2 455.7h0.8M360.3 456.4h0.8M336.4 458.5h0.8M358.7 457.8h0.8M349.2 456.3h0.8M346.6 456.6h0.8M353.2 456.5h0.8M344.2 455.4h0.8M361.5 458.5h0.8M341.3 455.8h0.8M349.7 457.2h0.8M349.1 456.8h0.8M352.5 457.8h0.8M340.9 457.8h0.8M353.0 457.1h0.8M339.4 456.2h0.8M348.1 457.3h0.8M354.7 457.3h0.8M340.9 458.0h0.8M350.4 457.6h0.8M349.9 455.7h0.8M368.2 457.3h0.8M355.2 456.0h0.8M348.4 457.8h0.8M353.0 458.5h0.8M358.3 455.2h0.8M339.2 457.9h0.8M354.1 456.2h0.8M347.9 455.9h0.8M362.4 456.3h0.8M340.3 457.6h0.8M349.3 456.9h0.8M347.2 456.5h0.8M336.8 457.1h0.8M345.1 456.1h0.8M352.1 458.0h0.8M334.9 456.3h0.8M353.7 457.7h0.8M343.6 456.9h0.8M352.7 457.6h0.8M345.6 456.3h0.8M346.3 457.8h0.8M357.5 456.0h0.8M348.9 456.8h0.8M343.6 456.4h0.8M355.9 457.4h0.8M345.1 455.8h0.8M349.1 454.8h0.8M352.1 456.6h0.8M340.6 456.2h0.8M345.3 456.2h0.8M343.8 458.1h0.8M343.2 457.4h0.8M351.3 458.2h0.8" stroke="#c4d2f4" stroke-width="0.8" opacity="0.8" fill="none" filter="url(#b0)"/>
<rect x="313.5" y="405.5" width="72.0" height="73.0" fill="none" stroke="#161616" stroke-width="1.3"/>
<line x1="338.5" y1="405.5" x2="338.5" y2="478.5" stroke="#161616" stroke-width="1.0"/>
<line x1="313.5" y1="448.5" x2="385.5" y2="448.5" stroke="#161616" stroke-width="1.0"/>
<text x="352.5" y="401.9" font-size="9.8" font-weight="bold" text-anchor="middle" fill="#161616" stroke="#161616" stroke-width="0.2">LY2603618</text>
<text x="317.5" y="414.7" font-size="8.2" font-weight="normal" text-anchor="start" fill="#3a3a3a" stroke="#3a3a3a" stroke-width="0.2">0.3</text>
<text x="367.6" y="414.7" font-size="8.2" font-weight="normal" text-anchor="start" fill="#3a3a3a" stroke="#3a3a3a" stroke-width="0.2">20</text>
<text x="317.5" y="475.1" font-size="8.2" font-weight="normal" text-anchor="start" fill="#3a3a3a" stroke="#3a3a3a" stroke-width="0.2">60.6</text>
<text x="367.6" y="475.1" font-size="8.2" font-weight="normal" text-anchor="start" fill="#3a3a3a" stroke="#3a3a3a" stroke-width="0.2">19.1</text>
<text x="301.6" y="414.9" font-size="7.2" font-weight="bold" text-anchor="start" fill="#161616" stroke="#161616" stroke-width="0.28">10<tspan dy="-2.74" font-size="3.96">5</tspan></text>
<text x="301.6" y="475.6" font-size="7.2" font-weight="bold" text-anchor="start" fill="#161616" stroke="#161616" stroke-width="0.28">10<tspan dy="-2.74" font-size="3.96">1</tspan></text>
<text x="314.1" y="486.2" font-size="7.2" font-weight="bold" text-anchor="start" fill="#161616" stroke="#161616" stroke-width="0.28">10<tspan dy="-2.74" font-size="3.96">1</tspan></text>
<text x="375.0" y="486.2" font-size="7.2" font-weight="bold" text-anchor="start" fill="#161616" stroke="#161616" stroke-width="0.28">10<tspan dy="-2.74" font-size="3.96">5</tspan></text>
<text x="350.0" y="493.7" font-size="7.6" font-weight="bold" text-anchor="middle" fill="#161616" stroke="#161616" stroke-width="0.28">EdU</text>
<text x="308.3" y="441.7" font-size="7.8" font-weight="bold" text-anchor="middle" fill="#161616" stroke="#161616" stroke-width="0.28" transform="rotate(-90 308.3 441.7)"><tspan font-size="6.6" dy="1.3">γ</tspan><tspan dy="-1.3">H2AX</tspan></text>
<ellipse cx="43.2" cy="558" rx="1.6" ry="11" fill="#9fb6ea" opacity="0.5" filter="url(#b1)" transform="rotate(0 43.2 558)"/>
<path d="M61.0 571.0h0.8M62.7 566.3h0.8M57.4 568.2h0.8M59.8 575.0h0.8M51.2 572.1h0.8M76.2 573.4h0.8M56.1 566.7h0.8M67.4 572.4h0.8M57.2 570.0h0.8M86.2 567.1h0.8M54.6 569.5h0.8M39.9 569.3h0.8M50.6 574.1h0.8M37.4 567.6h0.8M65.4 567.2h0.8M33.8 569.5h0.8M44.9 568.6h0.8M59.5 572.2h0.8M52.7 570.3h0.8M71.7 570.7h0.8M72.0 569.6h0.8M68.6 574.2h0.8M42.4 578.4h0.8M57.2 570.2h0.8M59.5 572.2h0.8M44.9 571.1h0.8M53.6 574.6h0.8M37.6 572.6h0.8M57.3 569.2h0.8M63.7 570.4h0.8M62.3 571.6h0.8M78.5 570.0h0.8M85.1 564.4h0.8M87.2 574.0h0.8M83.6 571.5h0.8M65.7 568.5h0.8M80.4 568.2h0.8M50.6 571.0h0.8M65.0 571.9h0.8M45.5 570.2h0.8M68.6 574.0h0.8M72.4 572.1h0.8M58.1 569.7h0.8M54.6 570.8h0.8M69.1 569.8h0.8M90.5 568.6h0.8M73.1 570.5h0.8M59.8 570.1h0.8M83.2 570.3h0.8M69.4 571.3h0.8M72.2 572.5h0.8M84.8 569.2h0.8M50.3 575.2h0.8M79.5 571.2h0.8M57.7 571.7h0.8M79.9 569.2h0.8M82.0 570.9h0.8M56.7 570.1h0.8M32.5 571.8h0.8M43.4 569.7h0.8M49.2 571.6h0.8M71.8 571.1h0.8M64.4 572.0h0.8M84.2 572.5h0.8M83.6 570.9h0.8M66.7 569.4h0.8M70.0 568.9h0.8M68.3 569.5h0.8M56.8 574.0h0.8M63.8 573.0h0.8M58.4 566.5h0.8M82.3 570.6h0.8M52.7 573.4h0.8M45.9 569.2h0.8M77.7 569.3h0.8M77.5 570.3h0.8M58.8 571.2h0.8M54.8 573.7h0.8M77.0 571.2h0.8M70.2 572.4h0.8M85.2 567.2h0.8M76.0 573.3h0.8M57.4 571.1h0.8M56.9 574.1h0.8M45.8 572.5h0.8M79.7 572.4h0.8M55.1 569.9h0.8M32.2 568.5h0.8M77.0 568.7h0.8M38.9 570.4h0.8M41.0 572.2h0.8M49.6 573.4h0.8M60.1 567.6h0.8M51.0 569.5h0.8M50.0 574.1h0.8M47.8 571.9h0.8M53.6 572.5h0.8M41.8 567.2h0.8M68.9 574.5h0.8M42.5 570.3h0.8M54.7 568.8h0.8M75.3 571.2h0.8M42.4 570.5h0.8M80.4 569.3h0.8M54.6 569.0h0.8M64.0 569.7h0.8M74.2 569.0h0.8M41.4 572.1h0.8M65.7 571.6h0.8M53.7 570.0h0.8M69.0 580.2h0.8M50.5 570.6h0.8M55.4 572.4h0.8M61.9 572.4h0.8M84.6 570.4h0.8M57.7 572.0h0.8M91.1 570.2h0.8M85.4 573.9h0.8M48.1 572.0h0.8M80.3 571.2h0.8M64.0 576.4h0.8M66.7 576.3h0.8M49.3 575.1h0.8M54.7 565.1h0.8M50.2 569.9h0.8M61.2 572.9h0.8M71.4 572.3h0.8M51.3 575.4h0.8M78.5 571.1h0.8M53.8 570.9h0.8M58.7 569.3h0.8M61.6 569.4h0.8M70.8 569.4h0.8M68.6 571.8h0.8M64.1 572.3h0.8M47.4 577.4h0.8M52.1 572.8h0.8M62.1 570.0h0.8M86.1 573.7h0.8M58.0 572.4h0.8M71.4 574.9h0.8M76.0 570.6h0.8M58.3 568.2h0.8M65.5 573.2h0.8M56.4 572.7h0.8M63.7 569.9h0.8M44.8 573.8h0.8M46.7 568.5h0.8M65.3 572.6h0.8M83.1 565.1h0.8M87.7 571.4h0.8M63.7 572.0h0.8M56.9 570.3h0.8M76.6 566.8h0.8M60.2 572.4h0.8M38.8 570.6h0.8M83.2 572.0h0.8M71.7 572.8h0.8M64.9 571.9h0.8M50.5 570.5h0.8M87.7 568.0h0.8M59.5 567.9h0.8M54.4 569.1h0.8M44.7 571.6h0.8M48.6 572.3h0.8M87.1 564.7h0.8M59.5 565.9h0.8M60.1 572.0h0.8M64.8 574.0h0.8M64.1 566.8h0.8M82.9 568.7h0.8M60.6 571.8h0.8M49.6 571.3h0.8M82.8 566.9h0.8M38.6 569.9h0.8M59.5 567.9h0.8M29.6 573.3h0.8M67.4 567.8h0.8M69.9 570.9h0.8M64.1 567.7h0.8M58.8 572.2h0.8M37.4 568.4h0.8M75.5 576.0h0.8M71.2 570.9h0.8M46.7 570.0h0.8M58.4 572.1h0.8M58.3 577.2h0.8M80.5 565.6h0.8M45.5 571.0h0.8M75.7 572.0h0.8M80.8 572.5h0.8M68.4 574.8h0.8M55.7 569.7h0.8M47.7 571.6h0.8M68.1 573.4h0.8M82.2 572.6h0.8M79.2 570.4h0.8M48.4 572.8h0.8M76.2 574.4h0.8M59.6 569.9h0.8M56.8 571.9h0.8M61.3 570.6h0.8M65.5 570.3h0.8M66.7 569.5h0.8M40.3 570.3h0.8M88.5 569.0h0.8M74.8 574.4h0.8M54.3 571.7h0.8M29.9 572.4h0.8M83.5 571.5h0.8M34.1 569.6h0.8M51.5 571.3h0.8M66.0 570.0h0.8M57.6 569.0h0.8M70.0 571.5h0.8M66.8 569.8h0.8M68.9 570.3h0.8M66.1 570.6h0.8M52.7 568.3h0.8M35.8 567.6h0.8M68.4 579.1h0.8M38.9 569.0h0.8M61.8 579.9h0.8M59.1 568.1h0.8M67.9 576.2h0.8M79.3 568.1h0.8M60.5 569.4h0.8M72.7 567.4h0.8M66.3 571.6h0.8M69.9 572.1h0.8M64.1 566.6h0.8M57.4 568.7h0.8M69.4 570.4h0.8" stroke="#7d9de3" stroke-width="0.8" opacity="0.8" fill="none" filter="url(#b0)"/>
<path d="M43.4 564.6h0.8M43.0 569.7h0.8M44.5 542.2h0.8M42.3 565.6h0.8M42.4 565.4h0.8M42.4 554.0h0.8M44.7 541.4h0.8M43.3 551.1h0.8M43.5 569.9h0.8M43.9 543.3h0.8M44.6 551.1h0.8M43.4 565.1h0.8M42.7 563.4h0.8M43.5 547.2h0.8M42.7 543.3h0.8M45.0 556.5h0.8M44.7 545.4h0.8M44.5 544.7h0.8M43.6 554.9h0.8M42.3 557.7h0.8M43.3 547.5h0.8M42.1 543.7h0.8M45.3 556.3h0.8M42.7 561.0h0.8M41.9 544.9h0.8M43.7 568.8h0.8M43.7 556.4h0.8M45.8 541.6h0.8M47.8 545.4h0.8M43.1 543.3h0.8M41.4 552.9h0.8M46.9 546.8h0.8M42.3 557.4h0.8M41.7 552.8h0.8M44.4 536.0h0.8M42.7 552.5h0.8M42.4 554.0h0.8M40.5 551.2h0.8M42.4 546.1h0.8M45.1 572.4h0.8M44.4 547.5h0.8M45.3 559.4h0.8M42.0 560.3h0.8M42.3 560.0h0.8M44.6 565.1h0.8M41.6 553.9h0.8M43.2 544.4h0.8M43.8 561.0h0.8M41.1 550.2h0.8M41.5 543.9h0.8M41.6 567.0h0.8M42.2 551.6h0.8M44.7 563.9h0.8M45.3 536.9h0.8M44.3 539.7h0.8M42.2 551.4h0.8M42.3 572.1h0.8M42.9 565.2h0.8M42.9 554.5h0.8M44.0 558.9h0.8M44.0 539.9h0.8M44.0 557.8h0.8M44.1 554.5h0.8M43.8 543.6h0.8M44.9 544.4h0.8M45.3 563.8h0.8M43.1 552.4h0.8M44.4 552.3h0.8M41.4 557.4h0.8M41.4 551.0h0.8M45.9 562.1h0.8M42.5 554.4h0.8M42.2 554.9h0.8M41.0 561.0h0.8M43.2 549.7h0.8M42.3 578.0h0.8M42.5 550.8h0.8M42.3 550.7h0.8M45.2 560.9h0.8M43.8 558.2h0.8M41.5 533.9h0.8M45.5 561.3h0.8M43.5 557.4h0.8M43.5 555.2h0.8M42.8 535.5h0.8M44.1 555.4h0.8M44.7 557.7h0.8M42.8 560.3h0.8M43.5 551.1h0.8M42.6 551.3h0.8M42.8 551.1h0.8M44.7 580.5h0.8M43.0 564.8h0.8M40.2 526.7h0.8M42.5 553.6h0.8M42.1 543.1h0.8M41.9 550.5h0.8M43.4 552.1h0.8M41.4 551.8h0.8M45.5 547.3h0.8M43.3 563.8h0.8M42.0 550.0h0.8M47.5 565.8h0.8M42.4 556.4h0.8M43.4 556.3h0.8M43.9 552.4h0.8M39.9 546.6h0.8M43.4 543.0h0.8M42.7 568.2h0.8M43.6 549.3h0.8M43.4 564.2h0.8M40.6 544.1h0.8M42.2 551.2h0.8M43.1 549.9h0.8M43.4 555.8h0.8M41.5 549.5h0.8M41.3 557.5h0.8M43.6 560.7h0.8M41.9 550.3h0.8M39.9 555.1h0.8M40.8 558.0h0.8M44.8 558.9h0.8M44.1 557.0h0.8M43.8 563.2h0.8M45.1 572.7h0.8M42.8 562.3h0.8M44.5 558.7h0.8M43.6 543.9h0.8M44.8 547.3h0.8M42.2 547.5h0.8M44.0 546.5h0.8M43.9 559.9h0.8M43.4 552.0h0.8M44.1 566.5h0.8M42.5 545.8h0.8M42.3 547.3h0.8M42.8 553.6h0.8M39.8 567.8h0.8M42.0 551.3h0.8M40.3 537.8h0.8M41.7 557.0h0.8M44.5 539.2h0.8M43.5 568.2h0.8M42.8 563.0h0.8M43.7 546.9h0.8M44.7 549.7h0.8M43.7 551.5h0.8M42.9 556.3h0.8M45.2 540.3h0.8M41.5 555.9h0.8M44.7 553.4h0.8M42.9 559.6h0.8M45.6 547.1h0.8M40.8 552.5h0.8M44.3 543.5h0.8M44.9 563.2h0.8M44.4 547.6h0.8M41.3 560.7h0.8M43.6 561.0h0.8M41.2 529.2h0.8M44.9 563.7h0.8M42.8 554.9h0.8M43.9 561.5h0.8M42.9 550.5h0.8M41.7 563.9h0.8M43.3 525.3h0.8M43.7 550.0h0.8M41.3 550.5h0.8M41.3 551.1h0.8M42.4 559.5h0.8M41.7 539.1h0.8M42.3 543.0h0.8M44.3 553.2h0.8M40.7 547.4h0.8M43.2 554.6h0.8M40.4 553.9h0.8M43.6 563.6h0.8M44.8 553.9h0.8M41.3 551.7h0.8M44.2 547.0h0.8M45.1 546.6h0.8M41.5 562.2h0.8M43.0 557.8h0.8M42.7 555.3h0.8M42.3 571.5h0.8M44.2 553.9h0.8M43.9 562.3h0.8M42.4 556.5h0.8M43.5 550.1h0.8M42.0 553.2h0.8M42.7 551.4h0.8M40.3 555.7h0.8M44.2 555.6h0.8M45.8 562.5h0.8M42.7 549.1h0.8M43.9 551.7h0.8M40.8 556.0h0.8M42.8 553.0h0.8M44.1 556.7h0.8M46.2 548.5h0.8M43.1 557.7h0.8M42.5 550.5h0.8M45.8 542.3h0.8M43.7 539.7h0.8M43.7 538.3h0.8M41.5 564.9h0.8M45.5 556.1h0.8M39.1 563.8h0.8M43.6 545.4h0.8M42.7 543.5h0.8M43.1 554.2h0.8M43.4 561.9h0.8M42.2 535.8h0.8M41.5 544.0h0.8M42.6 551.2h0.8M43.1 566.9h0.8M43.2 545.6h0.8M42.7 547.4h0.8M42.8 560.0h0.8M41.5 561.1h0.8M45.9 568.2h0.8M45.6 555.8h0.8M41.2 572.4h0.8M43.1 557.0h0.8M42.7 546.8h0.8M44.1 542.9h0.8M41.1 559.8h0.8M42.6 547.7h0.8M43.9 567.3h0.8M42.8 553.8h0.8M44.0 563.1h0.8M44.7 560.9h0.8M42.2 559.6h0.8M43.2 540.3h0.8M45.0 560.0h0.8M45.2 554.4h0.8M44.3 554.4h0.8M43.4 562.9h0.8M43.3 560.3h0.8M43.1 565.6h0.8M44.2 540.7h0.8M45.7 558.8h0.8M42.4 549.6h0.8M46.2 555.8h0.8M44.0 560.2h0.8M42.3 570.1h0.8M46.3 548.3h0.8M44.9 540.9h0.8M42.7 555.5h0.8M43.3 559.9h0.8M43.8 558.2h0.8M43.0 557.6h0.8M42.4 572.0h0.8M43.3 565.7h0.8M43.4 553.7h0.8M42.9 543.9h0.8M46.3 558.6h0.8M43.4 551.0h0.8M45.1 552.2h0.8M42.5 550.3h0.8" stroke="#7d9de3" stroke-width="0.8" opacity="0.8" fill="none" filter="url(#b0)"/>
<path d="M45.5 563.2h0.8M43.3 559.5h0.8M45.2 563.1h0.8M43.1 565.4h0.8M44.6 558.2h0.8M45.0 566.2h0.8M43.2 556.9h0.8M44.9 560.7h0.8M43.2 560.9h0.8M43.2 565.2h0.8M42.1 564.0h0.8M45.0 566.0h0.8M44.4 563.0h0.8M43.3 561.5h0.8M42.4 568.4h0.8M43.4 558.1h0.8M44.6 567.8h0.8M43.9 560.8h0.8M42.1 564.5h0.8M43.2 559.5h0.8M44.3 557.1h0.8M44.5 552.7h0.8M42.7 556.6h0.8M43.2 565.1h0.8M41.8 567.2h0.8M42.6 560.2h0.8M44.8 559.2h0.8M45.4 561.2h0.8M43.4 558.3h0.8M45.0 561.8h0.8M42.9 558.4h0.8M42.7 561.6h0.8M42.6 565.0h0.8M43.5 559.7h0.8M44.1 567.4h0.8M40.8 563.4h0.8M44.9 562.5h0.8M44.6 556.1h0.8M42.6 565.8h0.8M43.4 562.2h0.8M44.3 563.4h0.8M44.1 560.1h0.8M43.1 567.0h0.8M42.9 556.5h0.8M43.1 565.4h0.8M45.8 562.6h0.8M42.7 564.3h0.8M43.9 566.5h0.8M44.2 564.9h0.8M44.2 563.6h0.8M42.4 561.4h0.8M45.6 567.1h0.8M44.7 563.5h0.8M43.4 563.3h0.8M43.1 566.1h0.8M43.1 559.1h0.8M41.5 567.9h0.8M42.6 558.7h0.8M44.0 568.8h0.8M44.4 560.7h0.8M44.2 558.9h0.8M43.2 562.1h0.8M43.5 565.0h0.8M44.2 569.2h0.8M44.6 560.9h0.8M43.9 558.8h0.8M42.8 560.7h0.8M44.8 559.4h0.8M41.6 558.2h0.8M42.0 561.3h0.8M43.1 557.6h0.8M42.5 560.4h0.8M44.0 564.3h0.8M45.2 561.0h0.8M44.3 562.3h0.8M42.2 559.6h0.8M46.3 561.4h0.8M45.6 565.1h0.8M45.6 561.3h0.8M44.7 560.9h0.8" stroke="#4f82d6" stroke-width="0.8" opacity="0.8" fill="none" filter="url(#b0)"/>
<path d="M57.4 547.2h0.8M75.5 543.8h0.8M74.7 549.4h0.8M74.5 545.6h0.8M80.3 554.3h0.8M52.6 545.1h0.8M71.2 543.7h0.8M74.2 559.7h0.8M62.8 566.6h0.8M87.2 558.4h0.8M75.7 559.6h0.8M67.4 565.9h0.8M64.2 537.0h0.8M70.7 559.4h0.8M80.0 547.7h0.8M86.6 549.8h0.8M77.8 561.5h0.8M72.5 564.6h0.8M64.7 571.5h0.8M76.2 552.8h0.8M51.6 566.7h0.8M88.4 551.7h0.8M59.0 564.5h0.8M71.1 548.8h0.8M64.9 556.5h0.8M81.9 567.9h0.8M63.3 567.6h0.8M52.9 561.4h0.8M68.9 559.3h0.8M65.4 550.6h0.8M73.8 564.6h0.8M44.8 556.4h0.8M65.8 547.9h0.8M54.9 559.9h0.8M76.9 560.9h0.8M47.4 544.5h0.8M63.4 552.7h0.8M91.0 553.1h0.8M72.0 563.6h0.8M89.9 558.8h0.8M74.5 570.7h0.8M65.8 542.4h0.8M61.8 553.6h0.8M85.7 558.4h0.8M84.5 556.8h0.8M71.0 551.7h0.8M56.2 559.9h0.8M74.7 560.4h0.8M64.3 552.8h0.8M74.9 560.6h0.8M93.6 549.4h0.8M82.0 562.7h0.8M67.5 557.1h0.8M69.9 567.6h0.8M67.5 563.2h0.8M76.2 554.6h0.8M79.2 562.6h0.8M65.9 562.5h0.8M44.5 546.3h0.8M66.9 557.2h0.8M53.6 567.2h0.8M66.1 557.2h0.8M70.0 561.7h0.8M63.8 561.6h0.8M60.9 544.8h0.8M76.5 557.2h0.8M80.7 541.3h0.8M71.8 551.1h0.8M68.3 553.0h0.8M66.2 551.0h0.8M82.4 543.0h0.8M51.1 558.6h0.8M93.9 550.2h0.8M60.0 547.2h0.8M58.7 565.5h0.8M78.4 562.8h0.8M74.5 557.8h0.8M63.8 548.7h0.8" stroke="#a9bdee" stroke-width="0.8" opacity="0.45" fill="none" filter="url(#b0)"/>
<path d="M79.6 575.4h0.8M77.2 570.8h0.8M76.4 566.2h0.8M82.2 565.7h0.8M79.6 563.9h0.8M82.6 561.3h0.8M79.5 565.1h0.8M78.6 567.4h0.8M81.3 569.3h0.8M80.7 567.4h0.8M75.5 571.1h0.8M81.8 567.8h0.8M80.0 565.1h0.8M74.6 569.7h0.8M76.3 573.3h0.8M79.8 565.9h0.8M76.6 566.4h0.8M75.7 564.6h0.8M82.0 564.9h0.8M82.6 565.6h0.8M79.1 562.5h0.8M77.4 564.3h0.8M74.7 573.4h0.8M79.5 565.7h0.8M75.5 566.1h0.8M75.6 562.3h0.8M77.6 574.2h0.8M73.9 568.1h0.8M76.8 555.0h0.8M74.7 565.5h0.8M78.2 563.1h0.8M82.4 568.0h0.8M76.6 559.7h0.8M78.5 563.5h0.8M80.6 562.0h0.8M81.0 564.3h0.8M78.6 565.0h0.8M79.6 570.4h0.8M76.8 562.6h0.8M82.7 569.6h0.8M82.7 569.6h0.8M78.4 572.2h0.8M76.5 564.4h0.8M77.1 568.6h0.8M76.0 565.3h0.8M76.0 565.1h0.8M80.8 570.2h0.8M77.6 575.7h0.8M76.4 567.8h0.8M76.9 557.6h0.8M75.2 570.7h0.8M74.1 577.2h0.8M77.8 567.0h0.8M81.1 566.1h0.8M76.5 563.7h0.8M75.8 568.1h0.8M76.9 568.0h0.8M74.4 564.4h0.8M83.1 567.4h0.8M77.8 570.5h0.8" stroke="#7d9de3" stroke-width="0.8" opacity="0.7" fill="none" filter="url(#b0)"/>
<g filter="url(#b1)"><path d="M41 563 L40.5 575.5 L81 575.5 L81.5 566 C74 569.5 52 571 46 563Z" fill="#86a3e6"/><path d="M41.5 566 L41.5 575 L80.5 575 L80.5 568.5 C72 572.5 52 573.5 45 566Z" fill="#3f74d2"/><path d="M50 573.4 L69 573.4" stroke="#a9bdf0" stroke-width="1.8" opacity=".75"/><ellipse cx="42.8" cy="572" rx="2.6" ry="3.6" fill="#35b0cf"/><ellipse cx="42.6" cy="573.3" rx="1.8" ry="2.2" fill="#7fd85a"/><ellipse cx="77" cy="572" rx="4.4" ry="3.2" fill="#35b0cf"/><ellipse cx="77.5" cy="572.6" rx="3" ry="2.1" fill="#6fd05a"/></g>
<rect x="23.5" y="520.5" width="73.0" height="73.0" fill="none" stroke="#161616" stroke-width="1.3"/>
<line x1="50.5" y1="520.5" x2="50.5" y2="593.5" stroke="#161616" stroke-width="1.0"/>
<line x1="23.5" y1="562.5" x2="96.5" y2="562.5" stroke="#161616" stroke-width="1.0"/>
<text x="60.0" y="516.9" font-size="9.8" font-weight="bold" text-anchor="middle" fill="#161616" stroke="#161616" stroke-width="0.2">DMSO</text>
<text x="26.1" y="529.7" font-size="8.2" font-weight="normal" text-anchor="start" fill="#3a3a3a" stroke="#3a3a3a" stroke-width="0.2">0.4</text>
<text x="80.7" y="529.7" font-size="8.2" font-weight="normal" text-anchor="start" fill="#3a3a3a" stroke="#3a3a3a" stroke-width="0.2">0.2</text>
<text x="26.1" y="590.8" font-size="8.2" font-weight="normal" text-anchor="start" fill="#3a3a3a" stroke="#3a3a3a" stroke-width="0.2">51.4</text>
<text x="80.7" y="590.8" font-size="8.2" font-weight="normal" text-anchor="start" fill="#3a3a3a" stroke="#3a3a3a" stroke-width="0.2">48</text>
<text x="11.6" y="529.9" font-size="7.2" font-weight="bold" text-anchor="start" fill="#161616" stroke="#161616" stroke-width="0.28">10<tspan dy="-2.74" font-size="3.96">5</tspan></text>
<text x="11.6" y="591.9" font-size="7.2" font-weight="bold" text-anchor="start" fill="#161616" stroke="#161616" stroke-width="0.28">10<tspan dy="-2.74" font-size="3.96">1</tspan></text>
<text x="24.1" y="602.3" font-size="7.2" font-weight="bold" text-anchor="start" fill="#161616" stroke="#161616" stroke-width="0.28">10<tspan dy="-2.74" font-size="3.96">1</tspan></text>
<text x="86.0" y="602.3" font-size="7.2" font-weight="bold" text-anchor="start" fill="#161616" stroke="#161616" stroke-width="0.28">10<tspan dy="-2.74" font-size="3.96">5</tspan></text>
<text x="60.5" y="609.5" font-size="7.6" font-weight="bold" text-anchor="middle" fill="#161616" stroke="#161616" stroke-width="0.28">EdU</text>
<text x="18.3" y="556.7" font-size="7.8" font-weight="bold" text-anchor="middle" fill="#161616" stroke="#161616" stroke-width="0.28" transform="rotate(-90 18.3 556.7)"><tspan font-size="6.6" dy="1.3">γ</tspan><tspan dy="-1.3">H2AX</tspan></text>
<path d="M139.2 571.7h0.8M135.9 564.3h0.8M136.1 563.5h0.8M144.3 571.6h0.8M136.6 561.0h0.8M139.6 550.1h0.8M139.1 546.8h0.8M140.8 565.7h0.8M138.2 563.6h0.8M144.1 555.5h0.8M134.2 560.2h0.8M137.5 549.6h0.8M140.7 566.6h0.8M140.0 572.6h0.8M137.1 553.0h0.8M139.6 531.2h0.8M132.2 560.3h0.8M138.1 557.6h0.8M136.3 559.2h0.8M141.0 551.0h0.8M139.9 555.5h0.8M138.2 558.1h0.8M142.1 562.0h0.8M140.2 558.5h0.8M133.5 566.0h0.8M138.5 557.9h0.8M137.4 542.3h0.8M142.0 574.6h0.8M142.2 539.4h0.8M139.8 545.7h0.8M138.1 552.1h0.8M137.1 549.7h0.8M137.4 564.4h0.8M142.3 565.9h0.8M138.5 555.6h0.8M138.0 556.8h0.8M137.1 555.3h0.8M140.5 554.9h0.8M136.6 555.9h0.8M138.8 556.3h0.8M137.9 563.8h0.8M138.4 547.4h0.8M139.9 550.2h0.8M140.4 564.8h0.8M139.7 560.0h0.8M135.4 555.1h0.8M138.8 563.1h0.8M135.9 555.5h0.8M134.9 558.7h0.8M138.7 558.2h0.8M142.4 564.0h0.8M138.1 551.5h0.8M137.5 564.5h0.8M140.7 552.2h0.8M138.3 552.9h0.8M140.2 558.8h0.8M136.9 548.5h0.8M141.6 543.6h0.8M134.3 527.6h0.8M143.3 551.9h0.8M140.6 562.4h0.8M140.5 567.9h0.8M137.4 556.9h0.8M140.9 562.4h0.8M136.8 549.8h0.8M135.1 559.5h0.8M137.3 542.1h0.8M137.2 560.1h0.8M139.0 554.9h0.8M138.9 563.3h0.8M135.7 549.2h0.8M140.8 564.1h0.8M135.2 550.1h0.8M142.0 564.2h0.8M138.2 566.8h0.8M141.8 570.5h0.8M135.3 544.6h0.8M137.3 556.6h0.8M137.7 559.4h0.8M142.0 567.5h0.8M140.9 557.0h0.8M142.4 561.4h0.8M139.1 556.8h0.8M134.2 577.6h0.8M138.5 565.6h0.8M143.9 555.2h0.8M135.8 566.8h0.8M139.1 548.0h0.8M140.8 557.1h0.8M136.3 532.8h0.8M136.2 560.7h0.8M136.1 566.3h0.8M143.8 560.1h0.8M139.1 556.3h0.8M140.6 557.3h0.8M141.0 570.6h0.8M140.6 547.8h0.8M140.1 554.5h0.8M139.3 566.3h0.8M137.0 559.0h0.8M142.0 549.1h0.8M138.1 564.0h0.8M138.0 566.8h0.8M136.2 542.7h0.8M139.4 555.7h0.8M139.3 566.2h0.8M141.0 553.7h0.8M137.6 538.6h0.8M136.2 559.4h0.8M139.1 542.9h0.8M140.4 556.6h0.8M141.2 553.7h0.8M140.8 546.5h0.8M134.2 549.3h0.8M140.2 560.9h0.8M134.1 558.4h0.8M140.1 573.0h0.8M140.4 561.9h0.8M134.8 560.6h0.8M133.9 554.2h0.8M137.7 547.8h0.8M136.1 555.7h0.8M139.9 550.9h0.8M139.3 563.8h0.8M138.5 575.2h0.8M137.8 550.1h0.8M134.0 567.2h0.8M140.2 555.3h0.8M139.3 555.8h0.8M140.6 556.9h0.8M139.1 556.3h0.8M136.4 536.0h0.8M139.8 545.2h0.8M139.5 563.1h0.8M143.0 550.0h0.8M138.9 566.0h0.8M137.0 551.5h0.8M139.6 576.6h0.8M141.1 566.1h0.8M136.3 563.3h0.8M141.2 545.0h0.8M138.6 555.2h0.8M140.1 540.5h0.8M140.2 557.0h0.8M137.9 537.0h0.8M133.6 551.9h0.8M140.1 561.1h0.8M140.3 540.9h0.8M139.0 569.8h0.8M134.9 563.2h0.8M136.8 562.2h0.8M138.8 541.6h0.8M136.0 569.1h0.8M138.3 568.8h0.8M139.3 565.5h0.8M137.6 559.1h0.8M137.7 565.6h0.8M137.2 567.5h0.8M142.3 545.5h0.8M138.1 562.2h0.8M142.8 567.9h0.8M138.7 540.6h0.8M140.5 551.5h0.8M139.0 560.8h0.8M135.2 567.1h0.8M140.7 562.5h0.8M140.0 560.4h0.8M135.2 552.2h0.8M140.5 553.9h0.8M138.6 560.5h0.8M138.7 559.5h0.8M139.7 557.0h0.8M135.9 554.5h0.8M140.8 550.6h0.8M139.7 559.9h0.8M136.4 530.4h0.8M138.5 549.7h0.8M137.0 565.9h0.8M136.7 560.3h0.8M138.8 558.9h0.8M143.3 538.4h0.8M140.8 555.7h0.8M137.9 550.7h0.8M138.6 557.5h0.8M136.4 572.5h0.8M136.8 555.7h0.8M135.5 558.4h0.8M139.4 567.3h0.8M140.9 552.3h0.8M142.3 556.0h0.8M142.2 573.2h0.8M137.6 546.9h0.8M139.8 570.6h0.8M139.5 567.4h0.8M139.9 565.4h0.8M141.7 554.2h0.8M135.2 555.9h0.8M136.7 545.8h0.8M138.1 563.7h0.8M134.2 542.7h0.8M140.4 548.7h0.8M137.6 569.8h0.8M141.2 560.4h0.8M139.8 531.4h0.8M139.8 560.6h0.8M135.2 558.7h0.8M139.6 555.9h0.8M140.4 565.3h0.8M138.7 554.7h0.8M135.7 567.8h0.8M137.2 560.0h0.8M142.2 564.3h0.8M135.5 556.2h0.8M136.8 541.5h0.8M136.6 562.5h0.8M139.3 555.1h0.8M138.9 546.0h0.8M136.7 555.4h0.8M140.4 554.0h0.8M138.1 560.2h0.8M142.0 545.1h0.8M139.8 558.8h0.8M138.4 559.3h0.8M133.8 557.3h0.8M138.0 545.4h0.8M140.5 555.9h0.8M137.7 564.2h0.8M136.4 550.3h0.8M140.5 565.2h0.8M143.3 552.7h0.8M135.1 543.0h0.8M135.7 558.0h0.8M138.0 550.7h0.8M136.1 550.5h0.8M137.7 568.2h0.8M140.0 569.9h0.8M140.5 564.2h0.8M141.3 561.3h0.8M142.2 567.7h0.8M142.8 559.1h0.8M136.7 580.7h0.8M137.9 561.9h0.8M137.6 550.5h0.8M139.6 546.5h0.8M138.1 570.3h0.8M138.8 564.7h0.8M140.0 560.6h0.8M138.8 562.8h0.8M136.2 562.5h0.8M136.0 549.9h0.8M137.1 544.4h0.8M133.9 560.6h0.8M139.7 563.2h0.8M143.7 558.7h0.8M140.3 550.0h0.8M140.2 546.3h0.8M143.2 547.9h0.8M137.6 564.1h0.8M133.3 569.6h0.8M136.3 558.9h0.8M140.8 558.5h0.8M140.7 552.3h0.8M139.9 536.5h0.8M142.1 550.8h0.8M136.5 557.2h0.8M142.5 550.4h0.8M138.5 553.6h0.8M136.3 544.7h0.8M139.9 563.7h0.8M136.7 559.2h0.8M139.6 560.6h0.8M138.1 557.4h0.8M139.2 547.0h0.8M138.2 564.5h0.8M137.2 569.4h0.8M137.9 546.6h0.8M137.8 544.3h0.8M140.0 542.0h0.8M138.6 554.8h0.8M137.8 561.0h0.8M139.2 551.8h0.8M140.5 552.8h0.8M140.6 569.6h0.8M139.4 565.7h0.8M135.3 562.3h0.8M135.0 555.4h0.8M140.2 531.8h0.8M136.7 549.7h0.8M136.3 557.2h0.8M140.0 546.1h0.8M137.0 539.5h0.8M136.8 537.3h0.8M134.9 561.4h0.8M140.6 549.4h0.8M139.3 549.7h0.8M141.0 573.5h0.8M132.7 548.9h0.8M137.0 552.5h0.8M142.2 571.8h0.8M138.5 563.0h0.8" stroke="#7d9de3" stroke-width="0.8" opacity="0.8" fill="none" filter="url(#b0)"/>
<path d="M136.0 554.3h0.8M140.1 555.2h0.8M141.9 547.2h0.8M137.7 568.1h0.8M135.5 556.3h0.8M143.3 558.8h0.8M141.2 546.9h0.8M139.5 547.2h0.8M147.2 558.0h0.8M143.3 557.2h0.8M139.8 562.7h0.8M143.8 559.6h0.8M142.8 560.2h0.8M140.1 558.4h0.8M141.3 554.6h0.8M143.0 568.1h0.8M134.6 564.1h0.8M139.6 562.8h0.8M137.8 555.0h0.8M144.2 555.6h0.8M142.1 549.2h0.8M137.4 565.4h0.8M141.5 555.5h0.8M136.6 550.2h0.8M137.7 555.7h0.8M140.6 552.6h0.8M138.9 556.6h0.8M144.7 548.1h0.8M136.5 562.4h0.8M136.5 553.7h0.8M141.4 566.3h0.8M134.6 539.6h0.8M140.7 562.1h0.8M141.5 551.4h0.8M141.6 544.4h0.8M143.6 564.4h0.8M140.4 560.6h0.8M137.7 564.4h0.8M139.0 551.5h0.8M138.6 546.0h0.8M143.1 567.3h0.8M136.5 554.9h0.8M142.4 552.8h0.8M136.1 557.9h0.8M144.2 556.6h0.8M137.6 554.3h0.8M134.9 555.7h0.8M144.9 562.3h0.8M140.7 558.5h0.8M139.4 556.7h0.8M139.1 556.9h0.8M139.4 557.1h0.8M143.2 555.9h0.8M136.9 558.8h0.8M140.2 553.2h0.8M142.8 551.3h0.8M143.9 559.2h0.8M138.8 552.1h0.8M140.6 550.9h0.8M144.0 543.2h0.8M141.5 554.0h0.8M137.5 559.6h0.8M139.5 558.6h0.8M139.6 554.4h0.8M142.7 561.4h0.8M144.1 555.9h0.8M145.7 554.1h0.8M136.7 545.4h0.8M136.4 551.1h0.8M135.4 557.9h0.8M141.1 555.8h0.8M141.8 555.4h0.8M140.2 554.2h0.8M141.1 549.6h0.8M145.0 564.7h0.8M141.1 568.9h0.8M137.9 561.1h0.8M135.9 559.4h0.8M138.7 561.7h0.8M141.4 561.4h0.8M142.9 559.0h0.8M140.1 565.0h0.8M142.1 558.7h0.8M145.5 554.5h0.8M146.5 562.2h0.8M141.3 547.8h0.8M144.8 554.2h0.8M141.3 556.7h0.8M144.0 559.6h0.8M135.3 552.3h0.8" stroke="#8fa9e6" stroke-width="0.8" opacity="0.6" fill="none" filter="url(#b0)"/>
<g filter="url(#b1)" opacity="1" transform="rotate(0 138.3 557.5)"><ellipse cx="138.3" cy="557.5" rx="4.6" ry="14.0" fill="#aabdec"/><ellipse cx="138.3" cy="557.5" rx="3.4" ry="10.36" fill="#7396dc"/><ellipse cx="138.3" cy="557.5" rx="2.21" ry="6.72" fill="#4682d0"/><ellipse cx="138.3" cy="557.5" rx="1.01" ry="3.08" fill="#3aaecb"/></g>
<g filter="url(#b1)" opacity="1" transform="rotate(0 138.3 556.5)"><ellipse cx="138.3" cy="556.5" rx="3.6" ry="8.5" fill="#aabdec"/><ellipse cx="138.3" cy="556.5" rx="3.17" ry="7.48" fill="#7396dc"/><ellipse cx="138.3" cy="556.5" rx="2.74" ry="6.46" fill="#4682d0"/><ellipse cx="138.3" cy="556.5" rx="2.23" ry="5.27" fill="#3aaecb"/><ellipse cx="138.3" cy="556.5" rx="1.8" ry="4.25" fill="#56c46c"/><ellipse cx="138.3" cy="556.5" rx="1.37" ry="3.23" fill="#b6d83e"/><ellipse cx="138.3" cy="556.5" rx="1.01" ry="2.38" fill="#f0d426"/><ellipse cx="138.3" cy="556.5" rx="0.61" ry="1.45" fill="#f08e24"/><ellipse cx="138.3" cy="556.5" rx="0.27" ry="0.64" fill="#e4401c"/></g>
<rect x="116.5" y="520.5" width="72.0" height="72.0" fill="none" stroke="#161616" stroke-width="1.3"/>
<line x1="143.5" y1="520.5" x2="143.5" y2="592.5" stroke="#161616" stroke-width="1.0"/>
<line x1="116.5" y1="562.5" x2="188.5" y2="562.5" stroke="#161616" stroke-width="1.0"/>
<text x="152.5" y="516.9" font-size="9.8" font-weight="bold" text-anchor="middle" fill="#161616" stroke="#161616" stroke-width="0.2">dT- No Release</text>
<text x="118.9" y="529.7" font-size="8.2" font-weight="normal" text-anchor="start" fill="#3a3a3a" stroke="#3a3a3a" stroke-width="0.2">91</text>
<text x="173.4" y="529.7" font-size="8.2" font-weight="normal" text-anchor="start" fill="#3a3a3a" stroke="#3a3a3a" stroke-width="0.2">1.8</text>
<text x="118.9" y="589.8" font-size="8.2" font-weight="normal" text-anchor="start" fill="#3a3a3a" stroke="#3a3a3a" stroke-width="0.2">7</text>
<text x="173.4" y="589.8" font-size="8.2" font-weight="normal" text-anchor="start" fill="#3a3a3a" stroke="#3a3a3a" stroke-width="0.2">0.2</text>
<text x="104.6" y="529.9" font-size="7.2" font-weight="bold" text-anchor="start" fill="#161616" stroke="#161616" stroke-width="0.28">10<tspan dy="-2.74" font-size="3.96">5</tspan></text>
<text x="104.6" y="590.9" font-size="7.2" font-weight="bold" text-anchor="start" fill="#161616" stroke="#161616" stroke-width="0.28">10<tspan dy="-2.74" font-size="3.96">1</tspan></text>
<text x="117.1" y="601.3" font-size="7.2" font-weight="bold" text-anchor="start" fill="#161616" stroke="#161616" stroke-width="0.28">10<tspan dy="-2.74" font-size="3.96">1</tspan></text>
<text x="178.0" y="601.3" font-size="7.2" font-weight="bold" text-anchor="start" fill="#161616" stroke="#161616" stroke-width="0.28">10<tspan dy="-2.74" font-size="3.96">5</tspan></text>
<text x="153.0" y="608.5" font-size="7.6" font-weight="bold" text-anchor="middle" fill="#161616" stroke="#161616" stroke-width="0.28">EdU</text>
<text x="111.3" y="556.2" font-size="7.8" font-weight="bold" text-anchor="middle" fill="#161616" stroke="#161616" stroke-width="0.28" transform="rotate(-90 111.3 556.2)"><tspan font-size="6.6" dy="1.3">γ</tspan><tspan dy="-1.3">H2AX</tspan></text>
<ellipse cx="250" cy="561" rx="12" ry="5" fill="#9fb6ea" opacity="0.5" filter="url(#b3)" transform="rotate(0 250 561)"/>
<ellipse cx="259" cy="561" rx="9" ry="10" fill="#9fb6ea" opacity="0.5" filter="url(#b3)" transform="rotate(0 259 561)"/>
<path d="M261.0 562.7h0.8M265.9 566.6h0.8M275.3 553.9h0.8M271.7 564.8h0.8M260.4 567.8h0.8M253.3 568.1h0.8M254.7 568.1h0.8M248.5 572.6h0.8M240.0 554.5h0.8M256.5 563.4h0.8M248.1 557.0h0.8M259.9 571.4h0.8M271.5 556.3h0.8M256.3 557.9h0.8M240.0 556.6h0.8M269.7 547.7h0.8M276.4 562.8h0.8M231.3 565.4h0.8M274.9 555.3h0.8M271.3 568.5h0.8M265.8 568.4h0.8M263.6 567.4h0.8M270.4 565.2h0.8M264.1 565.3h0.8M258.6 552.4h0.8M237.0 551.0h0.8M243.2 546.4h0.8M264.8 557.8h0.8M265.7 556.4h0.8M261.3 559.0h0.8M260.3 581.6h0.8M275.0 573.7h0.8M260.3 578.7h0.8M266.4 569.8h0.8M244.0 555.0h0.8M259.0 558.9h0.8M251.2 541.2h0.8M248.7 560.0h0.8M260.5 550.4h0.8M255.6 579.0h0.8M258.9 541.6h0.8M255.0 561.1h0.8M271.3 563.0h0.8M272.5 564.3h0.8M270.2 574.4h0.8M274.3 563.0h0.8M243.4 563.0h0.8M262.4 554.1h0.8M266.4 559.4h0.8M266.0 562.9h0.8M246.7 571.4h0.8M279.6 570.2h0.8M260.3 544.0h0.8M260.7 560.7h0.8M248.2 542.1h0.8M262.1 570.7h0.8M265.1 583.7h0.8M235.9 564.5h0.8M256.8 575.2h0.8M256.7 551.4h0.8M256.5 565.4h0.8M248.9 553.2h0.8M260.1 569.7h0.8M254.5 565.9h0.8M251.5 557.7h0.8M259.3 570.7h0.8M274.9 559.8h0.8M262.1 580.6h0.8M266.5 557.5h0.8M261.7 546.9h0.8M233.7 553.5h0.8M249.1 547.7h0.8M268.6 556.6h0.8M258.1 561.8h0.8M254.8 549.4h0.8M278.8 541.4h0.8M256.8 568.0h0.8M254.9 560.0h0.8M260.6 563.4h0.8M253.4 571.8h0.8M262.8 576.0h0.8M258.2 541.3h0.8" stroke="#a9bdee" stroke-width="0.8" opacity="0.75" fill="none" filter="url(#b0)"/>
<path d="M245.0 557.7h0.8M260.4 550.4h0.8M253.0 569.2h0.8M259.6 556.4h0.8M256.3 561.8h0.8M254.0 559.0h0.8M252.4 562.5h0.8M268.7 570.6h0.8M248.0 576.2h0.8M256.2 551.9h0.8M246.2 562.0h0.8M258.8 556.9h0.8M251.2 559.6h0.8M259.0 565.5h0.8M261.2 545.5h0.8M252.8 562.8h0.8M259.8 566.3h0.8M246.2 571.3h0.8M248.4 559.7h0.8M253.7 557.9h0.8M251.4 566.4h0.8M262.9 563.3h0.8M247.8 556.9h0.8M256.7 563.7h0.8M253.1 559.3h0.8M276.3 561.4h0.8M254.9 545.0h0.8M251.6 571.7h0.8M263.3 553.2h0.8M262.9 562.2h0.8M251.3 566.2h0.8M252.7 559.1h0.8M257.3 562.4h0.8M253.9 563.0h0.8M257.2 562.3h0.8M260.0 556.9h0.8M247.2 560.6h0.8M266.1 563.2h0.8M258.8 556.2h0.8M248.8 552.9h0.8M250.5 558.6h0.8M245.9 560.3h0.8M245.7 565.3h0.8M256.9 549.5h0.8M253.1 562.6h0.8M259.9 566.1h0.8M254.6 560.1h0.8M255.4 564.6h0.8M252.1 560.0h0.8M258.2 558.8h0.8M249.3 569.9h0.8M260.8 555.1h0.8M271.4 556.0h0.8M250.8 558.6h0.8M261.0 570.8h0.8M267.1 564.7h0.8M257.6 565.4h0.8M251.4 556.4h0.8M261.0 562.4h0.8M258.8 554.4h0.8M258.9 551.6h0.8M263.9 561.1h0.8M252.5 558.0h0.8M277.3 581.5h0.8M252.0 570.0h0.8M236.1 568.4h0.8M257.3 562.7h0.8M250.2 552.5h0.8M258.9 558.1h0.8M260.8 568.0h0.8M256.3 564.6h0.8M258.4 562.6h0.8M253.4 562.6h0.8M260.3 561.6h0.8M253.9 551.5h0.8M249.4 571.3h0.8M264.5 563.0h0.8M259.3 560.1h0.8M262.1 567.3h0.8M255.3 563.1h0.8M264.1 550.7h0.8M250.3 557.3h0.8M248.7 558.2h0.8M251.0 558.5h0.8M260.6 553.4h0.8M257.9 570.1h0.8M258.5 553.0h0.8M252.8 568.7h0.8M255.2 556.9h0.8M262.8 556.4h0.8M249.1 565.1h0.8M257.3 556.8h0.8M260.5 568.3h0.8M265.0 561.7h0.8M260.5 564.3h0.8M246.4 571.9h0.8M252.4 557.4h0.8M251.2 554.7h0.8M265.1 561.1h0.8M253.0 549.1h0.8M258.4 560.7h0.8M249.7 560.4h0.8M243.9 565.3h0.8M248.3 564.3h0.8M257.9 547.2h0.8M249.1 556.8h0.8M262.9 565.0h0.8M261.7 572.0h0.8M255.1 557.7h0.8M243.6 554.3h0.8M261.2 555.6h0.8M250.8 567.3h0.8M239.3 570.2h0.8M266.5 549.3h0.8M260.5 561.0h0.8M263.7 558.8h0.8M256.3 570.3h0.8M252.9 563.8h0.8M261.7 560.3h0.8M263.5 564.5h0.8M263.1 549.9h0.8M249.7 563.0h0.8M265.6 570.4h0.8M257.3 556.2h0.8M249.3 548.3h0.8M253.5 564.9h0.8M256.6 551.4h0.8M256.4 561.4h0.8M251.8 570.6h0.8M260.3 568.3h0.8M257.9 554.7h0.8M264.9 568.3h0.8M252.9 552.4h0.8M263.0 557.4h0.8M248.8 560.5h0.8M261.1 556.2h0.8M257.4 567.6h0.8M262.5 550.9h0.8M262.3 572.7h0.8M263.8 560.5h0.8M259.8 550.8h0.8M252.9 557.7h0.8M272.1 561.1h0.8M250.1 572.2h0.8M266.0 550.3h0.8M255.7 550.0h0.8M264.6 546.2h0.8M270.5 554.1h0.8M249.6 574.9h0.8M261.0 563.4h0.8M263.3 554.6h0.8M263.4 559.2h0.8M260.9 562.6h0.8" stroke="#7d9de3" stroke-width="0.8" opacity="0.8" fill="none" filter="url(#b0)"/>
<path d="M264.3 555.0h0.8M249.9 564.1h0.8M269.4 563.6h0.8M256.3 564.2h0.8M250.9 561.5h0.8M248.4 561.6h0.8M260.9 569.1h0.8M254.5 565.4h0.8M264.1 556.1h0.8M255.7 552.3h0.8M252.6 563.1h0.8M246.6 559.6h0.8M260.9 567.8h0.8M244.2 562.9h0.8M253.9 550.2h0.8M251.9 563.9h0.8M257.0 564.4h0.8M255.6 564.2h0.8M252.1 556.4h0.8M256.3 552.8h0.8M263.5 559.9h0.8M252.0 557.0h0.8M252.1 561.6h0.8M255.2 565.1h0.8M251.2 560.7h0.8M249.3 558.8h0.8M264.1 560.5h0.8M261.7 560.8h0.8M251.5 556.9h0.8M251.3 562.7h0.8M258.3 575.0h0.8M265.7 565.1h0.8M252.1 561.6h0.8M252.4 572.2h0.8M253.4 566.6h0.8M250.1 564.7h0.8M250.8 558.8h0.8M258.0 561.7h0.8M256.8 560.7h0.8M252.7 560.5h0.8M256.7 556.6h0.8M260.0 561.9h0.8M253.2 567.2h0.8M254.1 552.0h0.8M263.6 559.3h0.8M264.7 563.1h0.8M252.5 566.4h0.8M259.5 565.4h0.8M257.3 568.4h0.8M261.9 559.5h0.8M249.3 560.8h0.8M257.4 556.4h0.8M256.1 568.2h0.8M254.7 566.4h0.8M252.3 556.4h0.8M261.9 560.2h0.8M258.2 565.9h0.8M265.5 555.2h0.8M260.1 562.1h0.8M257.8 569.6h0.8M255.8 558.2h0.8M259.7 551.4h0.8M259.0 556.8h0.8M258.8 557.5h0.8M259.7 559.9h0.8M253.4 563.6h0.8M260.9 553.4h0.8M250.4 559.8h0.8M255.1 567.4h0.8M265.3 563.3h0.8M262.7 559.5h0.8M250.0 562.5h0.8M248.0 568.8h0.8M258.4 566.6h0.8M253.8 553.4h0.8M256.0 563.4h0.8M256.0 558.6h0.8M257.5 560.1h0.8M264.3 554.8h0.8M245.7 560.6h0.8M258.5 553.7h0.8M256.9 563.1h0.8M258.8 562.5h0.8M253.2 554.1h0.8M262.0 559.4h0.8M250.0 568.4h0.8M260.9 547.7h0.8M270.4 561.7h0.8M248.7 565.6h0.8M258.8 567.0h0.8M257.1 553.1h0.8M256.2 559.0h0.8M258.6 560.2h0.8M260.0 555.2h0.8M254.2 558.6h0.8M259.2 552.9h0.8M257.1 572.4h0.8M247.8 566.0h0.8M257.6 565.8h0.8M257.3 562.3h0.8M259.0 563.2h0.8M250.8 560.4h0.8M266.5 567.8h0.8M252.7 556.5h0.8M256.2 566.1h0.8M261.8 558.2h0.8M244.8 560.8h0.8M248.5 566.7h0.8M264.7 564.2h0.8M260.1 563.7h0.8M266.6 566.2h0.8M264.5 555.5h0.8M254.4 561.0h0.8M245.5 559.7h0.8M256.9 560.7h0.8M270.1 560.1h0.8M256.0 560.4h0.8M255.3 554.3h0.8M262.8 561.1h0.8M258.9 561.2h0.8M253.0 553.4h0.8M255.6 563.6h0.8M256.4 564.5h0.8M253.0 559.6h0.8M257.8 560.5h0.8M257.9 567.9h0.8M254.9 561.7h0.8M253.7 563.6h0.8M258.2 557.5h0.8M251.8 555.3h0.8M255.6 561.8h0.8M254.5 560.5h0.8M257.7 572.2h0.8M263.1 572.1h0.8M257.7 562.1h0.8M267.1 562.8h0.8" stroke="#4f82d6" stroke-width="0.8" opacity="0.8" fill="none" filter="url(#b0)"/>
<path d="M229.6 565.9h0.8M231.6 572.8h0.8M226.6 568.0h0.8M228.0 573.0h0.8M231.7 571.1h0.8M224.0 566.5h0.8M232.3 566.8h0.8M227.7 563.5h0.8M218.8 563.0h0.8M234.0 571.8h0.8M238.8 572.3h0.8M222.6 569.0h0.8M226.2 567.4h0.8M226.9 566.7h0.8M226.9 571.8h0.8M227.6 566.1h0.8M225.6 564.5h0.8M228.2 568.5h0.8M228.8 569.7h0.8M222.9 567.0h0.8M230.8 573.2h0.8M224.9 567.7h0.8M233.2 564.1h0.8M226.2 566.8h0.8M234.8 567.8h0.8M236.0 573.9h0.8M221.8 565.7h0.8M233.7 568.2h0.8M231.7 572.8h0.8M236.5 575.9h0.8M228.7 572.8h0.8M235.0 570.0h0.8M227.9 568.4h0.8M231.5 572.2h0.8M228.7 569.4h0.8M231.7 566.5h0.8M230.1 568.1h0.8M222.4 561.4h0.8M229.4 572.2h0.8M226.6 568.2h0.8M237.9 576.7h0.8M225.2 567.3h0.8M227.9 574.2h0.8M227.0 566.2h0.8M232.5 573.2h0.8M233.3 568.2h0.8M235.8 570.1h0.8M231.8 572.7h0.8M233.0 571.3h0.8M237.9 575.7h0.8M228.7 572.8h0.8M235.7 579.2h0.8M227.7 568.8h0.8M229.8 568.9h0.8M233.3 565.3h0.8M234.2 572.1h0.8M229.8 562.6h0.8M226.1 563.8h0.8M235.9 572.8h0.8M228.0 569.1h0.8M233.9 568.1h0.8M230.1 565.8h0.8M228.1 568.4h0.8M228.1 560.7h0.8M234.3 575.4h0.8M226.1 565.4h0.8M229.7 567.8h0.8M231.5 571.0h0.8M226.5 562.3h0.8M235.6 573.7h0.8M226.9 571.4h0.8M229.9 573.7h0.8M227.1 569.6h0.8M230.7 571.4h0.8M222.5 566.9h0.8M235.1 573.3h0.8M230.4 571.5h0.8M230.9 568.8h0.8M228.1 567.2h0.8M233.6 573.6h0.8M235.3 572.5h0.8M228.9 570.9h0.8M224.1 565.8h0.8M230.9 566.2h0.8M225.6 563.6h0.8M229.1 569.1h0.8M232.7 573.3h0.8M231.4 568.5h0.8M228.9 567.0h0.8M227.6 569.5h0.8M227.3 570.5h0.8M233.7 573.1h0.8M237.5 578.3h0.8M229.4 570.5h0.8M227.8 566.9h0.8M223.8 563.0h0.8M230.3 564.7h0.8M223.7 562.8h0.8M226.7 563.4h0.8M229.2 562.6h0.8M230.8 572.8h0.8M225.8 559.6h0.8M232.1 578.0h0.8M225.6 562.9h0.8M231.5 572.3h0.8M234.4 575.0h0.8M229.1 571.0h0.8M237.5 571.8h0.8M232.5 570.5h0.8M229.1 569.5h0.8M230.2 571.5h0.8M228.2 563.8h0.8M227.8 571.5h0.8M234.8 565.7h0.8M230.1 568.6h0.8M224.1 570.0h0.8M225.8 558.7h0.8M229.5 561.2h0.8M243.2 574.0h0.8M232.6 565.5h0.8M229.3 565.9h0.8M229.8 570.6h0.8M225.5 577.4h0.8M225.6 565.9h0.8M231.7 571.8h0.8M229.7 571.8h0.8M227.6 572.1h0.8M230.3 574.0h0.8M230.0 573.3h0.8M226.5 573.7h0.8" stroke="#5f8fdc" stroke-width="0.8" opacity="0.8" fill="none" filter="url(#b0)"/>
<path d="M233.1 540.7h0.8M231.1 540.4h0.8M231.9 554.7h0.8M233.2 559.8h0.8M233.5 541.5h0.8M231.2 552.7h0.8M231.3 536.3h0.8M234.9 570.6h0.8M231.1 524.9h0.8M234.5 546.4h0.8M235.3 538.7h0.8M232.0 555.0h0.8M228.2 545.0h0.8M231.9 553.8h0.8M231.7 524.8h0.8M226.4 551.2h0.8M234.0 534.3h0.8M231.7 556.2h0.8M229.1 533.9h0.8M231.5 544.0h0.8M230.8 546.2h0.8M230.8 550.7h0.8M230.0 547.7h0.8M229.9 540.2h0.8M231.7 540.6h0.8M232.0 547.7h0.8M233.1 553.2h0.8M227.1 547.7h0.8M232.2 548.9h0.8M231.1 557.6h0.8M232.3 536.0h0.8M231.2 556.9h0.8M231.3 536.6h0.8M232.5 553.3h0.8M233.2 549.5h0.8M231.2 555.6h0.8M228.9 563.2h0.8M231.7 549.9h0.8M232.4 555.0h0.8M226.8 556.2h0.8M230.8 541.0h0.8M232.7 556.3h0.8M231.7 542.4h0.8M231.2 539.5h0.8M235.8 542.1h0.8M232.7 562.5h0.8M229.3 543.2h0.8M226.7 545.8h0.8M228.4 549.4h0.8M230.6 548.1h0.8M231.1 543.8h0.8M231.2 547.4h0.8M229.6 545.2h0.8M229.9 536.4h0.8M230.9 531.3h0.8M232.0 547.7h0.8M231.3 558.3h0.8M232.8 544.0h0.8M231.6 558.6h0.8M230.7 551.3h0.8M231.8 538.7h0.8M231.5 544.5h0.8M230.5 551.8h0.8M232.2 539.9h0.8M230.5 546.2h0.8M229.2 551.3h0.8M230.6 541.7h0.8M232.8 547.2h0.8M228.8 547.1h0.8M230.6 550.6h0.8" stroke="#8fa9e6" stroke-width="0.8" opacity="0.45" fill="none" filter="url(#b0)"/>
<path d="M262.0 562.9h0.8M256.6 560.4h0.8M250.1 562.7h0.8M246.2 561.8h0.8M243.9 563.4h0.8M240.8 566.9h0.8M222.0 556.2h0.8M246.1 562.3h0.8M247.9 555.4h0.8M249.8 557.9h0.8M248.3 559.5h0.8M245.1 555.7h0.8M238.1 559.1h0.8M239.8 561.8h0.8M237.5 561.7h0.8M250.6 558.4h0.8M240.5 559.8h0.8M252.2 565.8h0.8M261.4 561.3h0.8M251.1 561.7h0.8M246.8 557.3h0.8M244.5 564.9h0.8M256.2 558.9h0.8M236.1 567.5h0.8M247.1 562.6h0.8M245.7 554.7h0.8M249.0 557.6h0.8M245.0 558.8h0.8M245.1 569.3h0.8M257.0 554.2h0.8M236.6 559.2h0.8M242.4 563.7h0.8M257.4 558.4h0.8M250.7 560.3h0.8M233.6 565.1h0.8M258.6 558.1h0.8M251.1 559.2h0.8M246.3 559.4h0.8M246.0 561.1h0.8M242.8 561.9h0.8M238.2 563.8h0.8M240.5 554.5h0.8M252.5 559.8h0.8M243.3 564.2h0.8M246.7 567.7h0.8M249.8 556.0h0.8M243.5 558.7h0.8M245.0 566.8h0.8M265.1 566.9h0.8M249.9 562.9h0.8M248.0 553.3h0.8M256.2 567.9h0.8M243.4 560.9h0.8M242.1 560.3h0.8M241.1 557.1h0.8M255.0 554.2h0.8M253.8 557.0h0.8M245.2 554.0h0.8M251.3 557.5h0.8M263.6 557.7h0.8M248.6 563.3h0.8M240.4 558.1h0.8M239.7 562.9h0.8M248.9 564.5h0.8M237.3 557.8h0.8M246.1 559.4h0.8M249.0 564.9h0.8M247.8 558.2h0.8M246.6 558.5h0.8M242.5 567.4h0.8M251.4 567.3h0.8M245.5 560.8h0.8M238.4 561.8h0.8M251.8 563.4h0.8M239.1 561.4h0.8M253.1 559.4h0.8M251.6 559.2h0.8M246.9 559.0h0.8M237.0 558.1h0.8M248.1 560.0h0.8M246.8 559.0h0.8M252.8 560.4h0.8M249.5 559.3h0.8M255.7 560.6h0.8M249.8 568.6h0.8M249.8 555.6h0.8M242.4 562.1h0.8M238.1 555.9h0.8M246.1 555.5h0.8M254.2 562.5h0.8M244.8 565.2h0.8M242.4 556.9h0.8M253.0 561.1h0.8M245.4 564.6h0.8M246.0 563.2h0.8M248.4 565.0h0.8M250.6 559.4h0.8M257.0 559.7h0.8M258.6 556.6h0.8M247.3 553.2h0.8M250.4 565.6h0.8M244.3 562.6h0.8M245.4 566.0h0.8M249.2 562.2h0.8M254.3 555.7h0.8M251.6 561.5h0.8M255.6 561.1h0.8M251.0 560.8h0.8M240.3 559.2h0.8M245.7 556.4h0.8M246.6 559.4h0.8M259.2 560.1h0.8M247.8 561.3h0.8M251.6 555.4h0.8M235.2 566.5h0.8M241.3 557.9h0.8M254.8 562.0h0.8M241.6 563.6h0.8M239.4 566.6h0.8M244.8 562.2h0.8M246.9 567.7h0.8M240.5 560.7h0.8M261.3 553.9h0.8M243.7 562.0h0.8M245.5 562.5h0.8M254.7 557.1h0.8M242.6 565.6h0.8M260.0 551.7h0.8M250.6 564.4h0.8M242.4 558.0h0.8M239.4 560.3h0.8M239.3 563.5h0.8M242.4 562.8h0.8M236.5 564.1h0.8M251.5 564.3h0.8M248.8 569.0h0.8M253.5 561.2h0.8M257.7 559.8h0.8M248.0 566.7h0.8M243.9 561.0h0.8M248.7 561.6h0.8M245.4 564.5h0.8M261.4 559.7h0.8M237.1 559.4h0.8M237.7 556.6h0.8M240.0 564.7h0.8M248.0 563.5h0.8M246.3 564.5h0.8M244.3 565.5h0.8M252.9 561.8h0.8M237.2 557.2h0.8M248.7 557.4h0.8M245.9 560.4h0.8M256.2 558.6h0.8M247.9 559.4h0.8M241.9 562.5h0.8M253.5 556.1h0.8M257.0 568.7h0.8M248.0 562.8h0.8M240.0 559.6h0.8M249.1 560.7h0.8M256.2 558.0h0.8M245.3 562.8h0.8M246.5 560.2h0.8M246.2 562.4h0.8M234.1 570.0h0.8M252.0 557.3h0.8M240.9 557.1h0.8M249.9 554.6h0.8M263.4 559.1h0.8M237.6 568.1h0.8M247.0 562.7h0.8M245.7 560.1h0.8M260.8 554.2h0.8M248.7 558.4h0.8M244.7 560.8h0.8M234.7 563.1h0.8M248.4 562.9h0.8M243.0 563.6h0.8M243.9 563.7h0.8M256.1 563.2h0.8M237.4 561.3h0.8M240.1 567.7h0.8M248.4 556.6h0.8M236.8 565.6h0.8M240.3 562.4h0.8M244.8 560.5h0.8M244.1 561.0h0.8M257.8 558.0h0.8M250.5 562.7h0.8M242.5 557.2h0.8M241.1 563.0h0.8M248.1 564.6h0.8M249.5 561.4h0.8M247.1 561.8h0.8M247.3 563.3h0.8M241.3 564.7h0.8M257.9 560.7h0.8M250.8 556.9h0.8M247.7 556.1h0.8M253.7 561.2h0.8M254.3 564.9h0.8M242.1 563.8h0.8M257.4 568.7h0.8M246.3 562.9h0.8M242.8 563.2h0.8M251.0 566.0h0.8M246.0 561.2h0.8M250.4 560.4h0.8M260.9 553.4h0.8M235.6 559.3h0.8M251.7 561.1h0.8M249.9 555.8h0.8M251.0 562.9h0.8M258.0 563.8h0.8M242.9 558.5h0.8M239.5 559.3h0.8M246.4 565.3h0.8M258.1 561.3h0.8M251.0 560.4h0.8" stroke="#6f93dd" stroke-width="0.8" opacity="0.75" fill="none" filter="url(#b0)"/>
<g filter="url(#b1)" opacity="0.95" transform="rotate(-55 230 570)"><ellipse cx="230.0" cy="570.0" rx="5.5" ry="2.6" fill="#aabdec"/><ellipse cx="230.0" cy="570.0" rx="4.07" ry="1.92" fill="#7396dc"/><ellipse cx="230.0" cy="570.0" rx="2.64" ry="1.25" fill="#4682d0"/><ellipse cx="230.0" cy="570.0" rx="1.21" ry="0.57" fill="#3aaecb"/></g>
<g filter="url(#b1)" opacity="1.0" transform="rotate(0 259.6 560.8)"><ellipse cx="258.1" cy="560.8" rx="8.0" ry="10.5" fill="#aabdec"/><ellipse cx="258.28" cy="560.8" rx="7.04" ry="9.24" fill="#7396dc"/><ellipse cx="258.46" cy="560.8" rx="6.08" ry="7.98" fill="#4682d0"/><ellipse cx="258.67" cy="560.8" rx="4.96" ry="6.51" fill="#3aaecb"/><ellipse cx="258.85" cy="560.8" rx="4.0" ry="5.25" fill="#56c46c"/><ellipse cx="259.03" cy="560.8" rx="3.04" ry="3.99" fill="#b6d83e"/><ellipse cx="259.18" cy="560.8" rx="2.24" ry="2.94" fill="#f0d426"/><ellipse cx="259.35" cy="560.8" rx="1.36" ry="1.79" fill="#f08e24"/><ellipse cx="259.49" cy="560.8" rx="0.6" ry="0.79" fill="#e4401c"/></g>
<rect x="210.5" y="520.5" width="72.0" height="72.0" fill="none" stroke="#161616" stroke-width="1.3"/>
<line x1="236.5" y1="520.5" x2="236.5" y2="592.5" stroke="#161616" stroke-width="1.0"/>
<line x1="210.5" y1="562.5" x2="282.5" y2="562.5" stroke="#161616" stroke-width="1.0"/>
<text x="246.5" y="516.9" font-size="9.8" font-weight="bold" text-anchor="middle" fill="#161616" stroke="#161616" stroke-width="0.2">dT- Release</text>
<text x="213.9" y="529.7" font-size="8.2" font-weight="normal" text-anchor="start" fill="#3a3a3a" stroke="#3a3a3a" stroke-width="0.2">2</text>
<text x="269.2" y="529.7" font-size="8.2" font-weight="normal" text-anchor="start" fill="#3a3a3a" stroke="#3a3a3a" stroke-width="0.2">55</text>
<text x="213.9" y="589.8" font-size="8.2" font-weight="normal" text-anchor="start" fill="#3a3a3a" stroke="#3a3a3a" stroke-width="0.2">6</text>
<text x="269.2" y="589.8" font-size="8.2" font-weight="normal" text-anchor="start" fill="#3a3a3a" stroke="#3a3a3a" stroke-width="0.2">37</text>
<text x="198.6" y="529.9" font-size="7.2" font-weight="bold" text-anchor="start" fill="#161616" stroke="#161616" stroke-width="0.28">10<tspan dy="-2.74" font-size="3.96">5</tspan></text>
<text x="198.6" y="590.9" font-size="7.2" font-weight="bold" text-anchor="start" fill="#161616" stroke="#161616" stroke-width="0.28">10<tspan dy="-2.74" font-size="3.96">1</tspan></text>
<text x="211.1" y="601.3" font-size="7.2" font-weight="bold" text-anchor="start" fill="#161616" stroke="#161616" stroke-width="0.28">10<tspan dy="-2.74" font-size="3.96">1</tspan></text>
<text x="272.0" y="601.3" font-size="7.2" font-weight="bold" text-anchor="start" fill="#161616" stroke="#161616" stroke-width="0.28">10<tspan dy="-2.74" font-size="3.96">5</tspan></text>
<text x="247.0" y="608.5" font-size="7.6" font-weight="bold" text-anchor="middle" fill="#161616" stroke="#161616" stroke-width="0.28">EdU</text>
<text x="205.3" y="556.2" font-size="7.8" font-weight="bold" text-anchor="middle" fill="#161616" stroke="#161616" stroke-width="0.28" transform="rotate(-90 205.3 556.2)"><tspan font-size="6.6" dy="1.3">γ</tspan><tspan dy="-1.3">H2AX</tspan></text>
<ellipse cx="341" cy="549" rx="12" ry="19" fill="#9fb6ea" opacity="0.6" filter="url(#b3)" transform="rotate(-42 341 549)"/>
<path d="M336.7 568.0h0.8M313.6 532.3h0.8M353.3 578.3h0.8M348.8 579.0h0.8M328.2 559.9h0.8M340.4 540.2h0.8M332.7 557.8h0.8M364.5 546.4h0.8M350.4 556.8h0.8M368.9 559.9h0.8M327.3 539.4h0.8M333.3 558.7h0.8M338.6 552.5h0.8M368.3 591.2h0.8M353.7 576.3h0.8M323.3 545.4h0.8M316.6 543.5h0.8M315.9 551.0h0.8M348.1 562.0h0.8M331.2 570.6h0.8M340.1 550.9h0.8M328.4 574.2h0.8M362.0 561.4h0.8M354.8 570.3h0.8M329.8 536.2h0.8M358.5 560.1h0.8M342.8 547.7h0.8M347.7 561.7h0.8M329.1 568.8h0.8M323.0 552.8h0.8M359.1 566.4h0.8M328.9 536.7h0.8M369.4 533.1h0.8M316.0 570.2h0.8M326.8 547.1h0.8M324.5 529.8h0.8M350.0 544.5h0.8M340.2 556.3h0.8M333.4 562.1h0.8M359.8 564.5h0.8M350.7 525.0h0.8M334.2 535.6h0.8M357.3 565.8h0.8M343.0 540.6h0.8M368.7 548.6h0.8M353.1 541.4h0.8M351.1 537.3h0.8M349.4 543.7h0.8M320.9 527.6h0.8M357.4 550.6h0.8M336.5 556.0h0.8M354.8 554.5h0.8M342.2 588.2h0.8M356.9 585.9h0.8M353.1 543.0h0.8M346.7 552.5h0.8M357.3 575.3h0.8M328.2 547.7h0.8M318.4 528.9h0.8M335.0 524.6h0.8M367.0 551.7h0.8M351.4 525.2h0.8M332.6 545.9h0.8M336.6 530.7h0.8M344.3 552.7h0.8M348.0 521.9h0.8M357.3 550.6h0.8M334.6 526.9h0.8M303.7 571.0h0.8M352.0 544.8h0.8M329.6 549.7h0.8M322.3 574.3h0.8M364.0 569.5h0.8M347.2 543.6h0.8M312.0 527.9h0.8M337.9 536.9h0.8M342.0 557.9h0.8M321.7 565.3h0.8M361.8 584.2h0.8M355.0 567.5h0.8M311.4 534.9h0.8M344.6 537.8h0.8M343.2 576.6h0.8M365.5 581.2h0.8M324.3 529.2h0.8M352.0 577.2h0.8M363.9 547.9h0.8M338.6 574.5h0.8M327.0 549.3h0.8M351.0 570.0h0.8M353.5 554.4h0.8M330.4 546.1h0.8M342.8 532.3h0.8M346.0 560.5h0.8M352.7 566.1h0.8M354.8 555.0h0.8M354.9 523.2h0.8M324.4 543.7h0.8M364.5 563.0h0.8M355.2 523.2h0.8M348.4 538.5h0.8M312.0 524.1h0.8M336.6 529.0h0.8M338.1 534.7h0.8M332.8 531.9h0.8M369.1 573.8h0.8M326.2 526.5h0.8M335.9 558.5h0.8M331.9 525.0h0.8M311.1 533.3h0.8M361.1 539.9h0.8M338.2 540.8h0.8M366.4 542.9h0.8M356.6 569.0h0.8M342.7 541.0h0.8M337.9 553.1h0.8M335.2 573.7h0.8M370.4 563.1h0.8M326.2 522.8h0.8M350.9 545.8h0.8M310.4 534.3h0.8" stroke="#a9bdee" stroke-width="0.8" opacity="0.75" fill="none" filter="url(#b0)"/>
<path d="M332.5 559.0h0.8M336.5 560.5h0.8M345.9 557.2h0.8M338.2 536.3h0.8M345.4 559.3h0.8M346.3 563.5h0.8M352.7 555.7h0.8M344.5 561.0h0.8M341.8 553.3h0.8M339.9 541.0h0.8M319.6 526.7h0.8M342.5 559.8h0.8M315.8 534.9h0.8M329.9 554.8h0.8M349.8 551.6h0.8M336.2 561.6h0.8M343.5 567.4h0.8M337.8 541.6h0.8M337.6 551.7h0.8M348.0 564.6h0.8M337.8 542.7h0.8M331.5 533.9h0.8M339.1 545.9h0.8M337.1 552.4h0.8M329.3 534.2h0.8M369.6 577.3h0.8M340.5 539.8h0.8M358.0 564.5h0.8M349.4 572.2h0.8M355.9 570.7h0.8M345.5 564.7h0.8M348.9 565.5h0.8M349.4 548.5h0.8M345.5 564.8h0.8M333.6 537.2h0.8M342.8 545.3h0.8M331.6 540.8h0.8M350.0 557.4h0.8M343.3 562.4h0.8M331.3 560.7h0.8M334.1 539.0h0.8M330.2 536.1h0.8M355.6 544.0h0.8M339.1 534.9h0.8M327.0 561.0h0.8M347.5 541.3h0.8M351.4 547.8h0.8M352.4 558.7h0.8M333.9 549.0h0.8M351.6 548.7h0.8M328.2 542.0h0.8M345.0 543.7h0.8M337.1 560.8h0.8M364.2 570.1h0.8M320.2 523.4h0.8M342.4 562.4h0.8M337.7 551.9h0.8M353.4 564.6h0.8M341.5 546.7h0.8M346.3 563.3h0.8M340.7 557.7h0.8M350.1 555.2h0.8M348.1 548.7h0.8M359.5 547.5h0.8M328.5 544.8h0.8M348.9 566.8h0.8M348.7 571.3h0.8M338.2 541.9h0.8M334.4 554.1h0.8M344.7 545.3h0.8M346.7 547.9h0.8M344.5 538.1h0.8M330.2 539.4h0.8M330.3 541.7h0.8M330.3 555.6h0.8M324.8 524.1h0.8M321.2 542.6h0.8M348.2 553.7h0.8M341.2 546.4h0.8M338.3 555.8h0.8M334.0 552.1h0.8M341.0 545.4h0.8M328.4 522.1h0.8M340.9 568.0h0.8M333.6 548.2h0.8M337.3 552.2h0.8M343.4 554.3h0.8M362.9 563.6h0.8M327.9 559.7h0.8M337.9 556.6h0.8M335.9 555.8h0.8M342.2 548.1h0.8M348.2 555.3h0.8M334.6 554.9h0.8M355.3 553.8h0.8M339.2 536.7h0.8M346.0 563.1h0.8M343.6 552.9h0.8M347.2 560.8h0.8M333.1 539.2h0.8M340.0 544.6h0.8M344.6 556.9h0.8M336.7 543.5h0.8M330.4 551.5h0.8M329.6 538.8h0.8M358.3 576.2h0.8M337.9 553.8h0.8M331.1 553.0h0.8M343.9 550.3h0.8M331.7 559.0h0.8M345.2 565.8h0.8M354.6 566.2h0.8M332.7 536.6h0.8M342.0 540.3h0.8M341.2 551.5h0.8M344.1 568.2h0.8M332.7 539.0h0.8M337.3 561.5h0.8M351.5 547.8h0.8M339.0 544.2h0.8M352.1 549.8h0.8M331.0 548.0h0.8M339.1 572.4h0.8M356.9 533.5h0.8M350.3 555.3h0.8M358.9 572.3h0.8M327.8 546.8h0.8M358.3 550.8h0.8M344.4 545.1h0.8M342.1 551.7h0.8M338.1 541.8h0.8M362.5 561.9h0.8M329.6 543.3h0.8M363.7 573.7h0.8M347.6 568.2h0.8M330.5 546.0h0.8M345.7 542.8h0.8M347.1 557.2h0.8M349.6 546.6h0.8M343.9 535.4h0.8M344.2 559.4h0.8M329.3 529.6h0.8M345.4 558.4h0.8M356.1 568.6h0.8M333.9 560.1h0.8M322.1 538.6h0.8M339.2 550.6h0.8M333.1 545.9h0.8M336.7 535.4h0.8M325.1 539.4h0.8M334.6 529.6h0.8M342.7 532.2h0.8M355.3 566.4h0.8M346.8 568.5h0.8M329.6 552.2h0.8M347.3 550.6h0.8M345.8 551.5h0.8M335.7 526.2h0.8M344.9 562.2h0.8M326.6 550.8h0.8M366.9 550.8h0.8M344.7 548.3h0.8M332.3 542.2h0.8M327.4 544.9h0.8M335.1 558.0h0.8M335.2 538.7h0.8M330.1 536.4h0.8M340.4 545.0h0.8M342.5 552.4h0.8M350.4 545.5h0.8M338.8 555.0h0.8M348.1 553.4h0.8M339.9 536.7h0.8M339.9 562.4h0.8M338.7 560.4h0.8M367.7 548.5h0.8M325.5 549.5h0.8M340.9 545.3h0.8M347.3 549.0h0.8M348.0 553.9h0.8M342.4 569.5h0.8M325.2 548.7h0.8M327.4 562.6h0.8M340.1 544.4h0.8M315.0 534.8h0.8M334.1 535.9h0.8M341.2 554.4h0.8M344.4 554.5h0.8M357.0 548.6h0.8M335.0 555.0h0.8M332.2 542.9h0.8M341.5 543.0h0.8M348.2 555.3h0.8M347.8 533.4h0.8M364.4 567.7h0.8M353.0 545.0h0.8M338.4 555.6h0.8M333.9 549.3h0.8M328.8 556.2h0.8M338.5 570.3h0.8M340.6 543.5h0.8M342.5 551.2h0.8M342.3 554.4h0.8M344.2 555.6h0.8M337.2 555.1h0.8M343.7 533.5h0.8M345.0 563.7h0.8M344.4 550.1h0.8M338.7 545.2h0.8M342.8 558.0h0.8M348.0 555.7h0.8M363.7 570.0h0.8M354.2 563.6h0.8M362.2 571.7h0.8M340.2 537.7h0.8M345.4 536.5h0.8M340.4 537.6h0.8M344.8 549.9h0.8M339.0 569.9h0.8M341.1 541.4h0.8M326.4 532.5h0.8M333.3 545.8h0.8M348.7 548.2h0.8M350.7 562.6h0.8M344.4 561.2h0.8M344.1 556.0h0.8M352.1 565.7h0.8M356.8 572.5h0.8M338.6 538.0h0.8M350.7 565.9h0.8M339.1 530.8h0.8M347.9 555.6h0.8" stroke="#7d9de3" stroke-width="0.8" opacity="0.8" fill="none" filter="url(#b0)"/>
<path d="M355.5 546.1h0.8M346.4 557.6h0.8M336.2 543.9h0.8M339.7 548.9h0.8M341.0 551.7h0.8M337.8 543.4h0.8M334.1 536.6h0.8M347.2 551.3h0.8M333.6 538.1h0.8M340.6 553.6h0.8M348.1 553.9h0.8M335.1 556.2h0.8M338.4 538.0h0.8M333.3 551.6h0.8M338.6 549.5h0.8M348.4 547.7h0.8M338.5 563.1h0.8M347.3 556.1h0.8M350.1 560.3h0.8M338.9 546.4h0.8M342.3 561.4h0.8M329.7 538.5h0.8M353.2 556.4h0.8M336.4 562.2h0.8M355.2 560.2h0.8M341.8 540.5h0.8M348.1 553.9h0.8M344.5 566.2h0.8M348.9 554.5h0.8M343.1 559.6h0.8M339.3 548.4h0.8M343.8 552.7h0.8M335.2 556.1h0.8M332.7 537.6h0.8M364.9 562.3h0.8M344.3 547.9h0.8M330.1 546.5h0.8M342.0 561.3h0.8M339.0 555.1h0.8M345.4 558.5h0.8M352.6 552.2h0.8M351.1 555.5h0.8M343.0 537.9h0.8M338.5 544.9h0.8M340.3 548.7h0.8M346.5 555.1h0.8M319.5 536.9h0.8M349.4 557.0h0.8M349.3 562.4h0.8M351.4 542.5h0.8M343.9 554.9h0.8M335.2 537.0h0.8M330.5 534.1h0.8M338.5 556.1h0.8M335.2 540.9h0.8M349.9 559.5h0.8M338.3 560.7h0.8M338.2 536.2h0.8M349.4 549.2h0.8M340.4 551.8h0.8M341.6 550.9h0.8M336.0 546.1h0.8M356.2 559.2h0.8M349.8 561.3h0.8M330.1 544.3h0.8M345.7 549.9h0.8M337.3 542.0h0.8M346.4 559.2h0.8M349.8 546.4h0.8M326.3 530.4h0.8M347.2 562.3h0.8M344.2 537.5h0.8M334.2 563.7h0.8M333.4 552.5h0.8M336.7 550.2h0.8M341.7 558.8h0.8M334.4 540.1h0.8M348.3 571.3h0.8M345.3 549.9h0.8M348.3 572.3h0.8M338.0 555.3h0.8M338.3 544.2h0.8M339.1 546.9h0.8M324.1 548.5h0.8M335.6 549.1h0.8M353.9 560.7h0.8M354.5 567.0h0.8M340.4 553.0h0.8M329.8 539.4h0.8M339.9 549.4h0.8M342.9 559.0h0.8M341.2 546.9h0.8M339.8 556.0h0.8M332.7 547.6h0.8M345.5 559.2h0.8M339.3 550.5h0.8M344.0 556.1h0.8M346.2 557.1h0.8M346.3 557.2h0.8M335.5 546.5h0.8M341.9 547.7h0.8M348.9 562.6h0.8M334.4 547.0h0.8M349.3 562.2h0.8M343.4 564.0h0.8M341.1 545.9h0.8M335.5 546.8h0.8M327.2 551.6h0.8M325.4 544.5h0.8M343.5 556.6h0.8M335.5 551.8h0.8M337.0 552.2h0.8M350.9 557.9h0.8M346.4 551.1h0.8M351.8 550.7h0.8M347.1 553.0h0.8M338.3 540.4h0.8M338.4 554.7h0.8M332.4 555.5h0.8M342.1 554.3h0.8M352.7 557.5h0.8M333.0 561.2h0.8M352.1 559.8h0.8M341.6 556.1h0.8M334.8 544.7h0.8M348.6 556.8h0.8M340.6 552.8h0.8M344.8 545.4h0.8M342.0 554.1h0.8M345.9 552.1h0.8M349.4 549.4h0.8M326.1 543.7h0.8M351.8 563.2h0.8M338.8 547.6h0.8M346.0 553.6h0.8M338.4 537.1h0.8M345.8 549.3h0.8M351.8 555.5h0.8M338.1 565.7h0.8M338.4 543.4h0.8M347.7 558.9h0.8M340.9 562.8h0.8M356.0 560.4h0.8M334.0 549.6h0.8M343.7 545.1h0.8M326.4 530.8h0.8M339.4 528.7h0.8M337.8 560.6h0.8M338.3 543.2h0.8M335.8 563.0h0.8M336.4 543.5h0.8M338.2 546.3h0.8M341.7 559.7h0.8M341.6 551.2h0.8M331.7 550.5h0.8M336.4 547.6h0.8M343.0 549.8h0.8M339.4 550.5h0.8M349.6 556.6h0.8M343.1 561.7h0.8M350.2 553.2h0.8M340.4 554.5h0.8M341.5 533.5h0.8M343.2 545.9h0.8M349.1 545.7h0.8M340.9 543.3h0.8M349.7 564.2h0.8M332.7 551.9h0.8M332.3 542.9h0.8M336.1 539.8h0.8M340.0 549.0h0.8M333.2 560.2h0.8M335.1 556.9h0.8M328.3 555.7h0.8M346.5 549.8h0.8M356.5 558.3h0.8M343.2 546.8h0.8M344.9 555.8h0.8M329.5 548.1h0.8M352.6 563.4h0.8M338.3 556.8h0.8M343.1 558.7h0.8M342.6 549.3h0.8M343.5 545.7h0.8M348.0 572.2h0.8M342.9 553.5h0.8M339.3 542.1h0.8M334.5 547.2h0.8M346.3 551.6h0.8M333.7 540.8h0.8M328.6 543.6h0.8M330.9 550.7h0.8M345.7 553.3h0.8M338.0 562.1h0.8M353.1 560.9h0.8M335.2 536.9h0.8M344.9 550.7h0.8M337.9 544.4h0.8M347.9 546.2h0.8M327.2 540.0h0.8M331.4 541.9h0.8M345.8 568.1h0.8M347.4 558.1h0.8M350.7 552.0h0.8M331.9 544.0h0.8M341.4 552.3h0.8M338.8 549.2h0.8M332.6 540.0h0.8" stroke="#4f82d6" stroke-width="0.8" opacity="0.8" fill="none" filter="url(#b0)"/>
<path d="M325.7 542.7h0.8M324.1 546.1h0.8M326.2 549.7h0.8M322.3 551.8h0.8M325.4 542.0h0.8M321.7 550.0h0.8M325.2 522.8h0.8M325.5 581.5h0.8M323.6 566.5h0.8M323.7 535.0h0.8M323.2 562.9h0.8M322.0 552.6h0.8M322.8 560.4h0.8M328.2 556.9h0.8M321.7 574.8h0.8M323.4 551.2h0.8M324.8 564.6h0.8M324.3 559.9h0.8M324.2 542.3h0.8M325.2 565.8h0.8M322.5 536.0h0.8M322.9 558.0h0.8M326.3 558.5h0.8M318.3 548.9h0.8M324.0 558.7h0.8M321.3 551.8h0.8M324.1 563.8h0.8M325.3 574.7h0.8M322.7 551.0h0.8M323.1 561.5h0.8M327.4 558.0h0.8M324.2 545.5h0.8M321.7 576.1h0.8M323.8 572.0h0.8M325.3 550.3h0.8M324.3 545.6h0.8M325.0 554.2h0.8M325.3 570.1h0.8M322.9 565.0h0.8M324.7 549.9h0.8M324.4 570.1h0.8M324.2 567.0h0.8M324.5 570.3h0.8M323.7 552.1h0.8M325.0 529.8h0.8M323.0 573.4h0.8M322.6 577.0h0.8M326.7 550.3h0.8M322.6 560.4h0.8M325.5 575.8h0.8M326.6 547.8h0.8M325.4 550.1h0.8M325.8 561.2h0.8M326.4 554.9h0.8M325.4 541.4h0.8M322.2 561.7h0.8M324.1 565.9h0.8M327.9 548.8h0.8M321.9 543.8h0.8M322.8 569.1h0.8M324.6 552.5h0.8M325.1 554.0h0.8M324.4 555.7h0.8M321.6 565.2h0.8M324.2 581.3h0.8M324.1 549.0h0.8M324.2 547.5h0.8M323.9 551.6h0.8M324.5 545.3h0.8M323.7 551.1h0.8M322.2 555.0h0.8M325.1 564.2h0.8M324.5 554.5h0.8M325.6 552.6h0.8M325.1 536.0h0.8M321.8 547.4h0.8M325.9 552.8h0.8M324.7 543.2h0.8M321.3 587.9h0.8M326.8 575.9h0.8M324.0 548.2h0.8M324.4 553.0h0.8M323.1 527.4h0.8M324.3 530.5h0.8M323.0 538.2h0.8M327.4 541.0h0.8M323.2 560.0h0.8M323.4 558.6h0.8M325.6 548.4h0.8M324.9 554.2h0.8M321.6 559.0h0.8M322.1 567.6h0.8M324.0 557.7h0.8M325.7 546.2h0.8M322.6 572.2h0.8M325.2 560.6h0.8M320.5 555.9h0.8M322.3 548.7h0.8M321.1 536.8h0.8M323.2 560.0h0.8M323.1 553.6h0.8M324.1 571.1h0.8M322.9 557.1h0.8M328.8 555.3h0.8M325.4 541.9h0.8M322.1 550.5h0.8M329.4 548.4h0.8M326.5 549.8h0.8M321.7 534.0h0.8M324.2 567.8h0.8M322.6 550.9h0.8M322.0 547.2h0.8M325.8 549.3h0.8M322.1 562.6h0.8M324.4 555.0h0.8M327.6 559.0h0.8M326.0 541.3h0.8M323.8 570.2h0.8M325.3 566.1h0.8M321.3 552.3h0.8M327.0 572.4h0.8M318.4 533.8h0.8M326.4 564.7h0.8M326.4 523.3h0.8M324.1 564.7h0.8M326.2 544.4h0.8M325.9 564.7h0.8M323.0 573.8h0.8M326.3 565.8h0.8M323.1 558.8h0.8M323.9 574.7h0.8M328.4 545.6h0.8M327.6 560.6h0.8M322.8 547.2h0.8M326.8 559.2h0.8M322.8 553.3h0.8M323.3 554.0h0.8M327.3 547.6h0.8M324.9 566.4h0.8M327.7 548.4h0.8M323.4 550.9h0.8M321.7 555.5h0.8M322.6 552.9h0.8M324.3 564.2h0.8M324.1 583.2h0.8M324.6 561.5h0.8M324.9 554.4h0.8M325.8 557.3h0.8M321.5 549.4h0.8M326.7 536.9h0.8M327.2 556.8h0.8M324.5 569.8h0.8M324.4 550.0h0.8M320.0 548.3h0.8M321.8 563.5h0.8M324.2 544.6h0.8M326.2 565.6h0.8M328.1 558.5h0.8M321.7 556.6h0.8M325.4 565.6h0.8M321.6 560.9h0.8M325.2 560.0h0.8M321.0 550.1h0.8M323.8 552.8h0.8M325.7 551.0h0.8M320.6 531.0h0.8M324.9 546.1h0.8M323.9 568.1h0.8M323.0 555.0h0.8M321.3 541.5h0.8M325.1 568.7h0.8M322.8 553.2h0.8M324.6 550.3h0.8M324.1 550.8h0.8M325.1 549.4h0.8M323.1 539.7h0.8M322.6 538.2h0.8M323.7 566.8h0.8M321.6 545.5h0.8M322.6 560.6h0.8M323.4 551.6h0.8M322.2 552.2h0.8M323.4 546.0h0.8M326.6 560.9h0.8M323.7 558.8h0.8M328.2 562.3h0.8M323.0 554.9h0.8M326.1 560.5h0.8M323.5 556.4h0.8M321.9 551.5h0.8M323.2 552.4h0.8M326.5 555.6h0.8M326.1 555.2h0.8M321.2 569.1h0.8M323.0 553.9h0.8M326.0 571.1h0.8M324.3 569.7h0.8M323.1 562.6h0.8M322.3 566.4h0.8M323.0 562.6h0.8M321.8 571.6h0.8M327.0 552.2h0.8M324.1 544.3h0.8M323.6 538.7h0.8M325.3 554.4h0.8M326.2 555.2h0.8M323.6 545.7h0.8M325.2 553.7h0.8M321.8 538.2h0.8M325.8 554.0h0.8M323.9 548.9h0.8M323.0 555.0h0.8M324.4 541.6h0.8M328.6 565.5h0.8M320.5 555.9h0.8M326.1 547.8h0.8M321.5 561.2h0.8M322.9 555.1h0.8M327.1 555.2h0.8M326.5 546.3h0.8M320.6 550.7h0.8M323.3 562.8h0.8M324.8 532.7h0.8M321.9 550.2h0.8M322.7 547.8h0.8M323.4 556.9h0.8M321.2 544.6h0.8M322.3 568.7h0.8M323.7 538.3h0.8M324.9 565.6h0.8M321.0 541.3h0.8M324.8 555.7h0.8M325.1 573.2h0.8M325.2 566.4h0.8M323.1 571.0h0.8M322.7 558.9h0.8M320.3 550.5h0.8M325.5 544.7h0.8M323.1 530.6h0.8M323.4 540.3h0.8M324.1 549.6h0.8M322.7 551.3h0.8M323.2 555.0h0.8M323.5 567.9h0.8M326.0 526.7h0.8M326.5 552.6h0.8M324.7 544.8h0.8M325.1 561.5h0.8M323.0 542.3h0.8M325.0 560.0h0.8M322.3 530.9h0.8M322.0 559.5h0.8M326.3 544.0h0.8M323.0 542.8h0.8M324.7 546.1h0.8M327.1 561.6h0.8M323.6 550.4h0.8M325.9 550.5h0.8M323.3 556.2h0.8" stroke="#6f9fe0" stroke-width="0.8" opacity="0.8" fill="none" filter="url(#b0)"/>
<g filter="url(#b1)" opacity="0.7" transform="rotate(0 324.3 555)"><ellipse cx="324.3" cy="555.0" rx="3.3" ry="16.0" fill="#aabdec"/><ellipse cx="324.3" cy="555.0" rx="2.44" ry="11.84" fill="#7396dc"/><ellipse cx="324.3" cy="555.0" rx="1.58" ry="7.68" fill="#4682d0"/><ellipse cx="324.3" cy="555.0" rx="0.73" ry="3.52" fill="#3aaecb"/></g>
<g filter="url(#b1)" opacity="0.8" transform="rotate(0 323.5 570)"><ellipse cx="323.5" cy="570.0" rx="1.6" ry="6.0" fill="#aabdec"/><ellipse cx="323.5" cy="570.0" rx="1.29" ry="4.83" fill="#7396dc"/><ellipse cx="323.5" cy="570.0" rx="0.98" ry="3.66" fill="#4682d0"/><ellipse cx="323.5" cy="570.0" rx="0.66" ry="2.49" fill="#3aaecb"/><ellipse cx="323.5" cy="570.0" rx="0.35" ry="1.32" fill="#56c46c"/></g>
<g filter="url(#b1)" opacity="1.0" transform="rotate(-42 335 544.5)"><ellipse cx="335.0" cy="550.5" rx="10.5" ry="17.5" fill="#aabdec"/><ellipse cx="335.0" cy="549.78" rx="9.24" ry="15.4" fill="#7396dc"/><ellipse cx="335.0" cy="549.06" rx="7.98" ry="13.3" fill="#4682d0"/><ellipse cx="335.0" cy="548.22" rx="6.51" ry="10.85" fill="#3aaecb"/><ellipse cx="335.0" cy="547.5" rx="5.25" ry="8.75" fill="#56c46c"/><ellipse cx="335.0" cy="546.78" rx="3.99" ry="6.65" fill="#b6d83e"/><ellipse cx="335.0" cy="546.18" rx="2.94" ry="4.9" fill="#f0d426"/><ellipse cx="335.0" cy="545.52" rx="1.79" ry="2.98" fill="#f08e24"/><ellipse cx="335.0" cy="544.95" rx="0.79" ry="1.31" fill="#e4401c"/></g>
<rect x="301.5" y="520.5" width="73.0" height="72.0" fill="none" stroke="#161616" stroke-width="1.3"/>
<line x1="328.5" y1="520.5" x2="328.5" y2="592.5" stroke="#161616" stroke-width="1.0"/>
<line x1="301.5" y1="562.5" x2="374.5" y2="562.5" stroke="#161616" stroke-width="1.0"/>
<text x="338.0" y="516.9" font-size="9.8" font-weight="bold" text-anchor="middle" fill="#161616" stroke="#161616" stroke-width="0.2">dT- Release + LY</text>
<text x="305.1" y="529.7" font-size="8.2" font-weight="normal" text-anchor="start" fill="#3a3a3a" stroke="#3a3a3a" stroke-width="0.2">13</text>
<text x="362.5" y="529.7" font-size="8.2" font-weight="normal" text-anchor="start" fill="#3a3a3a" stroke="#3a3a3a" stroke-width="0.2">76</text>
<text x="305.1" y="589.8" font-size="8.2" font-weight="normal" text-anchor="start" fill="#3a3a3a" stroke="#3a3a3a" stroke-width="0.2">7</text>
<text x="362.5" y="589.8" font-size="8.2" font-weight="normal" text-anchor="start" fill="#3a3a3a" stroke="#3a3a3a" stroke-width="0.2">4</text>
<text x="289.6" y="529.9" font-size="7.2" font-weight="bold" text-anchor="start" fill="#161616" stroke="#161616" stroke-width="0.28">10<tspan dy="-2.74" font-size="3.96">5</tspan></text>
<text x="289.6" y="590.9" font-size="7.2" font-weight="bold" text-anchor="start" fill="#161616" stroke="#161616" stroke-width="0.28">10<tspan dy="-2.74" font-size="3.96">1</tspan></text>
<text x="302.1" y="601.3" font-size="7.2" font-weight="bold" text-anchor="start" fill="#161616" stroke="#161616" stroke-width="0.28">10<tspan dy="-2.74" font-size="3.96">1</tspan></text>
<text x="364.0" y="601.3" font-size="7.2" font-weight="bold" text-anchor="start" fill="#161616" stroke="#161616" stroke-width="0.28">10<tspan dy="-2.74" font-size="3.96">5</tspan></text>
<text x="338.5" y="608.5" font-size="7.6" font-weight="bold" text-anchor="middle" fill="#161616" stroke="#161616" stroke-width="0.28">EdU</text>
<text x="296.3" y="556.2" font-size="7.8" font-weight="bold" text-anchor="middle" fill="#161616" stroke="#161616" stroke-width="0.28" transform="rotate(-90 296.3 556.2)"><tspan font-size="6.6" dy="1.3">γ</tspan><tspan dy="-1.3">H2AX</tspan></text>
</svg></body></html>
